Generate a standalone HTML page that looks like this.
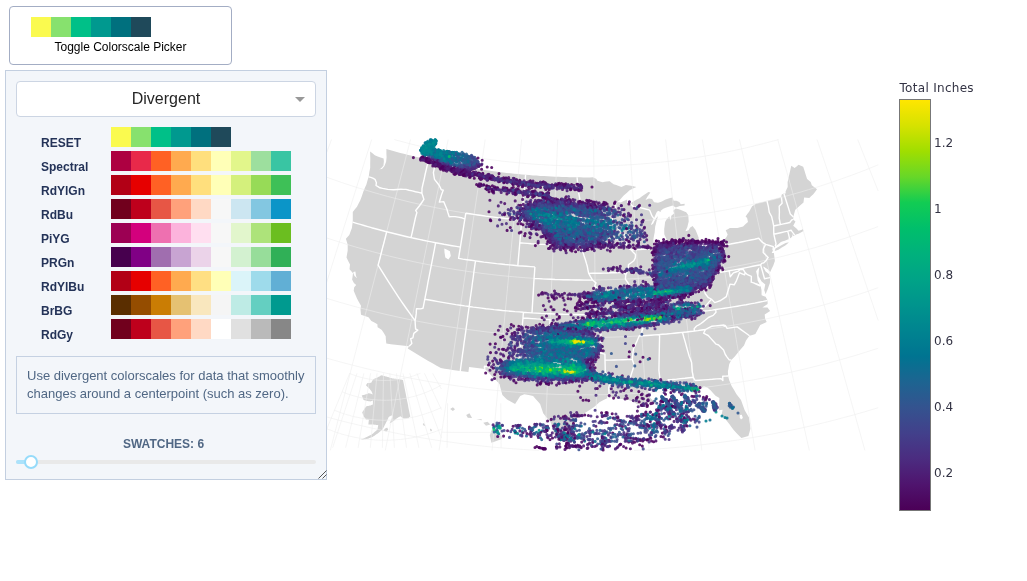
<!DOCTYPE html>
<html><head><meta charset="utf-8"><title>Colorscale Picker</title>
<style>
html,body{margin:0;padding:0;background:#fff;}
body{width:1027px;height:581px;position:relative;overflow:hidden;font-family:"Liberation Sans",sans-serif;}
#map{position:absolute;left:0;top:0;}
</style></head><body>
<svg id="map" width="1027" height="581" viewBox="0 0 1027 581">
<g fill="#d4d4d4" stroke="none" fill-rule="evenodd"><path d="M370.1,151.4L372.5,153.3L374.8,155.2L377.7,156.4L380.5,157.5L383.6,158.4L383.9,161.2L383.4,165.8L380.9,168.6L379.1,169.2L382.0,168.9L384.5,166.1L386.1,161.8L386.6,157.3L386.4,153.7L386.4,149.0L389.8,150.0L393.3,151.0L396.8,151.9L400.3,152.9L403.8,153.8L407.3,154.7L410.8,155.6L414.3,156.5L417.9,157.3L421.4,158.2L424.9,159.0L428.4,159.8L432.1,160.6L435.8,161.4L439.5,162.2L443.2,163.0L446.9,163.7L450.6,164.4L454.3,165.1L458.0,165.8L461.8,166.5L465.5,167.1L469.2,167.8L473.0,168.4L476.7,169.0L480.5,169.5L484.2,170.1L487.9,170.6L491.7,171.1L495.4,171.6L499.2,172.1L503.0,172.5L506.7,172.9L510.5,173.3L514.3,173.7L518.0,174.1L521.8,174.5L525.6,174.8L529.2,175.1L532.9,175.4L536.6,175.6L540.3,175.9L544.0,176.1L547.6,176.3L551.3,176.5L555.0,176.7L558.7,176.8L562.4,177.0L566.1,177.1L569.7,177.2L573.4,177.3L577.1,177.3L580.3,177.3L583.4,177.4L586.6,177.4L589.7,177.4L592.9,177.3L596.5,179.0L597.1,180.4L599.9,181.4L602.8,182.3L604.7,181.8L606.6,181.4L609.7,181.3L611.6,182.7L613.6,184.2L616.2,185.1L618.8,186.1L621.4,187.0L623.6,186.1L625.9,185.1L629.2,185.6L632.5,186.1L634.4,186.5L636.4,186.9L633.0,188.6L629.6,190.2L626.7,192.9L623.7,195.6L621.5,198.0L619.3,200.4L617.0,202.2L619.0,202.3L620.9,202.4L623.2,201.3L625.5,200.3L627.2,199.4L626.9,203.2L630.3,203.6L632.2,202.3L634.2,200.9L636.9,199.6L639.5,198.3L641.7,196.6L643.9,194.9L646.2,193.5L648.4,192.0L650.4,192.4L648.8,194.7L647.2,196.9L645.5,199.9L648.9,198.5L652.1,199.1L654.1,202.3L658.0,202.8L659.9,202.2L661.8,201.6L663.7,200.5L665.5,199.4L667.8,198.7L670.1,198.1L672.6,197.6L673.6,200.8L676.4,200.8L679.3,202.1L680.8,204.3L684.7,203.8L684.5,205.5L682.2,205.7L679.8,205.9L677.8,206.7L675.8,207.5L672.6,205.6L670.3,206.3L667.9,206.9L665.6,207.8L663.3,208.8L660.4,210.9L661.3,212.2L658.0,210.8L656.5,212.6L655.2,215.6L653.9,218.6L652.6,221.0L651.4,223.4L651.0,225.2L653.1,223.8L654.5,221.1L655.9,218.4L658.0,215.9L657.3,218.6L656.5,221.2L655.9,223.9L655.2,226.5L654.9,229.4L654.7,232.3L654.0,235.8L653.4,239.3L653.5,242.7L654.2,245.6L654.8,248.5L655.1,251.8L657.0,255.7L658.0,257.3L660.7,258.0L663.8,256.1L665.7,252.0L666.6,249.0L667.6,246.0L667.0,240.3L665.6,237.3L664.3,234.3L664.2,229.1L664.7,225.6L665.1,222.1L666.5,219.5L669.3,216.2L670.6,220.4L671.3,215.7L674.3,213.3L673.2,210.7L675.7,208.5L678.0,209.1L680.3,209.7L683.2,210.9L686.2,212.2L688.3,215.3L688.5,218.5L688.7,221.6L688.0,224.3L687.4,227.0L685.4,231.3L688.6,230.3L689.9,227.8L692.6,226.1L695.6,229.9L697.1,233.7L698.6,237.6L698.6,242.0L696.0,244.3L694.2,246.9L693.8,250.4L692.1,253.2L696.1,254.7L698.8,255.5L703.0,254.9L705.0,254.3L707.1,253.7L709.0,252.0L710.8,250.2L713.5,248.5L716.1,246.7L719.2,244.2L721.8,242.4L724.2,239.8L726.5,237.1L727.7,234.6L725.7,230.3L727.8,229.2L729.9,228.1L733.7,228.0L737.4,227.9L740.2,227.2L743.1,226.6L744.6,225.0L746.2,223.4L748.0,221.9L747.1,217.9L745.6,216.5L747.3,214.1L749.1,211.7L750.6,209.0L752.1,206.3L754.1,205.0L756.0,203.7L759.7,202.8L763.3,201.9L767.0,201.0L770.6,200.1L774.2,199.2L777.8,198.3L781.4,197.3L781.6,194.8L783.8,193.3L785.7,193.4L785.6,191.4L786.7,189.1L787.7,186.9L787.6,182.2L788.3,178.8L789.3,174.4L790.3,170.1L791.3,165.7L794.6,168.0L796.6,166.4L798.5,164.8L800.9,165.8L803.2,166.8L804.5,170.8L805.8,174.9L807.1,178.9L810.7,181.9L811.8,185.2L813.4,186.5L817.0,189.3L815.2,191.8L813.3,194.3L811.3,196.1L809.3,197.9L806.7,197.8L804.1,197.6L803.5,202.6L800.9,204.8L798.4,207.0L795.3,209.7L794.0,214.2L793.4,217.0L793.1,219.6L795.5,221.5L794.4,223.6L793.2,225.7L796.5,228.4L798.5,230.8L801.4,230.0L802.8,229.0L803.4,230.9L800.9,232.4L798.5,233.8L796.0,234.5L794.8,235.4L792.9,236.1L791.9,233.8L792.2,236.7L789.2,239.0L787.1,239.8L784.9,240.7L782.9,241.3L780.9,241.9L778.0,244.4L775.3,246.2L773.7,248.4L773.1,250.3L771.7,253.0L773.9,253.1L774.4,257.1L774.9,261.1L773.3,265.6L771.7,268.8L770.2,271.9L767.8,269.2L765.7,267.9L763.6,266.6L763.3,267.3L765.6,271.5L768.9,274.0L770.1,277.6L769.9,282.9L768.8,286.1L767.7,289.3L766.6,291.8L765.6,294.2L764.2,290.1L764.7,287.3L765.3,284.5L761.4,281.2L759.9,278.6L758.5,276.0L758.8,271.2L759.3,267.0L757.7,269.1L756.1,271.2L757.0,275.1L757.3,278.0L757.7,280.8L759.8,284.5L757.1,283.6L754.5,282.7L757.5,284.4L760.6,286.1L761.5,290.0L761.6,295.3L765.6,296.8L767.6,300.5L767.6,304.0L765.0,305.8L762.3,307.5L764.9,307.5L767.5,307.6L770.1,311.1L767.4,312.8L764.7,314.4L765.1,318.7L766.7,321.9L763.5,323.4L760.2,324.9L757.8,329.5L755.4,334.1L752.4,334.9L749.5,335.8L747.8,338.1L746.0,340.5L744.0,345.5L741.6,348.3L739.2,351.0L737.0,353.7L734.8,356.4L731.3,360.1L729.2,364.3L728.6,367.8L727.9,371.4L728.1,376.0L729.3,380.5L730.5,383.2L731.6,385.9L734.1,390.1L736.5,394.3L738.7,397.1L741.0,399.9L742.8,405.1L744.7,410.3L746.9,413.9L749.0,417.6L749.5,421.3L750.0,425.1L750.4,428.8L749.4,432.4L748.4,436.0L744.9,437.0L741.4,438.0L737.6,434.2L733.9,430.3L731.6,427.2L729.3,424.1L726.1,420.0L723.9,417.2L721.7,414.4L722.6,409.7L719.0,410.2L719.1,407.0L719.2,403.8L719.3,400.9L719.4,398.1L715.5,395.7L713.2,393.2L710.8,390.6L707.4,387.6L703.8,386.3L701.1,388.4L698.1,390.8L695.2,393.1L691.1,392.5L688.2,388.2L684.3,387.0L680.5,385.8L676.6,386.5L672.7,387.1L669.6,388.0L665.0,388.9L665.1,384.1L663.9,387.7L660.9,387.6L658.5,387.6L656.0,387.7L653.6,388.5L651.2,389.2L650.0,390.7L647.4,391.7L651.0,393.2L649.8,397.3L651.9,399.4L654.1,401.6L655.7,403.2L652.3,404.6L649.9,402.7L647.5,400.9L644.2,403.4L640.7,403.9L637.3,404.3L633.2,401.7L630.6,400.7L628.1,399.7L624.1,399.3L621.6,399.1L619.1,398.9L616.1,398.0L613.1,397.1L610.4,397.6L607.7,398.1L603.5,400.1L599.4,402.2L596.9,404.5L594.4,406.8L590.4,409.4L586.4,412.0L582.4,414.5L578.4,417.0L576.3,419.6L574.3,422.1L573.2,425.5L572.1,428.9L572.6,432.3L573.1,435.7L574.5,440.7L569.9,441.6L566.8,440.4L563.7,439.2L559.1,437.1L554.5,435.0L553.3,430.9L552.1,426.8L550.9,422.7L548.3,419.5L545.7,416.4L543.2,413.3L541.6,408.6L540.1,404.0L537.7,401.3L535.4,398.7L533.1,396.0L528.7,395.1L524.3,394.2L520.2,396.0L517.7,399.9L515.1,403.9L511.0,401.7L507.0,399.5L504.7,397.3L502.4,395.1L501.4,391.4L500.4,387.7L499.5,383.9L496.2,380.6L492.9,377.2L489.7,373.8L487.4,371.4L485.1,368.9L481.1,368.5L477.1,368.0L473.1,367.5L469.1,367.0L468.4,372.1L464.3,371.6L460.3,371.0L456.4,370.5L452.5,369.9L448.6,369.3L444.7,368.7L440.9,368.1L436.7,365.7L432.5,363.3L428.3,360.9L424.1,358.5L420.0,356.0L415.9,353.5L411.8,351.0L407.7,348.5L409.1,346.2L404.6,345.8L400.0,345.3L395.4,344.7L390.9,344.2L386.3,343.6L385.9,339.8L385.7,336.2L383.8,333.1L381.8,330.0L379.7,328.6L377.6,327.2L377.4,324.2L374.4,322.6L371.4,321.0L368.5,317.3L364.8,316.0L361.0,314.7L360.5,309.3L361.0,305.8L359.0,302.3L357.1,298.8L355.4,294.8L353.7,290.7L354.2,287.3L356.2,284.9L353.9,283.0L352.1,279.5L352.6,276.4L353.0,273.2L351.3,271.2L349.5,269.2L350.0,264.5L348.2,261.0L346.5,257.5L347.1,254.1L347.7,250.6L347.7,247.6L347.7,244.6L346.8,241.7L345.9,238.7L349.3,234.9L350.6,231.4L351.9,227.9L352.3,225.0L352.7,222.2L352.8,219.2L352.8,216.2L352.8,212.0L354.9,209.3L357.0,206.7L358.6,203.6L360.2,200.5L361.8,196.2L363.3,191.8L364.8,188.1L366.4,184.4L367.5,180.6L368.7,176.8L369.4,171.7L370.2,167.8L370.2,163.6L370.3,159.5L370.2,155.5L370.1,151.4ZM739.8,415.1L741.8,414.7L742.9,418.0L741.0,419.5L739.7,417.4L739.8,415.1ZM444.3,248.4L447.1,249.8L449.9,251.2L450.8,256.0L448.4,259.6L445.3,257.4L444.5,252.5L444.3,248.4ZM353.3,272.1L355.4,271.5L356.0,275.8L356.8,277.9L354.5,276.0L353.4,273.3L353.3,272.1Z"/><path d="M775.5,248.6L777.8,247.3L780.1,245.9L782.8,244.5L785.6,243.1L788.9,242.3L787.1,243.9L785.3,245.6L781.8,247.6L778.4,249.7L774.7,250.9L775.5,248.6Z"/><path d="M410.3,416.6L409.9,414.7L409.5,412.7L409.1,410.8L408.7,408.9L408.3,407.0L408.0,405.0L407.6,403.1L407.2,401.2L406.8,399.2L406.4,397.3L406.1,395.4L405.7,393.5L405.3,391.5L404.9,389.6L404.5,387.7L404.2,385.8L403.8,383.9L403.4,382.0L403.0,380.1L402.4,379.9L401.8,379.7L401.1,379.6L400.5,379.4L399.9,379.2L399.3,379.0L398.6,378.9L398.0,378.9L397.4,378.9L396.8,378.9L396.1,378.8L395.5,378.8L394.9,378.7L394.3,378.7L393.6,378.6L393.0,378.6L392.4,378.4L391.8,378.2L391.1,378.1L390.5,377.9L389.9,377.7L389.3,377.5L388.7,377.3L388.1,377.1L387.5,376.9L386.9,376.8L386.3,376.6L385.7,376.5L385.0,376.3L384.4,376.1L383.8,375.9L383.2,375.7L382.6,375.6L382.0,375.4L381.4,375.2L380.8,375.6L380.1,376.0L379.5,376.4L378.8,376.7L378.1,377.1L377.5,377.4L376.9,377.7L376.3,378.0L375.7,378.3L375.0,378.6L374.4,378.8L373.8,379.1L373.1,379.4L372.5,380.5L371.9,381.6L371.2,382.7L370.6,382.8L369.9,382.9L369.2,383.0L368.6,383.1L367.9,383.1L367.2,383.2L366.6,384.2L365.9,385.2L366.5,385.8L367.1,386.4L367.7,387.0L368.3,387.6L369.0,388.2L369.6,388.8L370.1,389.5L370.6,390.2L371.1,390.8L371.6,391.5L372.0,392.5L372.4,393.5L372.8,394.5L372.2,394.2L371.5,394.0L370.9,393.8L370.2,393.6L369.6,393.4L368.9,393.1L368.2,393.4L367.5,393.7L366.8,394.0L366.0,394.3L365.3,394.5L364.6,394.8L363.9,395.0L363.2,395.1L362.5,395.3L361.7,395.5L362.2,396.6L362.6,397.7L363.1,398.8L363.6,399.9L364.2,400.1L364.8,400.4L365.4,400.6L366.2,400.8L367.0,400.9L367.8,401.0L368.6,401.2L369.5,401.3L370.3,401.4L371.0,401.2L371.6,400.9L372.3,400.7L373.0,400.5L372.9,401.8L372.9,403.2L372.9,404.5L372.2,404.8L371.4,405.1L370.7,405.4L369.9,405.6L369.1,405.8L368.3,406.0L367.6,406.1L366.8,406.3L366.0,406.4L365.2,407.8L364.3,409.1L363.5,410.4L362.8,411.4L362.2,412.3L362.6,413.5L363.0,414.8L363.5,416.1L364.1,416.9L364.7,417.8L365.3,418.6L366.0,419.4L367.0,419.5L367.9,419.6L368.9,419.8L368.7,421.3L368.5,422.9L368.4,424.5L369.1,424.5L369.9,424.5L370.7,424.5L371.5,424.5L372.5,424.6L373.5,424.6L374.5,424.7L375.6,424.8L376.5,424.9L377.4,424.9L378.2,425.0L378.0,426.5L377.7,428.1L377.4,429.7L376.4,430.5L375.5,431.3L374.5,432.1L373.6,432.9L372.6,433.7L371.6,434.5L370.6,435.0L369.6,435.5L368.6,436.0L367.7,436.5L366.7,437.0L365.6,437.5L364.5,438.0L363.4,438.5L362.3,438.9L361.1,439.4L360.0,439.9L361.1,439.7L362.2,439.6L363.3,439.5L364.4,439.3L365.5,439.2L366.6,439.0L367.6,438.7L368.6,438.4L369.6,438.0L370.5,437.7L371.5,437.3L372.5,437.0L373.5,436.3L374.5,435.7L375.4,435.0L376.4,434.3L377.4,433.7L378.3,433.0L379.2,432.2L380.1,431.4L381.0,430.7L381.8,429.9L382.7,429.1L383.4,427.8L384.1,426.4L384.8,425.1L385.5,423.7L386.2,422.3L386.9,421.0L387.5,419.7L388.1,418.4L388.7,417.0L389.4,416.6L390.1,416.2L390.8,415.8L391.5,415.3L392.0,415.9L392.6,416.5L392.0,417.9L391.4,419.3L390.8,420.7L390.2,422.0L389.5,423.4L390.4,422.9L391.3,422.4L392.1,421.9L393.0,421.3L393.8,420.8L394.5,420.3L395.2,419.7L395.9,419.1L396.6,418.6L397.4,418.1L398.1,417.6L398.9,417.1L399.6,416.7L400.3,416.2L401.1,416.8L401.9,417.4L402.8,418.0L403.6,418.6L404.4,418.5L405.2,418.5L406.1,418.4L406.9,418.3L407.7,418.2L408.5,418.2L409.1,417.6L409.7,417.1L410.3,416.6ZM383.5,430.7L384.5,431.0L385.6,431.2L386.6,431.5L387.4,430.5L388.2,429.5L387.7,428.5L387.1,427.5L386.4,427.9L385.6,428.3L384.8,428.7L384.2,429.7L383.5,430.7ZM424.0,426.1L424.6,425.7L425.1,425.3L424.5,424.3L423.8,423.2L423.3,423.6L422.7,423.9L423.4,425.0L424.0,426.1ZM430.9,431.5L431.6,430.8L432.2,430.2L431.5,429.4L430.7,428.6L430.3,429.1L429.9,429.7L430.4,430.6L430.9,431.5Z"/><path d="M491.4,442.7L496.3,441.0L501.1,439.2L502.7,437.5L500.8,435.2L498.9,433.0L495.4,431.3L491.9,429.6L490.8,432.5L489.8,435.3L490.6,439.0L491.4,442.7ZM483.3,422.8L486.0,425.7L490.3,424.5L487.6,421.7L483.3,422.8ZM476.3,420.0L479.3,420.1L482.2,420.2L481.2,418.9L476.3,420.0ZM466.2,414.9L467.8,417.7L472.1,418.0L469.4,413.2L466.2,414.9ZM450.2,409.1L452.9,411.1L455.0,409.2L452.9,407.2L450.2,409.1Z"/></g>
<path d="M319.0,447.8L340.2,396.4L349.7,373.3M332.6,447.8L348.4,399.5L357.0,373.3M345.6,447.8L356.9,401.9L363.9,373.3M358.1,447.8L365.5,403.7L370.6,373.3M370.3,447.8L374.2,404.8L377.1,373.3M447.1,447.8L447.6,403.3M382.4,447.8L383.0,405.2L383.5,373.3M501.1,447.8L500.8,403.3M394.4,447.8L391.8,405.0L389.9,373.3M406.5,447.8L400.6,404.2L396.4,373.3M418.9,447.8L409.3,402.7L403.0,373.3M284.0,152.9L289.8,139.5M431.7,447.8L417.8,400.5L409.8,373.3M284.0,266.7L328.5,147.6L331.5,139.5M441.4,438.0L426.1,397.7L416.9,373.3M284.0,417.9L309.2,337.9L365.1,160.2L371.7,139.5M441.4,409.5L434.2,394.3L424.5,373.3M330.3,450.4L355.8,351.3L402.4,170.9L410.5,139.5M441.4,389.0L432.6,373.3M385.3,450.4L403.1,362.2L440.1,179.6L448.2,139.5M439.1,450.4L450.9,370.6L478.3,186.3L485.2,139.5M492.1,450.4L499.1,376.4L516.7,191.0L521.6,139.5M544.6,450.4L547.6,379.7L555.4,193.6L557.7,139.5M596.8,450.4L596.1,380.5L594.1,194.2L593.6,139.5M649.1,450.4L644.6,378.7L632.8,192.8L629.5,139.5M701.8,450.4L692.9,374.4L671.4,189.3L665.6,139.5M755.1,450.4L741.0,367.5L709.8,183.8L702.3,139.5M809.3,450.4L788.6,358.1L747.8,176.4L739.5,139.5M864.9,450.4L835.7,346.2L785.4,166.9L777.7,139.5M878.2,320.5L822.4,155.4L817.0,139.5M878.2,191.0L858.7,142.1L857.7,139.5M441.4,432.2L447.2,432.3L458.0,432.4L468.7,432.4L479.5,432.4L490.2,432.4L501.0,432.4L506.0,432.3M284.0,404.4L287.8,405.6L297.8,408.7L307.9,411.7L317.9,414.6L328.0,417.3L338.1,420.0L348.2,422.6L358.4,425.0L368.6,427.4L378.8,429.6L389.0,431.7L399.3,433.8L409.6,435.7L419.9,437.5L430.2,439.2L440.5,440.8L450.9,442.2L461.2,443.6L471.6,444.9L482.0,446.0L492.4,447.1L502.8,448.0L513.3,448.8L523.7,449.5L534.1,450.1L538.8,450.4M634.0,450.4L638.6,450.1L649.1,449.5L659.5,448.8L669.9,448.0L680.3,447.1L690.8,446.0L701.1,444.9L711.5,443.6L721.9,442.2L732.2,440.8L742.6,439.2L752.9,437.5L763.2,435.7L773.5,433.8L783.7,431.7L794.0,429.6L804.2,427.4L814.4,425.0L824.5,422.6L834.7,420.0L844.8,417.3L854.9,414.6L864.9,411.7L874.9,408.7L878.2,407.7M284.0,344.7L286.1,345.4L295.5,348.5L304.9,351.5L314.3,354.5L323.7,357.3L333.2,360.0L342.7,362.6L352.3,365.1L361.8,367.5L371.4,369.8L381.0,372.0L390.6,374.2L400.3,376.2L410.0,378.1L419.7,379.9L429.4,381.6L439.1,383.2L448.9,384.7L458.6,386.1L468.4,387.4L478.2,388.6L488.0,389.6L497.8,390.6L507.6,391.5L517.4,392.3L527.3,393.0L537.1,393.5L547.0,394.0L556.8,394.4L566.7,394.6L576.5,394.8L586.4,394.8L596.2,394.8L606.1,394.6L616.0,394.4L625.8,394.0L635.7,393.5L645.5,393.0L655.3,392.3L665.2,391.5L675.0,390.6L684.8,389.6L694.6,388.6L704.4,387.4L714.2,386.1L723.9,384.7L733.7,383.2L743.4,381.6L753.1,379.9L762.8,378.1L772.5,376.2L782.1,374.2L791.8,372.0L801.4,369.8L810.9,367.5L820.5,365.1L830.0,362.6L839.5,360.0L849.0,357.3L858.5,354.5L867.9,351.5L877.3,348.5L878.2,348.2M284.0,283.9L287.0,285.0L295.7,288.1L304.5,291.2L313.3,294.1L322.1,296.9L330.9,299.6L339.8,302.3L348.7,304.8L357.6,307.3L366.6,309.6L375.6,311.9L384.6,314.1L393.6,316.1L402.6,318.1L411.7,320.0L420.8,321.8L429.9,323.5L439.0,325.1L448.1,326.6L457.3,328.0L466.4,329.3L475.6,330.5L484.8,331.7L494.0,332.7L503.2,333.6L512.4,334.4L521.6,335.2L530.9,335.8L540.1,336.3L549.4,336.8L558.6,337.1L567.9,337.3L577.1,337.5L586.4,337.5L595.6,337.5L604.9,337.3L614.2,337.1L623.4,336.8L632.6,336.3L641.9,335.8L651.1,335.2L660.4,334.4L669.6,333.6L678.8,332.7L688.0,331.7L697.2,330.5L706.3,329.3L715.5,328.0L724.7,326.6L733.8,325.1L742.9,323.5L752.0,321.8L761.1,320.0L770.2,318.1L779.2,316.1L788.2,314.1L797.2,311.9L806.2,309.6L815.1,307.3L824.1,304.8L833.0,302.3L841.8,299.6L850.7,296.9L859.5,294.1L868.3,291.2L877.0,288.1L878.2,287.7M284.0,222.4L290.4,224.9L298.5,228.0L306.6,230.9L314.7,233.8L322.9,236.7L331.1,239.4L339.4,242.0L347.6,244.6L355.9,247.1L364.2,249.4L372.6,251.7L381,253.9L389.3,256.1L397.7,258.1L406.2,260.0L414.6,261.9L423.1,263.6L431.6,265.3L440.1,266.9L448.6,268.4L457.2,269.8L465.7,271.1L474.3,272.3L482.8,273.5L491.4,274.5L500.0,275.5L508.6,276.3L517.3,277.1L525.9,277.8L534.5,278.4L543.1,278.9L551.8,279.3L560.4,279.6L569.1,279.8L577.7,280.0L586.4,280.0L595.0,280.0L603.7,279.8L612.3,279.6L621.0,279.3L629.6,278.9L638.3,278.4L646.9,277.8L655.5,277.1L664.1,276.3L672.7,275.5L681.3,274.5L689.9,273.5L698.5,272.3L707.1,271.1L715.6,269.8L724.2,268.4L732.7,266.9L741.2,265.3L749.7,263.6L758.1,261.9L766.6,260.0L775.0,258.1L783.4,256.1L791.8,253.9L800.2,251.7L808.5,249.4L816.8,247.1L825.1,244.6L833.4,242.0L841.6,239.4L849.9,236.7L858.0,233.8L866.2,230.9L874.3,228.0L878.2,226.5M284.0,160.4L288.6,162.4L296.1,165.4L303.5,168.5L311.0,171.4L318.5,174.3L326.1,177.0L333.7,179.7L341.3,182.4L348.9,184.9L356.6,187.4L364.3,189.7L372.0,192.0L379.7,194.2L387.5,196.4L395.3,198.4L403.1,200.4L410.9,202.3L418.7,204.1L426.6,205.8L434.5,207.4L442.4,209.0L450.3,210.5L458.2,211.9L466.2,213.2L474.1,214.4L482.1,215.5L490.1,216.6L498.1,217.6L506.1,218.5L514.1,219.3L522.1,220.0L530.1,220.6L538.1,221.2L546.2,221.6L554.2,222.0L562.2,222.3L570.3,222.5L578.3,222.6L586.4,222.7L594.4,222.6L602.5,222.5L610.5,222.3L618.6,222.0L626.6,221.6L634.6,221.2L642.7,220.6L650.7,220.0L658.7,219.3L666.7,218.5L674.7,217.6L682.7,216.6L690.7,215.5L698.7,214.4L706.6,213.2L714.6,211.9L722.5,210.5L730.4,209.0L738.3,207.4L746.2,205.8L754.0,204.1L761.9,202.3L769.7,200.4L777.5,198.4L785.3,196.4L793.0,194.2L800.8,192.0L808.5,189.7L816.2,187.4L823.8,184.9L831.5,182.4L839.1,179.7L846.7,177.0L854.2,174.3L861.8,171.4L869.2,168.5L876.7,165.4L878.2,164.8M319.2,447.1L320.8,447.8M394.3,139.5L395.0,139.8L402.2,141.7L409.4,143.6L416.6,145.4L423.9,147.2L431.1,148.9L438.4,150.5L445.7,152.0L453.0,153.4L460.4,154.8L467.7,156.1L475.1,157.3L482.4,158.4L489.8,159.5L497.2,160.5L504.6,161.4L512.0,162.2L519.4,162.9L526.8,163.6L534.3,164.2L541.7,164.7L549.1,165.1L556.6,165.5L564.0,165.7L571.5,165.9L578.9,166.1L586.4,166.1L593.8,166.1L601.3,165.9L608.7,165.7L616.2,165.5L623.6,165.1L631.1,164.7L638.5,164.2L645.9,163.6L653.4,162.9L660.8,162.2L668.2,161.4L675.6,160.5L683.0,159.5L690.3,158.4L697.7,157.3L705.1,156.1L712.4,154.8L719.7,153.4L727.0,152.0L734.3,150.5L741.6,148.9L748.9,147.2L756.1,145.4L763.4,143.6L770.6,141.7L777.8,139.8L778.5,139.5M326.8,428.8L328.9,429.6L331.1,430.4L333.2,431.2L335.4,432.0L337.5,432.7L339.7,433.4L341.9,434.1L344.1,434.7L346.3,435.3L348.5,435.9L350.8,436.4L353.0,436.9L355.2,437.4L357.5,437.8L359.7,438.2L362.0,438.5L364.3,438.9L366.5,439.2L368.8,439.4L371.1,439.6L373.4,439.8L375.6,440.0L377.9,440.1L380.2,440.2L382.5,440.2L384.8,440.3L387.1,440.2L389.4,440.2L391.6,440.1L393.9,440.0L396.2,439.8L398.5,439.6L400.8,439.4L403.0,439.2L405.3,438.9L407.6,438.5L409.8,438.2L412.1,437.8L414.3,437.4L416.6,436.9L418.8,436.4L421.0,435.9L423.3,435.3L425.5,434.7L427.7,434.1L429.9,433.4L432.0,432.7L434.2,432.0L436.4,431.2L438.5,430.4L440.6,429.6L441.4,429.3M334.4,410.3L336.3,411.0L338.1,411.7L340.0,412.4L341.9,413.1L343.7,413.7L345.6,414.3L347.5,414.9L349.5,415.4L351.4,416.0L353.3,416.5L355.2,416.9L357.2,417.3L359.1,417.7L361.1,418.1L363.0,418.5L365.0,418.8L367.0,419.1L368.9,419.3L370.9,419.5L372.9,419.7L374.9,419.9L376.8,420.0L378.8,420.1L380.8,420.2L382.8,420.2L384.8,420.3L386.8,420.2L388.8,420.2L390.7,420.1L392.7,420.0L394.7,419.9L396.7,419.7L398.7,419.5L400.6,419.3L402.6,419.1L404.6,418.8L406.5,418.5L408.5,418.1L410.4,417.7L412.4,417.3L414.3,416.9L416.3,416.5L418.2,416.0L420.1,415.4L422.0,414.9L423.9,414.3L425.8,413.7L427.7,413.1L429.6,412.4L431.4,411.7L433.3,411.0L435.1,410.3L437.0,409.5L438.8,408.7L440.6,407.9L441.4,407.5M342.1,391.8L343.6,392.4L345.2,393.0L346.8,393.6L348.4,394.2L350.0,394.7L351.6,395.2L353.2,395.7L354.8,396.2L356.4,396.6L358.1,397.0L359.7,397.4L361.4,397.8L363.0,398.1L364.7,398.4L366.3,398.7L368.0,399.0L369.7,399.2L371.3,399.5L373.0,399.6L374.7,399.8L376.4,399.9L378.0,400.1L379.7,400.1L381.4,400.2L383.1,400.2L384.8,400.3L386.5,400.2L388.2,400.2L389.8,400.1L391.5,400.1L393.2,399.9L394.9,399.8L396.6,399.6L398.2,399.5L399.9,399.2L401.6,399.0L403.2,398.7L404.9,398.4L406.6,398.1L408.2,397.8L409.9,397.4L411.5,397.0L413.1,396.6L414.8,396.2L416.4,395.7L418.0,395.2L419.6,394.7L421.2,394.2L422.8,393.6L424.4,393.0L425.9,392.4L427.5,391.8L429.1,391.1L430.6,390.5L432.1,389.8L433.7,389.0L435.2,388.3L436.7,387.5L438.2,386.7L439.6,385.9L441.1,385.1L441.4,384.9M349.6,373.5L350.9,374.0L352.2,374.5L353.5,375.0L354.8,375.4L356.1,375.9L357.4,376.3L358.8,376.7L360.1,377.1L361.5,377.5L362.8,377.8L364.1,378.1L365.5,378.4L366.9,378.7L368.2,379.0L369.6,379.2L371.0,379.4L372.3,379.6L373.7,379.8L375.1,379.9L376.5,380.1L377.9,380.2L379.2,380.3L380.6,380.4L382.0,380.4L383.4,380.4L384.8,380.5L386.2,380.4L387.6,380.4L388.9,380.4L390.3,380.3L391.7,380.2L393.1,380.1L394.5,379.9L395.9,379.8L397.2,379.6L398.6,379.4L400.0,379.2L401.3,379.0L402.7,378.7L404.1,378.4L405.4,378.1L406.8,377.8L408.1,377.5L409.5,377.1L410.8,376.7L412.1,376.3L413.4,375.9L414.8,375.4L416.1,375.0L417.4,374.5L418.7,374.0L419.9,373.5L420.4,373.3" fill="none" stroke="#eeeeee" stroke-width="1" opacity="0.58"/>
<path d="M368.7,176.8L370.8,177.4L372.8,178.1L375.0,179.3L376.4,182.7L376.0,185.5L378.0,186.7L379.9,187.8L382.6,188.4L385.2,188.9L387.8,189.4L390.6,189.6L393.5,189.7L397.2,189.5L401.0,189.3L403.4,189.4L405.9,189.4L409.1,190.2L412.3,190.9L415.5,191.7L418.7,192.4L421.9,193.2M428.4,159.8L427.4,164.5L426.3,169.3L425.2,174.0L424.2,178.8L423.1,183.5L422.0,188.3L421.9,193.2M421.9,193.2L422.9,196.3L423.9,199.4L421.8,202.5L419.7,205.5L417.7,208.0L415.7,210.5L416.9,212.5L415.5,217.5L414.4,222.5L413.3,227.5L412.2,232.6L411.0,237.6M352.7,222.2L356.5,223.3L360.3,224.4L364.0,225.5L367.8,226.6L371.6,227.7L375.4,228.7L379.2,229.7L382.9,230.7L386.7,231.7L390.8,232.8L394.8,233.8L398.9,234.8L402.9,235.7L407.0,236.7L411.0,237.6L415.1,238.5L419.2,239.4L423.3,240.3L427.4,241.1L431.5,241.9L435.6,242.7L439.8,243.5L443.9,244.3L448.0,245.0L452.1,245.7L456.3,246.4L460.4,247.1M386.7,231.7L385.3,237.3L383.9,242.9L382.4,248.4L381.0,254.0L379.6,259.6L378.1,265.1L380.6,269.1L383.1,273.2L385.6,277.2L388.1,281.2L390.7,285.2L393.3,289.1L395.9,293.1L398.5,297.1L401.2,301.1L403.9,305.0L406.7,309.0L409.5,312.9L412.3,316.8L415.1,320.7M415.1,320.7L415.2,323.1L415.4,326.1L415.6,329.0L417.8,330.1L413.8,333.4L412.9,337.9L410.7,338.6L411.8,343.5L409.1,346.2M415.1,320.7L415.7,317.3L416.2,313.9L416.5,308.7L420.5,308.9L423.0,308.3L423.9,303.8L424.8,299.2M424.8,299.2L425.9,293.5L427.0,287.9L428.0,282.2L429.1,276.6L430.2,270.9L431.3,265.3L432.4,259.6L433.5,254.0L434.6,248.4L435.6,242.7M424.8,299.2L429.2,300.0L433.6,300.8L438.1,301.6L442.5,302.4L446.9,303.1L451.4,303.9L455.8,304.6L460.3,305.2L464.7,305.9L469.2,306.5L473.3,307.1L477.5,307.6L481.6,308.1L485.8,308.7L490.0,309.1L494.1,309.6L498.3,310.0L502.5,310.5L506.7,310.9L510.8,311.2L515.0,311.6L519.2,311.9L523.4,312.3L527.7,312.6L532.0,312.9L536.5,313.1L540.9,313.4L545.4,313.6L549.8,313.8L554.3,314.0L558.7,314.1L563.2,314.3L567.7,314.4L572.1,314.5L576.6,314.5L581.0,314.6L585.5,314.6L590.0,314.6L594.4,314.5L598.9,314.5M435.8,161.4L435.0,165.2L434.2,168.9L433.4,172.7L433.9,176.0L434.5,179.4L436.8,182.3L439.1,185.2L440.2,187.4L441.3,189.7L443.3,190.1L441.6,194.4L440.5,198.2L439.3,202.1L441.6,201.9L443.8,201.8L445.3,205.5L446.9,209.3L448.0,213.0L449.2,216.7L452.1,216.6L455.0,216.6L458.2,217.1L461.4,217.7L464.9,219.1M465.8,213.2L464.9,218.8L464.0,224.4L463.1,230.1L462.2,235.8L461.3,241.4L460.4,247.1L459.5,252.7L458.6,258.4L462.8,259.1L467.0,259.7L471.2,260.3L475.5,260.9M465.8,213.2L469.8,213.8L473.8,214.4L477.8,215.0L481.7,215.5L485.7,216.1L489.7,216.6L493.7,217.1L497.7,217.6L501.7,218.0L505.7,218.5L509.7,218.9L513.7,219.3L517.7,219.6L521.7,220.0M525.6,174.8L525.1,180.4L524.6,186.0L524.1,191.7L523.6,197.3L523.2,203.0L522.7,208.6L522.2,214.3L521.7,220.0L521.2,225.7L520.8,231.4L520.3,237.1L519.8,242.8L519.3,248.5L518.8,254.2L518.3,259.9L517.8,265.7M475.5,260.9L479.7,261.5L483.9,262.1L488.2,262.6L492.4,263.1L496.6,263.6L500.9,264.0L505.1,264.5L509.4,264.9L513.6,265.3L517.8,265.7L522.1,266.0L526.4,266.3L530.6,266.6L534.9,266.9M475.5,260.9L474.7,266.4L473.9,271.9L473.2,277.5L472.4,283.0L471.7,288.5L470.9,294.0L470.1,299.5L469.4,305.0L468.6,310.5L467.8,316.0L467.1,321.5L466.3,327.1L465.6,332.6L464.8,338.1L464.0,343.6L463.3,349.1L462.5,354.5L461.8,360.0L461.0,365.5L460.3,371.0M534.9,266.9L534.5,272.7L534.1,278.4L533.8,283.3L533.5,288.2L533.2,293.2L532.9,298.1L532.6,303.0L532.3,307.9L532.0,312.9M534.1,278.4L538.3,278.6L542.5,278.9L546.6,279.1L550.8,279.3L555.0,279.5L559.1,279.6L563.3,279.7L567.5,279.8L571.6,279.9L575.8,280.0L580.0,280.0L584.1,280.1L588.3,280.1L592.5,280.0M523.4,312.3L523.0,318.0M523.0,318.0L522.5,323.2L522.1,328.3L521.7,333.5L521.2,338.6L520.8,343.8L520.3,348.9L519.9,354.1L519.5,359.2L519.0,364.4L518.6,369.5L514.3,369.2L510.1,368.8L505.8,368.4L501.5,368.1L497.3,367.7L493.0,367.2L488.7,366.8L484.5,366.3L484.4,367.4L485.1,368.9M523.0,318.0L527.5,318.3L532.0,318.6L536.5,318.9L541.1,319.1L545.6,319.4L550.1,319.6L549.9,325.1L549.7,330.7L549.4,336.3L549.2,341.9L552.9,343.8L556.5,345.7L559.8,346.7L563.0,347.6L566.8,347.4L571.0,349.5L575.2,351.5L578.0,351.2L580.8,350.8L584.6,350.8L588.3,350.8L591.1,350.3L593.9,349.8L597.3,351.5L600.8,353.1M522.6,209.3L526.6,209.6L530.5,209.9L534.5,210.2L538.4,210.5L542.4,210.7L546.3,211.0L550.3,211.2L554.3,211.3L558.2,211.5L562.2,211.6L566.1,211.7L570.1,211.8L574.1,211.9L578.0,212.0L582.0,212.0M519.8,242.8L523.6,243.1L527.4,243.4L531.3,243.7L535.1,243.9L538.9,244.2L542.7,244.4L546.6,244.6L550.4,244.8L554.2,244.9L558.1,245.1L561.9,245.2L565.7,245.3L567.8,246.7L569.8,248.1L572.3,247.6L574.8,247.1L577.7,248.7L580.6,250.2L582.7,251.4M577.1,177.3L577.4,181.1L577.7,184.8L578.0,188.6L578.6,192.4L579.3,196.2L580.0,199.9L580.8,203.9L581.7,207.9L582.0,212.0M582.0,212.0L579.7,215.9L582.8,219.3L582.8,224.4L582.8,229.6L582.8,234.7L582.7,239.9M582.7,239.9L581.5,244.4L582.1,247.9L582.7,251.4M582.7,239.9L586.6,239.9L590.6,239.9L594.5,239.8L598.4,239.8L602.3,239.7L606.2,239.6L610.1,239.5L614.0,239.4L617.9,239.2L621.8,239.1L625.8,238.9M582.7,251.4L584.1,256.0L585.6,260.5L586.4,263.4L587.3,266.3L587.9,269.7L588.6,273.2L590.5,276.6L592.5,280.0M592.5,280.0L596.0,282.9L594.7,285.8L596.7,287.9L598.7,290.1L598.7,295.0L598.8,299.9L598.8,304.7L598.8,309.6L598.9,314.5L599.0,320.2M588.6,273.4L592.4,273.3L596.3,273.3L600.1,273.2L603.9,273.1L607.8,273.0L611.6,272.8L615.5,272.7L619.3,272.5L623.1,272.3L625.8,274.7M599.0,320.2L599.6,324.5L600.2,328.7L600.9,332.9L600.9,337.9L600.8,343.0L600.8,348.0L600.8,353.1M600.8,353.1L604.9,354.1L605.0,357.1L605.0,360.1M605.0,360.1L605.1,364.0L605.2,367.9L605.3,371.8L607.0,374.6L608.7,377.5L610.3,382.0L609.5,384.9L608.7,387.8L608.9,390.6L609.1,393.5L607.7,398.1M605.0,360.1L609.6,360.1L614.1,360.0L618.7,359.9L623.2,359.7L627.8,359.6L632.3,359.4M599.0,320.2L603.5,320.2L608.0,320.1L612.5,319.9L617.0,319.8L621.5,319.6L626.0,319.4L630.5,319.2L635.0,319.0L639.5,318.7L638.6,321.6L637.7,324.6L640.8,324.4L643.9,324.2M617.0,202.2L615.5,203.4L615.6,206.5L615.7,209.6L613.4,212.0L611.1,214.3L612.5,218.9L612.6,222.0L612.7,225.1L614.6,226.5L616.4,227.9L619.8,230.0L622.3,232.5L624.9,234.9L625.8,238.9M625.8,238.9L626.1,243.5L627.6,247.4L631.2,250.0M631.2,250.0L635.1,249.8L639.1,249.6L643.0,249.3L646.9,249.1L650.9,248.8L654.8,248.5M631.2,250.0L633.3,252.2L635.5,254.4L635.3,257.9L633.8,260.8L631.2,262.7L628.5,264.6L628.3,269.2L627.1,272.0L625.8,274.7M625.8,274.7L625.4,279.1L627.7,282.5L630.0,285.8L632.9,290.3L635.2,291.3L637.4,292.3L637.0,295.8L636.5,299.3L638.6,300.9L640.7,302.5L642.7,305.8L644.7,309.1L648.1,312.4M648.1,312.4L647.2,315.3L646.3,318.3L645.1,321.2L643.9,324.2L642.5,329.5L640.9,334.7L639.2,336.0L637.9,339.0L636.7,341.9L635.0,345.4L633.4,349.0L632.8,354.2L632.3,359.4L633.2,362.2L634.2,365.0L632.6,370.3L630.9,375.5L629.9,379.0L629.0,382.5M629.0,382.5L633.6,382.3L638.2,382.0L642.8,381.7L647.5,381.4L646.5,385.5L648.3,388.1L650.0,390.7M658.0,257.3L658.4,262.7L658.9,268.1L659.4,273.5L659.8,278.9L660.3,284.2L659.7,289.5L658.9,293.0L658.1,296.6L657.7,299.5L657.2,302.4M657.2,302.4L655.8,306.6L654.3,310.7L651.2,311.6L648.1,312.4M657.2,302.4L661.1,300.3L663.4,301.0L665.7,301.7L668.2,300.3L670.8,298.9L675.2,298.4L677.1,295.1L678.3,292.3L679.6,289.5L681.9,287.1L684.2,284.7M684.2,284.7L683.6,279.7L683.0,274.8L682.5,269.8L681.9,264.8L681.4,259.9L680.8,255.0M663.8,256.1L667.2,255.8L670.6,255.4L674.0,255.0L677.3,254.7L680.7,254.3L680.8,255.0L684.6,254.4L688.3,253.8L692.1,253.2M684.2,284.7L686.9,284.3L690.0,287.4L692.3,288.0L694.6,288.6L697.6,287.7L700.5,286.9L702.5,288.4L704.5,289.9M704.5,289.9L707.7,287.3L707.2,283.9L711.0,282.2L712.9,277.3L715.1,274.9L717.2,272.5L718.0,269.8L718.7,267.0L718.6,261.9M720.3,272.4L719.4,267.2L718.6,262.1L717.8,257.0L716.9,251.8L716.1,246.7M720.3,272.4L723.3,271.9L726.2,271.4L729.2,270.8L733.1,270.1L737.1,269.4L741.0,268.7L745.0,267.9L748.9,267.1L752.8,266.3L756.7,265.5L760.6,264.7L762.0,263.1L763.6,263.1M760.6,264.7L761.9,269.4L763.2,274.0L764.5,278.7L767.3,278.1L770.1,277.6M763.6,263.1L765.9,260.8L768.2,257.4L765.7,255.0L763.2,252.6L763.3,249.0L764.5,246.6L765.7,244.3M765.7,244.3L769.5,245.5L773.3,246.7L773.1,250.3M765.7,244.3L762.2,242.2L758.7,238.3L754.7,239.2L750.7,240.0L746.6,240.9L742.6,241.7L738.6,242.5L734.5,243.2L730.5,244.0L726.4,244.7L722.3,245.4L721.8,242.4M775.3,246.2L776.0,243.7L774.9,239.0L773.8,234.2M773.8,234.2L773.7,230.1L773.7,226.0M773.7,226.0L772.7,221.2L771.6,216.5L769.3,212.3L768.8,209.5L768.4,206.7L767.7,203.8L767.0,201.0M773.7,226.0L777.0,225.3L780.3,224.6L783.5,223.9L786.6,223.2L789.8,222.5L791.7,219.9L793.1,219.6M780.3,224.6L779.8,221.3L779.2,218.1L779.3,215.1L779.4,212.2L779.3,209.2L779.2,206.3L782.1,203.2L781.8,200.3L781.4,197.3M793.4,217.0L790.3,214.0L789.3,210.7L788.3,207.5L786.8,202.7L785.3,198.0L783.8,193.3M773.8,234.2L777.2,233.5L780.7,232.7L784.2,231.9L787.7,231.1L791.1,230.2L791.9,231.4L793.6,233.6L794.8,235.4M787.7,231.1L788.6,234.4L789.4,237.8L789.2,239.0M729.2,270.8L729.7,273.8L730.2,276.7L731.8,274.8L733.4,272.9L735.9,272.0L738.4,271.2L740.2,269.3L743.4,269.6L745.1,272.6M745.1,272.6L747.5,274.7L751.4,276.3L751.3,279.2L751.2,282.2L753.6,282.9L757.1,284.5L760.6,286.1M745.1,272.6L744.6,274.9L742.1,273.8L739.5,272.7L738.0,276.7L736.4,280.8L734.2,284.8L730.0,284.1L728.8,288.3L727.5,292.5L726.3,296.7L723.4,298.6L720.6,300.5L717.6,301.6L714.7,302.6L711.5,299.1M704.5,289.9L705.1,293.5L708.4,297.7L711.5,299.1M711.5,299.1L708.7,302.4L705.9,305.6L703.2,307.8L700.5,309.9L697.8,312.0M697.8,312.0L693.5,312.4L689.3,312.8L685.1,313.2L680.8,313.6L676.6,314.0L672.3,314.3L668.8,314.6L665.2,314.8L661.7,315.1L658.1,315.3L658.5,317.3L654.4,317.7L650.4,318.0L646.3,318.3M697.8,312.0L701.4,311.5L705.0,311.0L708.6,310.6L712.2,310.1L715.7,309.5L720.1,308.9L724.4,308.3L728.8,307.6L733.1,306.9L737.4,306.2L741.8,305.4L746.1,304.7L750.4,303.9L754.7,303.1L759.0,302.2L763.3,301.4L767.6,300.5M715.7,309.5L716.0,312.3L713.2,315.4L710.8,316.4L708.4,317.5L705.1,320.3L703.1,321.9L701.0,323.5L698.8,324.8L696.6,326.0L694.2,328.6L694.3,331.1M705.5,329.5L701.8,330.0L698.0,330.6L694.3,331.1L690.4,331.5L686.5,332.0L682.5,332.4L678.5,332.8L674.5,333.2L670.5,333.6L666.6,334.0L662.6,334.3L658.6,334.6L654.7,334.9L650.8,335.2L646.9,335.5L643.0,335.8L639.2,336.0M705.5,329.5L708.5,327.9L711.6,326.3L715.7,325.9L719.8,325.5L724.0,325.0L724.2,326.2L725.2,325.4L727.1,328.4L730.5,327.9L733.9,327.4L737.2,326.9L741.3,329.9L745.4,332.8L749.5,335.8M705.5,329.5L703.6,333.2L705.9,334.4L708.2,335.5L710.8,338.4L713.4,341.3L716.1,344.2L718.6,345.0L721.1,347.6L723.6,350.1L725.3,354.5L727.1,357.1L729.0,359.7L731.3,360.1M682.5,332.4L683.8,337.2L685.2,341.9L686.5,346.7L687.8,351.4L689.2,356.2L690.4,359.3L691.6,362.5L691.9,367.1L692.2,371.6L692.8,374.4L693.3,377.3M693.3,377.3L695.1,380.5L699.4,380.2L703.7,379.9L708.1,379.6L712.4,379.3L716.7,378.9L721.1,378.6L722.9,380.6L722.7,376.3L725.4,376.1L728.1,376.0M693.3,377.3L689.1,377.7L684.9,378.2L680.7,378.6L676.5,379.1L672.3,379.5L668.1,379.8L670.5,384.2L669.6,388.0M658.6,334.6L659.6,335.7L659.5,340.6L659.4,345.6L659.3,350.5L659.2,355.5L659.1,360.4L659.0,365.4L658.9,370.3L659.4,374.6L659.9,378.9L660.4,383.2L660.9,387.6M630.3,203.6L633.0,206.5L635.6,207.0L638.3,207.4L641.0,207.9L643.7,208.5L646.4,209.2L649.1,209.9L650.0,210.9L652.0,215.9L653.9,218.6" fill="none" stroke="#fff" stroke-width="1.4" stroke-linejoin="round"/>
<g fill="none" stroke-width="3.1" stroke-linecap="round" stroke-opacity="0.88">
<path stroke="#4c005e" d="M472.7 174.5h0M653 291.5h0M505.2 187.8h0M656.4 244.3h0M510.3 219.5h0M632.9 311.2h0M534.5 202.6h0M705.5 241.1h0M650.8 248.1h0M620 314.9h0M514.6 332.6h0M664.7 407.7h0M519.8 213.1h0M603.1 442.3h0M529.1 226.4h0M519.7 180.4h0M589.6 332.9h0M550.2 247.8h0M565.6 250.4h0M559.2 317.9h0M686.2 411.5h0M432.2 162.9h0M581.3 447.6h0M700.3 288.9h0M639.7 315.9h0M468.6 172.2h0M590.5 430.8h0M673.3 315.4h0M529.6 201.8h0M564.3 418.3h0M596.9 313.3h0M621.1 247.3h0M506.3 374.3h0M462.9 172.9h0M681.3 394.6h0M442.2 164.3h0M715.1 242.1h0M650.3 421.6h0M555.8 323.9h0M471.4 175.3h0M474.1 174.7h0M679.9 240h0M584.4 323.6h0M615.1 313.6h0M594.5 301.3h0M663.5 311.9h0M600.5 421.6h0M431.5 162.3h0M536.8 446.5h0M539.7 324.2h0M553.9 244.7h0M663.2 315.5h0M451.9 171.6h0M724 240.5h0M567.2 311h0M453 170.5h0M653.2 273.5h0M535 190.7h0M520.7 219.8h0M635.5 417.6h0M473.6 172.1h0M650.4 412h0M682.3 393.9h0M565.2 416.1h0M546.3 193.8h0M694.8 419.5h0M421.7 159.4h0M619.4 301.9h0M432.4 162.5h0M639.1 401.8h0M575.6 251.7h0M605.6 202.8h0M580.1 297.6h0M449.2 165h0M429.7 160.6h0M691.9 396.3h0M479.4 178.1h0M539 447.5h0M645.9 284.3h0M471.9 169h0M728.7 256.6h0M567.5 200h0M559.4 183.4h0M602.9 447.8h0M634.5 442.3h0M617.1 222.8h0M564.8 243.9h0M442.2 165h0M604.7 303h0M588.2 314.3h0M529.6 434.3h0M684.6 282.9h0M451.6 170h0M571 328.6h0M682.2 240.8h0M660.1 299.1h0M597.3 388.5h0M437.1 165.6h0M641.4 394.8h0M620.5 303.1h0M644.5 439.6h0M482.8 173.4h0M656.2 286.7h0M616.9 244.2h0M688.9 243.4h0M546.2 238.2h0M487.9 186.3h0M661.5 318.3h0M567.3 437.2h0M713.4 276.5h0M654.2 302.5h0M542.7 236.4h0M711.1 242.3h0M575.3 308.1h0M666.9 242.2h0M599.9 300.8h0M627.3 286h0M646.7 302h0M505.1 189.6h0M450.5 168.2h0M620.4 444.2h0M480.9 184h0M556.8 446.7h0M496.1 352.7h0M446.8 169.4h0M579.8 299.8h0"/>
<path stroke="#4e106b" d="M435.2 162.9h0M477.6 175.4h0M588.9 233.7h0M677.6 303h0M652.6 265.4h0M602 340.5h0M511.3 208.4h0M601.9 303h0M467.8 173.4h0M546.6 383.8h0M635 284.8h0M592.8 334h0M649.1 247.1h0M545.1 448.8h0M454.6 171.5h0M658.4 300.6h0M595.1 357.3h0M633.3 311.2h0M533.1 379.7h0M556.7 434.9h0M661.1 428.3h0M668.7 244.4h0M564.2 212.7h0M582.8 293.6h0M503.3 187.5h0M597.8 212.3h0M569.6 246.8h0M626 239.5h0M523.6 216.4h0M681 251.8h0M501.3 179.1h0M528.6 195.4h0M530.7 226.5h0M493.4 190.9h0M629.8 308.4h0M637.5 300.7h0M690.4 285.9h0M679.7 241.6h0M582.3 415.6h0M699.3 243.2h0M547.7 436.8h0M634.5 301h0M648.1 399.8h0M624.5 309h0M657.3 420.4h0M546.3 194h0M656.8 246.7h0M605.1 204.3h0M587.4 247.7h0M587.7 333.5h0M660.9 243.3h0M487.3 176h0M558.8 294.2h0M574.1 329.6h0M544.9 194.7h0M602.1 339.4h0M596.6 355.6h0M490 370.2h0M441.9 165.7h0M617 300.8h0M592.6 334h0M521.2 341.1h0M654.3 261.6h0M709.6 240.7h0M603.3 350.7h0M693.2 291.9h0M656.8 312.9h0M494.5 378.5h0M544.5 202.6h0M459.1 174h0M460.8 169.8h0M465.4 172.3h0M609.5 302.5h0M443.2 165.1h0M619.8 303.9h0M577.6 445.2h0M572.3 327.6h0M670.1 300.2h0M652.9 415.1h0M543.8 196.7h0M640.9 316.1h0M570.4 379.8h0M469.5 177.3h0M427.1 158.3h0M451.8 168.2h0M588.6 444h0M657 290.1h0M701.9 289h0M643.5 426.9h0M592.5 300.1h0M575.2 246.1h0M630.1 315.3h0M461 172.7h0M517.4 190.8h0M531.1 436.4h0M469.9 170.8h0M637.3 440.3h0M564 203.5h0M573.8 246.2h0M543 325h0M560.8 439.6h0M636.3 303.9h0M593.3 202.8h0M515.5 194.8h0M679.9 299.2h0M572.3 445.8h0M547.1 243.8h0M652.4 307.4h0M554.7 203.6h0M439.9 164.3h0M457.9 172.4h0"/>
<path stroke="#4e1e75" d="M541.7 206.1h0M626.2 300.6h0M683 302.9h0M521.3 326.7h0M578.8 330.5h0M554 295.5h0M575.6 204.8h0M622.9 315.3h0M592.8 367.4h0M565.6 446.3h0M671.1 406.9h0M429.1 157.7h0M629.2 245.6h0M584.3 307.5h0M615.1 424.7h0M681.5 300.7h0M669.6 296.3h0M644.9 233.5h0M718.3 243.3h0M583.8 335.4h0M587.5 358.5h0M528.9 184.9h0M563 325.9h0M620.7 391.2h0M491.6 366.8h0M630.2 268.9h0M526.3 378.9h0M711.8 245h0M617.8 416.7h0M654.4 274.6h0M636.3 269.5h0M705.9 285.7h0M568.8 200.6h0M446.9 168.6h0M573.3 317.8h0M538.1 378.2h0M588.5 378.8h0M561.9 245.7h0M690.6 285.9h0M599.1 202.7h0M630.8 417.5h0M666.1 307.6h0M618.7 208.2h0M489.9 176.7h0M487.4 180.3h0M571.3 431.9h0M656.5 311.9h0M573.4 380.1h0M655.1 279.6h0M581.2 415.6h0M704.7 244h0M632.6 315.5h0M639.5 309.5h0M605.7 432.1h0M675.1 406.5h0M659.1 243.4h0M509.6 377.8h0M667.2 310.5h0M704.6 282.9h0M586.9 362.7h0M643.1 286.2h0M633.3 305.8h0M579 294h0M624.7 307.9h0M693.9 241.4h0M544.2 319.8h0M496.2 189.4h0M507.2 182.7h0M634.4 208.2h0M548.6 327h0M592.2 355.9h0M622.4 314.6h0M646.2 427.7h0M542.2 227.9h0M587.4 376.3h0M676.7 314.1h0M656.4 324.6h0M657.2 244.4h0M633.3 400.6h0M526.5 220.8h0M501 202.2h0M602.3 207.3h0M556.6 200.3h0M452.1 169.1h0M458 172h0M647.1 414.3h0M470.3 174h0M576.7 330.8h0M546.2 233.7h0M597.8 311.5h0M649.6 389.5h0M544.2 200.6h0M623.7 434.8h0M617.1 424.5h0M442.6 167.4h0M592.3 245.6h0M666.2 429.7h0M505.7 190.2h0M636.3 308.6h0M692.5 289.8h0M540.2 383.4h0M590.9 363.1h0M663.3 307.6h0M522.1 329.1h0M506.7 189.4h0M608.2 208.4h0M690 419.1h0M723.2 251.6h0"/>
<path stroke="#4b2c80" d="M520.1 219.6h0M682.7 413.9h0M580.7 294h0M541.9 327.4h0M544.4 229h0M690.9 289.9h0M686.1 425.4h0M627.8 327.8h0M525.5 431.1h0M588.1 200.9h0M709.9 248.3h0M662.5 246.8h0M636.1 308.5h0M659.3 416h0M628.5 245.7h0M539.8 185.1h0M593.5 335.8h0M531.5 329.8h0M680.9 425.2h0M572.4 212h0M554.8 243.2h0M547.8 380.4h0M501.1 178.8h0M713.6 278.6h0M663.5 246.6h0M509.8 374.1h0M657.1 245.5h0M636.4 311.1h0M704.4 285.9h0M511.1 180.9h0M502.3 363.1h0M570.7 412.5h0M566.4 439.9h0M523.8 183.6h0M578.4 379.9h0M478.7 166.3h0M544.2 196.5h0M721 249.8h0M544 199.2h0M717.5 254.7h0M590.8 367.2h0M591 245.3h0M537.5 228.1h0M513.8 181.7h0M585.3 303.8h0M530.8 200.3h0M597.8 244.8h0M602.6 236.9h0M527 330.6h0M543.6 201.8h0M551 239.1h0M491.3 178.6h0M525.7 208.5h0M724.8 255.9h0M517.8 351.6h0M574.1 321.7h0M630.1 269.8h0M671.9 320h0M570.7 248.2h0M691.6 243.8h0M673.2 390.5h0M615.1 209.8h0M660.2 285.7h0M500.9 361.4h0M584.3 320.4h0M632.5 417.7h0M634.7 281.6h0M665.8 244.1h0M628.2 215.9h0M595.8 208.2h0M545.6 195.7h0M688.6 312.6h0M566.1 329.4h0M597.2 339.2h0M666.1 431h0M674.5 320h0M524.5 220.1h0M502.4 214.6h0M696.1 316h0M470.3 173.3h0M496.1 352.4h0M690 251.7h0M717.4 407.4h0M570.2 204.5h0M713.5 245.5h0M588.9 205.4h0M507.7 349.3h0M567 333.6h0M587.6 298.1h0M586.4 362.9h0M530.7 185.6h0M542.2 203.2h0M680.6 248.4h0M655.2 255.1h0M571 322.2h0M683.8 276.8h0M696.5 244.5h0M540.5 378.6h0M531.9 183.4h0M582.8 202h0M592.6 332.6h0M695.2 250.5h0M722.4 253.3h0M672.8 284.7h0M585 296.3h0M655.6 263.6h0M615.8 428.4h0M699.6 396h0M545.9 230h0M538.8 185.7h0M544.4 203.9h0M590.6 311.6h0M471.6 174.6h0M586.4 220.6h0M494.7 347.2h0M509.9 181.2h0M492.7 189.1h0M565.6 329.3h0M654.7 258.2h0M646.9 418.4h0M629.4 242.1h0M685.8 302.5h0M502.1 372.4h0M586.3 294.1h0M540.7 228.3h0M689.9 315.8h0M569.7 186.1h0M598.5 246.1h0M687.2 246.2h0"/>
<path stroke="#463786" d="M660 308.8h0M678.4 249.3h0M698.2 252.9h0M651.9 312.5h0M661.3 287.7h0M563 333.3h0M557.8 202.6h0M663.7 296.2h0M678 283.3h0M709.4 252.5h0M665 269.9h0M553.9 232h0M560.6 244.3h0M695.7 391.3h0M663 259.4h0M659.3 285.3h0M682.6 286.5h0M669.8 431.1h0M536.8 207.2h0M534.1 222.8h0M567.9 329.9h0M700.1 284.7h0M595.9 213.2h0M518.4 425.3h0M668.2 412.6h0M712.3 272.1h0M688.5 280h0M582 238.8h0M609.7 309h0M569.6 329.7h0M524.3 183.8h0M665 249.7h0M677.8 283.6h0M501.6 362.5h0M545.8 330.6h0M580.8 215.7h0M704.4 249.9h0M451.1 164.9h0M553.5 206h0M525.3 182.7h0M562.9 233.1h0M553.9 330.5h0M582.7 228.8h0M609.7 432.7h0M620.4 214.6h0M508.8 358.6h0M524.4 347.4h0M661.2 251.7h0M692.4 308.9h0M673.8 288.8h0M714.2 251.1h0M561.6 187.4h0M543.2 330.8h0M601.7 442.2h0M626.9 306.7h0M656.8 282.9h0M684 427.4h0M579.6 239.7h0M662.8 314.5h0M558.2 243.5h0M465.2 167.8h0M585.5 377.8h0M503.2 179.3h0M540.6 425.1h0M656.3 275.7h0M586.2 432.5h0M683.2 296h0M562.3 243.2h0M665.2 283.5h0M585.2 296.9h0M699.2 278.1h0M524.1 354.9h0M704.4 250h0M654.4 304.5h0M522.5 183.9h0M547.6 185h0M585.2 213.2h0M550.9 235.5h0M662.3 287.6h0M710.3 270.8h0M625.3 426.2h0M555.1 326.1h0M532.3 343.6h0M511.7 180.5h0M636.2 418h0M676.7 247.6h0M581 231.1h0M661 248.4h0M567.8 323h0M686.1 316.6h0M550.4 328h0M582.5 244.2h0M576.4 241.1h0M666.6 253.9h0M602.4 311.4h0M702.5 410.9h0M645.4 309.3h0M540.2 327.6h0M547.2 430.5h0M694.8 250.2h0M597.2 245.5h0M580.8 239.6h0M582 207.8h0M518 181.8h0M699.5 253h0M696.3 309.4h0M641.8 324.3h0M590.1 241.7h0M661.3 268.4h0M528.6 350.1h0M529.8 205.4h0M610.8 208.6h0M573.1 431.9h0M656.1 268.4h0M671.3 427.1h0M507.7 361.1h0M557.2 202.5h0M531.5 428.3h0M561.9 239.7h0M459.5 167.4h0M563.8 218h0M666.8 399.6h0M595.4 208.9h0M536.6 380.7h0M661.6 249.9h0M690.6 272.2h0M668.5 284.1h0M593.1 421.5h0M533.3 206.4h0M698.6 268.4h0M572.9 332.6h0M675.3 283.5h0M663.3 278.2h0M664.9 250.7h0M707.2 283.3h0M658.1 323.6h0M589.2 439.8h0M645.9 286.5h0M530.4 350.3h0M714.7 261.3h0M708 281.8h0M682.2 419.9h0M550.5 239.8h0M673.2 259.9h0M577.4 204.3h0M711.9 247.9h0M574 208.2h0M549.1 202h0M597.3 351.7h0M696 254.6h0M703.3 407h0"/>
<path stroke="#41438c" d="M647.6 324.9h0M629.7 225.5h0M561.2 215.3h0M545 194.7h0M629.1 434.4h0M701 284.2h0M674.3 310.2h0M591.9 353.4h0M547.2 208.4h0M662.7 275.8h0M588.4 331.8h0M684.2 309.1h0M658.1 277.8h0M708.7 275.5h0M691.3 246.8h0M584.7 358.4h0M650.8 311.3h0M658.3 387h0M537.1 194.4h0M460 163.1h0M676.8 400.6h0M666.7 271.5h0M663.1 262.8h0M521.9 350.2h0M611.2 328.9h0M659.4 421.4h0M669.4 260.8h0M667.5 407.4h0M641.2 416h0M689.2 405.2h0M718.5 261.8h0M690.4 280.3h0M565.2 204.6h0M526.2 354.9h0M661.4 257.7h0M532 184.8h0M533.5 184.4h0M695.7 395.8h0M643.2 448.9h0M597.1 240.9h0M584.9 359.1h0M681.8 313.7h0M648.7 425.2h0M664.7 262.5h0M706.6 267.9h0M660.9 260.2h0M695.9 396.7h0M661.1 381.1h0M587.6 359.3h0M681.6 256.6h0M503.7 180h0M683.3 293.7h0M527.1 348h0M661.8 295.2h0M597.2 242.3h0M566 243.8h0M538.9 331.4h0M545.8 336.6h0M571 204.7h0M554.3 204.1h0M528.7 346.8h0M671.7 279.4h0M543.4 230.1h0M685 248.5h0M663.4 273.4h0M628.8 387.2h0M686.3 246.8h0M575.3 209.5h0M583.6 237.3h0M661.9 283h0M659.5 298.3h0M672.1 282.6h0M707.8 251.4h0M669.8 252.6h0M693.3 401.3h0M680.5 405h0M536.9 424.2h0M694.6 402.2h0M637.4 270.4h0M627.8 326.2h0M649.4 434.9h0M684 285.2h0M676.1 278.5h0M696.4 254.4h0M712.1 269.6h0M662.4 281.4h0M709.3 277h0M459 168.3h0M546.5 329h0M698.9 258.2h0M682 315.4h0M555.6 348.4h0M470.2 162h0M595.4 234.3h0M687.1 400.8h0M678 249h0M522.7 336.8h0M552.9 326.6h0M684.4 252.2h0M716.6 267.2h0M715.5 255.6h0M660.8 275.8h0M583.1 216.2h0M690.1 311.1h0M532.5 352.6h0M665.8 267.5h0M561.6 377.7h0M672.6 255.2h0M448.5 163.2h0M581.4 207.7h0M623.7 420.7h0M557.5 238.6h0M577.1 333.7h0M570.6 202.8h0M562.4 210.2h0M621.8 222.8h0M602.1 436.1h0M559.4 332.4h0M564.3 351.1h0M574.8 425.8h0M586.2 211.8h0M661.7 246.2h0M709.4 277.3h0M565.2 231.5h0M672.2 248.5h0M541.8 213.1h0M683.3 281.4h0M564 324h0M624 315.3h0M555 211.9h0M576.9 378.1h0M689.1 400.9h0M602.2 449.1h0M657.2 425.1h0M658.6 253.9h0M572 336.6h0M677.7 406.9h0M665.8 321.7h0M606.8 440.6h0M588.5 367.5h0M670.8 276.7h0M673 281.4h0M543.4 349.8h0M471.5 155.7h0M502.6 367.6h0M534 207.8h0M673.3 252.2h0M663.2 254h0M605.5 208.9h0M535.8 224.2h0M674.1 284.5h0M684.9 246.6h0M698.8 248.3h0M676.2 285h0M703.4 276.8h0M545.6 208.7h0M558.6 233.1h0M584 228.6h0M550.2 208.3h0M552.2 326.2h0M521.2 182.2h0"/>
<path stroke="#394e8e" d="M661.8 281.1h0M593.7 338.4h0M505.1 364.7h0M560 435.3h0M555.3 355.9h0M687.1 401.5h0M560.8 212h0M703.8 272.9h0M616.6 327.5h0M713.8 402.1h0M572.6 331.2h0M555.6 326.9h0M697.8 283.9h0M663.6 252h0M569.2 337.3h0M568.7 238.5h0M684.8 281.2h0M565.4 332.9h0M708.2 266.3h0M706.8 251.9h0M540.7 226.4h0M622.2 219.6h0M533.6 331.5h0M697.3 281.1h0M453.9 164.5h0M533.9 211.1h0M582.4 233.3h0M603.5 227.5h0M670.7 285.7h0M590.8 297.9h0M597.8 330.2h0M662.8 385.5h0M569 378h0M698 405.3h0M524.9 347.4h0M507.3 363.4h0M683.3 272.1h0M469.5 157.9h0M539.5 207.5h0M678.7 284.4h0M690.1 313.1h0M590.6 242.3h0M628 289.2h0M599 380.3h0M503.4 366.5h0M561.1 205.5h0M529.5 206.8h0M678.1 286.7h0M560.6 235.5h0M627.5 438.1h0M678.7 255.9h0M534.2 349.6h0M563.8 205.4h0M686.1 396.7h0M460.8 158.3h0M700.6 254.3h0M575.4 351h0M629.6 437.7h0M540.2 350.9h0M576.2 239.8h0M660.1 276h0M549.7 357.3h0M510.6 364.3h0M644.2 427.8h0M686.3 421.1h0M600.2 210.6h0M594 244.7h0M666.7 405h0M584.3 337.7h0M566.8 237.4h0M536 331.4h0M653 290.1h0M717.2 261.9h0M671.5 412h0M687.1 314.9h0M608.3 233.5h0M668.2 312.7h0M517.1 217.5h0M688.5 310.1h0M594.9 300h0M703.5 256.7h0M456 165.7h0M565 332.1h0M515 374.2h0M673.7 249.1h0M657.8 270.9h0M683.9 313.4h0M574.1 345.5h0M560 239.9h0M669.8 288.6h0M673.7 260.7h0M655.5 380.9h0M669.4 406.7h0M557.4 357.4h0M576.6 349.8h0M665.9 251h0M682 408.3h0M585.4 330.1h0M537.2 220.3h0M562.6 205.5h0M558.5 233h0M582.9 213.7h0M592.5 233.9h0M654.9 313.4h0M663.9 287.7h0M613.7 378.2h0M465.3 161.4h0M641.4 315h0M574.1 221.7h0M594.9 349.8h0M591.2 210.5h0M601.4 240.6h0M664.9 266.4h0M681.1 278.3h0M586 364.6h0M696.5 396.3h0M599.5 233.8h0M555 239.9h0M500.4 362.8h0M681.3 284.2h0M543.4 229h0M663.6 263.3h0M674.9 255.5h0M538.1 212.5h0M710.4 265.1h0M674.9 400.8h0M717.6 257.1h0M682.9 254.7h0M584.1 241.4h0M704.5 275h0M532.3 337.8h0M663.5 277.6h0M546.3 205.6h0M552 240.5h0M663.8 297.7h0M708.2 251h0M602.8 216.5h0M675.9 286.6h0M684.5 293.7h0M672.6 279.7h0M689.3 273.2h0M690.1 254.1h0M501.6 179.1h0M583.9 435h0M571.8 347.4h0M681 251.1h0M561.6 205h0M609 220.7h0M691.2 277.4h0M668.1 283.4h0M551.4 353.4h0M521.4 343.1h0M572.8 425.7h0M669.5 285.7h0M686 398h0M623.6 326.4h0M596.7 211.4h0M470 162.7h0M678.8 311.4h0M562.6 333.7h0"/>
<path stroke="#2f5890" d="M674.4 406.3h0M603.4 229.7h0M626.3 235.2h0M616.5 237.8h0M594.7 240.4h0M700.2 270.7h0M606.1 299h0M542 214.4h0M543.8 223.6h0M682 276.8h0M599.2 376.2h0M553.1 331.9h0M692 281.2h0M571.4 416.3h0M587 209.6h0M584 438.4h0M585.6 375.2h0M684.6 315.8h0M591.8 229.3h0M633.7 424.1h0M681 263.2h0M546.9 345.5h0M626.8 383h0M667.3 265.1h0M700.6 257.4h0M711.3 252.3h0M653.4 293h0M562.4 331.9h0M642.8 323.3h0M696.8 255.6h0M538.3 378.4h0M576.8 425.4h0M536 359h0M668.1 295.5h0M657.9 381.4h0M707.1 275.4h0M599.8 241.5h0M587.2 229h0M506.3 363h0M448.6 163h0M639 288.4h0M532.5 336.8h0M582.4 232.7h0M597.6 438.8h0M699.9 247.6h0M716.3 408.5h0M525.9 334.3h0M671.1 281h0M568.3 333.1h0M559.6 351.4h0M619.4 222.2h0M657 388.3h0M677.7 278.7h0M539.4 337.2h0M559.6 239.4h0M588.8 227.5h0M559.2 349.5h0M582.5 362h0M668.2 272.2h0M581.9 212.3h0M575.9 377.7h0M544 338.3h0M672.5 255.8h0M698 251.3h0M625.6 291.7h0M659.4 258.5h0M563.2 207.3h0M587.1 232.5h0M590.8 217.4h0M587.4 213.7h0M691.6 309.8h0M669.9 384h0M571.6 329h0M644.6 381.5h0M569.5 377.7h0M687.2 310.9h0M564 377.6h0M463.5 153.9h0M730.3 407.1h0M527.3 210h0M512.5 361.6h0M592.9 229.2h0M562.5 329.2h0M712.6 257.5h0M691.6 248.5h0M568.9 210.1h0M674.2 286.9h0M668.5 402.7h0M632.1 325.8h0M565.9 206.6h0M567.4 238.8h0M706.9 253.1h0M711.6 267.7h0M662.4 270.6h0M585.2 238.2h0M564.3 423.8h0M699.2 406.1h0M568.1 211.3h0M699.3 248.6h0M650.6 297.6h0M673.7 285.9h0M663 262h0M546.4 353.7h0M529.5 350.3h0M531.3 360h0M614.3 222h0M717.6 255.1h0M578.2 338.5h0M667.1 262.1h0M660.8 288h0M582.4 359.8h0M572.1 208.3h0M709.4 266.8h0M569.9 333.1h0M627.1 290.6h0M535.2 347.4h0M686.3 310.6h0M644.4 241.8h0M620.7 424.3h0M550.5 209.7h0M711.3 269.4h0M546.5 208.2h0M684.8 279.4h0M657.3 272.1h0M552.9 334.1h0M541.6 215.7h0M550.8 212.9h0M584.7 330.9h0M569.6 334.7h0M668.7 287h0M667.4 270.7h0M668.3 286h0M685.4 397.4h0M700 251.2h0M570.8 348.4h0M564.9 377.5h0M708.3 271.8h0M697.3 277.1h0M535.1 374.8h0M668.6 261.1h0M591.3 234.1h0M677.1 404.6h0M677 291.1h0M537 352.9h0M680.7 316.4h0M713.7 402.5h0M523 373.7h0M449.5 161.2h0M677.9 404.1h0M687.1 270.9h0M616.7 237.1h0M581.1 325.1h0M665.9 409.6h0M674.2 414.5h0M545.9 343.5h0M528.6 349.3h0M688.6 286.1h0M699.2 269.4h0M556 225.7h0M672.8 311.7h0M577.4 240.3h0M708.3 266h0M671 279.3h0M580.2 334.5h0M614.6 233.2h0M582 210.3h0M674 383.9h0M660.4 275.6h0M539.2 208.1h0M577 334.9h0M681.2 294.1h0M689.1 292.8h0M636.6 229.8h0M651 288.7h0M535 219.3h0M610.5 233.2h0M669.3 273.9h0M693.1 271.9h0"/>
<path stroke="#216291" d="M596.5 238.5h0M547.3 208.7h0M557.3 352.3h0M582.8 212.9h0M446.6 156.9h0M570.5 356.1h0M610.1 213.9h0M686.5 397.6h0M559.5 221h0M545.8 376h0M595.9 237.8h0M536.3 375.1h0M554 224.9h0M675.7 250.4h0M549.8 358.1h0M554.1 377h0M611.2 230.2h0M591.6 211.1h0M535.1 359.6h0M533.4 344.1h0M576.1 348.3h0M537.6 345.3h0M506.7 361.1h0M553.6 337.7h0M568.9 218.7h0M711.9 252.5h0M540.9 353.5h0M666.6 272.4h0M665.6 387.8h0M539.8 344h0M561.5 326.2h0M555.5 215.3h0M608.2 296.7h0M508.9 368.8h0M531.7 342.2h0M564.5 377h0M713.6 259h0M580.7 234.6h0M592.4 240h0M458.8 158.1h0M536.3 345.3h0M545.9 337.2h0M560.7 207.4h0M592.7 294.7h0M669.3 286.4h0M564.9 346.5h0M664 274.3h0M444.5 152.1h0M615.1 295.3h0M537.1 345.4h0M534.9 343.8h0M599.3 296.9h0M509.1 363.9h0M543.9 213.9h0M589.7 232.6h0M605.3 295.5h0M679.1 286.7h0M584.2 213.2h0M691 273h0M680.3 293.1h0M540 350.9h0M559.7 216.5h0M662.8 294.6h0M508.8 369.8h0M636.5 229.9h0M683.6 310.6h0M534.7 219.2h0M673.1 287.2h0M689.9 278.1h0M665.2 268.6h0M543.6 208.1h0M598.9 241.3h0M715.6 408.6h0M676.3 271.8h0M578.9 352.9h0M707 266.7h0M562.1 204.2h0M628.7 290.4h0M540 213h0M685.8 272.4h0M701.8 277.1h0M657.8 382h0M568.6 346h0M590.5 348.3h0M565.9 419.6h0M556 377.5h0M562.3 231.2h0M562.9 347.7h0M643.4 384.4h0M598.1 222.3h0M572 229.9h0M567.8 335.8h0M699.2 260.9h0M582.3 361.4h0M533.9 210.6h0M654 432.5h0M667 408.8h0M678.4 385.8h0M590.2 226.4h0M627.6 384.5h0M674.5 286.8h0M660.4 423.1h0M510 361.8h0M574.1 228.6h0M587.5 233.9h0M600.2 230.1h0M536 219.4h0M673.2 396.7h0M682.1 315.8h0M667.7 409.4h0M551.6 227.4h0M572.2 218.5h0M559.7 230.4h0M667.1 260.6h0M674.9 290.7h0M558.9 352.4h0M520.5 362.9h0M598.8 296.9h0M663.1 382.3h0M438.7 153h0M547.8 206.7h0M656.1 398.7h0M583.5 352h0M572.3 356.2h0M632.8 315.2h0M617 384.2h0M542.3 207.9h0M606.9 297.8h0M586 376.1h0M681 416.8h0M661 276.6h0M639.1 315.9h0M638.7 315.7h0M456.7 159.9h0M547.3 346.7h0"/>
<path stroke="#0e6b90" d="M531.7 213.6h0M553.5 225.7h0M542.1 222h0M574.9 346.2h0M434.6 148.7h0M604.4 231.4h0M578.2 359h0M454.5 155.6h0M449 161.2h0M671 318.4h0M579.3 354.4h0M676.4 274.7h0M548.4 215.5h0M583.9 364.6h0M687.7 389.9h0M591.3 320.4h0M676.6 270.2h0M630.4 290.2h0M614.6 292.1h0M582.2 349.8h0M676.2 267.6h0M558.3 359.7h0M675.9 292.7h0M506.5 369h0M535.5 359.9h0M595.1 340.7h0M576.8 347.5h0M538.1 351.1h0M649.2 383.8h0M664.4 384.7h0M567.4 227.7h0M686.3 257h0M670.8 289.2h0M450.7 152.8h0M634.5 384.7h0M563.5 359.3h0M581.7 374.9h0M455.2 154.5h0M689.8 311.7h0M607.3 379h0M575 347.4h0M569.1 351.4h0M575.1 328.9h0M565.5 216.4h0M552.7 351.7h0M553.3 349h0M530.4 366.3h0M561.4 361.4h0M704.7 263.6h0M559 360.6h0M590.2 214h0M573.9 347.9h0M608.5 381.3h0M574 378h0M672.3 426.8h0M559.8 336.1h0M691.9 275.2h0M566.7 217.5h0M523.4 373.3h0M547.2 360.9h0M538.9 213.1h0M588.2 346.2h0M614 297.5h0M454.4 159h0M667.5 387.4h0M465.2 164.1h0M563.7 326.8h0M593.2 215.8h0M517.3 362.5h0M686.3 291.5h0M553.9 334.5h0M702.6 265.3h0M701.5 258.6h0M537 359.8h0M660.9 267.7h0M569.2 356.3h0M557.7 338.1h0M702.5 403.2h0M543.8 222.8h0M533.1 213.4h0M567.1 230.6h0M570.4 212.1h0M589.5 370.1h0M567 337.5h0M453.1 162.2h0M585.8 227.5h0M730.4 405.2h0M610.6 376.5h0M677.1 288.6h0M571.3 334.8h0M571.1 225.1h0M578.3 356.8h0M671.1 266.2h0M674.3 275.5h0M548.1 216.4h0M572.9 219.5h0M544.7 343.9h0M452.3 159h0M604 440.3h0M551.7 351.4h0M549.2 348.7h0M590.4 220.3h0M621.3 296h0M693 287.5h0M581.1 224.5h0"/>
<path stroke="#007491" d="M611.2 227.1h0M547.3 373.9h0M541.5 354.6h0M600.9 229.4h0M542.7 345.9h0M612.2 237.8h0M681.5 268.3h0M567.5 329h0M572.6 324.9h0M440.2 155.1h0M539 346.1h0M559.8 345.7h0M688.4 289.1h0M685.6 308.9h0M668.1 385.2h0M568.6 356h0M626.4 225.2h0M557.8 220.7h0M439.2 157h0M567.2 335h0M572.2 235.9h0M435.3 153.7h0M555.5 376.2h0M671.4 289.1h0M541.4 215.4h0M573 355.6h0M585.9 221.8h0M688 290.6h0M565 435.3h0M680.2 289.4h0M440.5 150.6h0M691.9 265.9h0M654.4 380.5h0M597.9 379.7h0M546.5 376.2h0M540.2 333.9h0M546.8 357.1h0M580.4 346.1h0M661.1 321.5h0M682.5 263.3h0M663.9 320.7h0M597.7 222.1h0M606.4 381.6h0M579.4 338h0M452.9 152.6h0M560.4 352.2h0M628.3 323.4h0M703.8 265.2h0M629.2 383.2h0M675.5 291.4h0M670.2 318.3h0M581.6 355.1h0M606 218.7h0M569.1 358h0M554.7 346.1h0M663.5 314.2h0M557.6 345.9h0M595.6 319.4h0M459.6 157.8h0M610.5 299.6h0M562.1 344.7h0M618.4 318.2h0M526.5 362.3h0M607.6 223.9h0M525.7 374.4h0M563.3 219.1h0M566.4 347.7h0M560.6 359.1h0M542.2 430.8h0M656.6 415.8h0M574.5 356.8h0M440.3 150.5h0M539.5 211.4h0M442.5 157.5h0M675.2 269.4h0M618 299.1h0M656.1 293.7h0M574 230.3h0M612.4 378.8h0M540.3 338.1h0M565.6 231.9h0M444.5 157.2h0M596.1 222.6h0M580.7 344.3h0M556.1 220.9h0M559.7 236.5h0M575.9 358.8h0M559.1 348.8h0M498.8 433.7h0M572.4 228.8h0"/>
<path stroke="#007d90" d="M513 362.5h0M567.9 223.3h0M436.4 141.1h0M615.1 379.7h0M537.7 333.9h0M578.8 375.8h0M577.1 374.5h0M424.1 153.2h0M429.1 154.2h0M579.3 360.5h0M647.6 292.5h0M537.6 353.5h0M617.7 326.3h0M563 359.1h0M682.9 287.9h0M680.5 386.6h0M565.9 338.7h0M579.3 361.3h0M449.7 152h0M605.8 380.4h0M658.6 293.9h0M672.6 314.7h0M675.4 290.3h0M653 384.2h0M425.9 151.1h0M431.2 151.3h0M554.8 337.6h0M537.1 365.6h0M539.1 360.8h0M696.8 308.9h0M554.8 357.7h0M556.8 352.1h0M589.9 340.2h0M567.5 362h0M690 262.4h0M595.2 221.2h0M605.8 379h0M583.2 225.7h0M508.3 367.6h0M576.5 345.5h0M559.6 338.1h0M629.2 323.7h0M519.2 373.4h0M617.5 379.4h0M596.7 374.2h0M550.6 221.5h0M583.2 346.1h0M586.6 355.5h0M675.3 268.8h0M705.9 260.2h0M539.5 215.6h0M661.4 314.2h0M564.2 349h0M693.7 310.8h0M706.1 266.3h0M703 260h0M604.7 376.2h0M579.1 353.5h0M631.1 385.3h0M434 146.1h0M576.3 338.1h0M425.7 143.9h0M430.2 150.4h0M544.3 360.7h0M583.7 356.7h0M650.1 384h0M689 410.4h0M708.5 263.1h0M578.4 222.4h0M632.5 324.4h0M535.6 375.4h0M594.2 320.3h0M426 142.7h0M576.9 436.9h0M431.2 143.4h0"/>
<path stroke="#008690" d="M435.4 143.5h0M594.8 325.2h0M596.1 223.7h0M551.3 344h0M678.4 268.2h0M644.7 290.1h0M704.9 264.1h0M597.9 219.8h0M560.4 375.7h0M624.6 324.4h0M549.2 344h0M431.2 151.2h0M625.8 324.9h0M435.1 155.3h0M625.2 317.8h0M423.8 146.7h0M443.3 156.4h0M560.5 360.8h0M441.4 151.6h0M431.5 147.3h0M673.8 290.1h0M524 363.2h0M662.7 385.9h0M436.9 153.7h0M427.4 151.3h0M423.5 146h0M517.7 433.6h0M544.2 338.6h0M430.9 142.3h0M428.1 144.5h0M563.9 365.6h0M537.6 362.2h0M522.3 363.3h0M430.4 142.4h0M659.6 289.4h0M566.1 340.3h0M428.7 145.7h0M434.7 144.6h0M600 324h0M538.7 374h0M647.6 289.5h0M574.9 362.1h0M425 153.5h0M423.8 147.3h0M427.4 148.3h0M665.7 318.5h0M426.9 144.3h0M578 325.6h0M454.6 154.1h0M710.8 260.5h0M626.8 382.7h0M590.8 210.5h0M430.6 144.8h0M430.5 145.6h0M698.9 262.4h0M529.5 365.9h0M598.3 295.7h0M426.1 144.2h0M507.9 367h0M617.6 323.7h0M429.2 148.5h0M554.8 339.8h0M543 221.1h0M570.7 225.1h0M424.1 148.8h0M567.5 343.8h0M622.6 295.2h0M551.4 339.7h0M609.4 297.4h0M570.6 356.6h0M703.4 260.9h0M432 150.3h0M703.4 267.9h0M543.2 361h0M546.5 356.2h0M431.1 151.8h0M693.9 261.4h0M687.9 262.5h0M603.7 380.4h0"/>
<path stroke="#00908e" d="M550.5 364.1h0M582.1 339.2h0M564.1 372.6h0M586.7 322.2h0M514.8 431.1h0M567.7 343.5h0M691.3 262.9h0M577 338.9h0M436.3 154.7h0M584 339h0M426.5 153.3h0M676.1 384.8h0M575.4 339h0M577.5 364.5h0M429.2 143.8h0M574.7 218.2h0M498.8 426h0M575.1 375.6h0M627.5 380.3h0M545.1 373.4h0M516.2 432.8h0M649.9 384.9h0M518.8 363h0M594.8 377.1h0M564.3 374.5h0M520.8 372.3h0M596.9 293.8h0M567.2 366.2h0M700.8 261.6h0"/>
<path stroke="#00988b" d="M551 359.4h0M683.4 387.3h0M534 373.4h0M682.4 266.1h0M542.8 362.9h0M547.6 370h0M519.5 369.2h0M616.5 380.6h0M565.1 365.5h0M577.2 339.1h0"/>
<path stroke="#00a188" d="M539.6 364.5h0M526.6 370.1h0M690 264.8h0M530.5 373.6h0M585.3 322.4h0M690.6 389.2h0M545.9 367.2h0M613.8 323.9h0M626.5 381.7h0M662.3 292.7h0M513 368.5h0M608.1 321.5h0M565.7 363.9h0M595.2 375.8h0"/>
<path stroke="#00a983" d="M534.9 371.3h0M564.7 367.7h0M571.3 374h0M549.4 369.1h0M570.3 343h0M578.9 339.3h0M552.6 371.8h0M524.1 369.1h0M557.4 373.8h0M693.1 265.2h0M662.1 318.8h0M572.4 363.5h0M563.4 366h0M545.8 371h0M556.6 374.5h0"/>
<path stroke="#00b17c" d="M557 370h0M691 308.3h0M567.7 341.3h0M592.1 377.1h0M662.2 386.5h0M572.6 367.8h0M514.8 364.2h0M544.2 369.2h0M595.1 321.9h0M576.7 343.3h0M602.9 376.9h0M703.8 261.8h0M561.6 372.2h0M542.1 369.8h0"/>
<path stroke="#00b973" d="M658.6 317.3h0M604 320.6h0M564.5 367.8h0M581.3 369.9h0M656.6 291.6h0M667.8 290.9h0M516.3 368.2h0M529 370.6h0M545.4 368.3h0M544.6 369h0M676.2 292.2h0M668.4 290.8h0M652.4 384.8h0"/>
<path stroke="#00c168" d="M662.6 292.9h0M687 387.9h0M512.7 367.7h0M524.2 370.2h0M521.1 370.7h0M536.5 369.2h0"/>
<path stroke="#00c85a" d="M592.5 323.5h0M656.3 292.7h0"/>
<path stroke="#36cf48" d="M566.3 372.8h0M546.8 369h0M574.6 343.3h0M574.4 340.5h0M570.1 342.1h0"/>
<path stroke="#5fd52f" d="M604.5 322.1h0M521.9 368.9h0M655.4 318.4h0M660 293.3h0M585.3 342.2h0"/>
<path stroke="#a0de00" d="M628.8 320.1h0"/>
<path stroke="#4c005e" d="M629 356.8h0M682.1 298.4h0M602.3 416.4h0M628.3 315.5h0M523.3 195.2h0M425.3 158.6h0M431 159.6h0M626.4 306.2h0M630.5 215.1h0M649.6 358.5h0M455.2 169.4h0M688.5 317h0M660.5 426.2h0M650.9 403.6h0M706.7 396.6h0M663.4 436.9h0M654.9 285.8h0M610.7 300.9h0M681.7 429.9h0M691.8 319.1h0M561 439h0M649.9 313.4h0M586.7 200.4h0M721.1 243.1h0M634.5 315.9h0M437.1 164.6h0M456.7 172.3h0M691.9 242.5h0M510.5 377.4h0M630.8 315.3h0M513.6 326.1h0M639.7 301.6h0M577.9 391.3h0M563 297.8h0M590.1 433.4h0M640 327.1h0M471.2 175.5h0M567.9 246.9h0M626.1 448h0M673.4 406.4h0M572.1 245.8h0M622.4 426.4h0M597.2 311.9h0M538.4 201.1h0M643 357.2h0M666.6 297.5h0M662.3 408.3h0M461.4 169.9h0M425 157.8h0M529.4 427.1h0M636.9 313.5h0M446.8 166h0M632.8 308.8h0M691.7 314.8h0M543.4 181.8h0M570.5 189.7h0M444 163.4h0M497.7 436.5h0M564.1 248.3h0M613.6 398.1h0M565.1 427h0M516 382.8h0M610.2 251.1h0M588.6 203.4h0M672.6 315h0M500.3 359.8h0M452 168.8h0M514.2 178.6h0M523 224.8h0M628 300.3h0M503.6 436.1h0M541 201.3h0M564.9 184.7h0M544.5 448.7h0M444.9 166.7h0M646.9 395.8h0M456.8 169.8h0M702.9 288.2h0M577.2 305.2h0M666.4 305.2h0M577.3 303.6h0M497.7 187.9h0M662.4 308.8h0M674.7 244.1h0M550.4 197.9h0M488.5 189.1h0M595.3 314.9h0M684.8 244.1h0M579.6 445.8h0M490.3 219.9h0M513.7 193.4h0M652.7 252.4h0M685.3 295.4h0M446.5 166.5h0M438.1 163.9h0M495.4 343.8h0M717.8 240.8h0M673.8 296.6h0M640.6 299.7h0M690.9 242.9h0M681.5 299.4h0M432.8 165.9h0M596.1 317.1h0M628.3 319.6h0M592.6 362.3h0M638.3 312.4h0M435.7 164.1h0M702 240.6h0M582.1 317.8h0M638.8 306h0M629.4 351.8h0M670 243h0M464.7 169.8h0M494.2 188.8h0M543.1 202.2h0M510.3 227.5h0M680.2 244.2h0M621.2 301h0M652.6 403.1h0M552 323.3h0M426.3 159.4h0M655.7 250.2h0"/>
<path stroke="#4e106b" d="M504.7 203.6h0M429.2 160.1h0M630.3 216.1h0M622.3 375.8h0M438.1 165.5h0M426.8 160.9h0M707.8 281.8h0M496.5 187.7h0M610.9 246.3h0M472.4 173.6h0M449.2 169.5h0M600.8 330.2h0M473 175.4h0M655.3 299.3h0M516.8 215.5h0M715.2 272h0M482.7 177.1h0M668.2 244h0M580.9 320.8h0M527.4 220h0M531.5 228.7h0M579.5 189.6h0M480.2 177.9h0M491.6 189h0M659.3 245h0M592.7 358h0M531 234.1h0M722.9 250.7h0M577.9 414.8h0M697.5 315.1h0M554.5 299.3h0M638.5 241.6h0M655.7 419.8h0M427.5 159.2h0M492.6 177.8h0M661.4 425.8h0M643.6 425.5h0M654.2 272.9h0M647.9 313.9h0M713.4 245h0M615.3 245h0M557.3 434.3h0M660.7 379.5h0M667.5 311.3h0M639.1 310.7h0M621.8 306.1h0M540.1 192.7h0M503.7 356h0M631.4 315.8h0M519.9 183.9h0M548.2 194.4h0M655.1 302h0M560.1 249.1h0M590.8 204.2h0M654.6 250.1h0M587.9 308.7h0M500.5 337.3h0M479.4 174.3h0M561.8 294.9h0M441.6 165.1h0M564.2 309.5h0M444.7 168.6h0M704.6 288.1h0M663.8 302.1h0M578.8 185.8h0M587.8 332.6h0M693.6 242.3h0M691.3 303.1h0M440.1 164h0M514.6 193.8h0M654 325.7h0M517.8 190.5h0M591.8 446h0M678.4 295.1h0M498.4 177.1h0M642.8 317.4h0M655.1 299h0M603 329.7h0M721.9 248.2h0M569.6 293.9h0M621.4 205.5h0M512 356.3h0M498.4 330.3h0M473.2 173.9h0M565.1 304.7h0M674.3 314.6h0M723.3 262.1h0M653 414.9h0M697 244.1h0M572.9 332.8h0M556.5 297.9h0M639 304.7h0M574.9 189.5h0M602.4 242.4h0M633.2 245h0M684.8 315.1h0M572.5 416h0M546.5 316h0M594.5 312.1h0M642.1 308.8h0M560.5 418.3h0M472.8 173h0M665.4 426.9h0M514.6 218.5h0M693 419h0M634.6 301.1h0M695.7 386.4h0M570.3 188.6h0M680.9 402.6h0M435.5 165h0M589.9 306.3h0M523.3 204.4h0M642.1 398.2h0M568.3 431.6h0M588.9 246.8h0M690.4 292.5h0M450.3 167.9h0M554.5 291.1h0"/>
<path stroke="#4e1e75" d="M479.5 176.1h0M665.6 247.7h0M689.9 293.6h0M519 376.9h0M527.6 217.6h0M552.7 243.8h0M722.6 256.4h0M551.5 294.9h0M578.2 201.9h0M697.7 284.6h0M500.4 373.7h0M462.7 169.7h0M612.7 268.1h0M558.2 327.3h0M649.3 269.9h0M619.9 306.3h0M479.5 185.3h0M717.5 269.8h0M508.2 347.8h0M569 204.4h0M647.2 425.2h0M717.7 270.4h0M696.4 245.4h0M578.1 317.5h0M569.3 445.2h0M537.4 183.9h0M593.9 202.2h0M488 176.7h0M529.5 204.6h0M664.7 281.2h0M658.4 280.7h0M581 187h0M684.1 245h0M466.5 172.7h0M564.7 327.5h0M524.4 355.2h0M647.1 307.5h0M719.9 261.8h0M584.7 297.7h0M572.9 380.1h0M593.9 370.2h0M572.7 377.6h0M524.2 180.9h0M664.2 249.3h0M585.4 246h0M569.8 202.9h0M589.4 365.5h0M685.9 422.6h0M574.1 415.1h0M650.2 307.9h0M508.3 373.9h0M555.5 323.7h0M684 410.7h0M711.4 274h0M617.5 304.8h0M562.3 239.9h0M534.2 185.9h0M557.1 247.6h0M659.9 301h0M481.1 177h0M617.1 243.8h0M596.3 202h0M511.5 342.4h0M576.7 412.5h0M485.8 188.7h0M535.8 229.2h0M699 391.4h0M545.2 184.8h0M540 185.2h0M555 248.4h0M542.7 194.4h0M677.3 319.1h0M540.6 193.4h0M657.4 296.8h0M531.6 194.3h0M600.1 245.4h0M591.6 244.3h0M554.7 244.2h0M636.9 290.9h0M667.3 242.8h0M628.4 306.1h0M517.3 425.8h0M607.1 446.6h0M711.5 245.7h0M595 313.5h0M695.7 291.9h0M602.7 309h0M471.4 168.5h0M587.6 330.2h0M492.6 177.8h0M569.3 379.8h0M665.7 281.4h0M612.4 373.7h0M581.5 187.7h0M564.5 202.1h0M470 174h0M585.2 248.6h0M645 314.4h0M476.4 167.5h0M637.8 312.5h0M603.3 269.1h0M569.1 247.1h0M686.9 419.8h0M620.7 286.9h0M532.9 327.6h0M657.9 309h0M555.2 241.9h0M688.9 245.1h0M658.8 303h0M681.7 415.5h0"/>
<path stroke="#4b2c80" d="M509.3 352.7h0M602 430.8h0M502.6 189.3h0M458.1 168.6h0M582 379.6h0M631.5 313.4h0M508.2 209.5h0M557.4 240.9h0M598 336.1h0M665.4 284.9h0M624.2 316.1h0M577.1 247.6h0M709.1 283.3h0M703.3 283.9h0M521.3 330.2h0M665.2 439.3h0M709.4 243.6h0M489.8 188.8h0M683.6 246.4h0M690.1 289h0M546.9 188h0M688.3 302.7h0M515.1 351.4h0M543.2 327.2h0M704.7 255.3h0M680.6 293.1h0M591.7 299.7h0M639.9 427.2h0M646.5 303.8h0M655.8 268.7h0M573.4 419.9h0M592.1 370.9h0M546.9 434.6h0M524 375.9h0M548.7 327.4h0M681.5 295.8h0M582.2 229.2h0M541.1 184.3h0M585.1 378.4h0M602.7 422.4h0M715.8 247.4h0M684.7 411.5h0M521.1 376.7h0M667.3 249.2h0M530.8 220.9h0M681.8 252.7h0M560.2 326.9h0M668.7 296.8h0M671.6 252.5h0M706 251.2h0M603.3 243.7h0M608.1 206.9h0M659 301.9h0M513.5 191.1h0M481.9 164h0M641.7 405.2h0M658.4 248.3h0M563.2 329.5h0M555.9 204.7h0M504.7 213.1h0M587.6 294.2h0M693 251.5h0M562 206.1h0M598.8 346.3h0M709.7 280.3h0M562 234.3h0M605 204.2h0M701.3 247.3h0M438.1 160.8h0M670.1 426.4h0M456 171.1h0M657.3 302.3h0M693.4 288.2h0M545 205.8h0M563.9 204.3h0M468.2 167.1h0M643.3 311.5h0M656.4 274.3h0M648.5 308.2h0M641.6 325.7h0M541.9 228.3h0M526.2 226.7h0M550.4 204.4h0M509.2 344.5h0M708.8 274.2h0M553.2 204.3h0M645.8 425.2h0M525.2 185h0M585.4 206.5h0M697.8 287.2h0M720.8 251.1h0M565.1 428.9h0M671.8 283.6h0M717.1 247.9h0M615.5 329.4h0M608.2 268.3h0M693.4 250h0M680.4 293.4h0M545.7 235.1h0M525 193.5h0M501 179.4h0M551.1 380.3h0M625.2 217.2h0M498.1 179.6h0M600 206.2h0M588.8 331.5h0M718.9 249.4h0M560.1 242.9h0M665.9 390h0M564.5 328h0M523.7 191.4h0M562.8 439.7h0M553.7 227.8h0M694.8 285.6h0M559.9 331.7h0M546.5 232.3h0M708.1 283h0M671.6 246.4h0M515.1 335.6h0M656.2 289.3h0M674 285.2h0M678.9 314h0M454.1 170.5h0M502.7 180.7h0M632.5 271.6h0M639.5 273.1h0M533 221.8h0M531 182.9h0M461.6 169.7h0M607.3 415.3h0M540.1 195.4h0M716.6 267.3h0M545.5 210.9h0M714.2 247.3h0M604.4 444.5h0M497.6 225.9h0"/>
<path stroke="#463786" d="M581.2 438.3h0M670.5 250.8h0M531.8 192h0M681.3 285.7h0M671.8 261h0M562.9 187.8h0M564.3 234.3h0M519.4 184.4h0M568.9 426.6h0M635.4 230.8h0M565.7 205.5h0M540.1 184.9h0M646.1 325.3h0M719.2 264.6h0M671.2 252.5h0M718.2 263.3h0M569.6 208.4h0M625.3 379.5h0M554.4 206h0M694.5 248.2h0M611.7 237h0M651.4 274.4h0M508.2 213.2h0M562.5 428h0M628.4 219.7h0M598.5 347.6h0M690.2 384h0M634.5 270.5h0M604.5 430.6h0M535.5 211h0M538.9 330.6h0M686.3 282.9h0M647.1 298.9h0M699.2 417.4h0M532.1 185.8h0M553.2 240.3h0M692.9 286.2h0M583.9 229.2h0M669.6 280.6h0M695 402.6h0M679.9 293.3h0M697.8 310.1h0M703.3 284.1h0M658.6 288.5h0M712.8 249.6h0M674.7 280.6h0M622 287.6h0M717.5 268.1h0M634 271.1h0M570.2 321.9h0M578.8 334.5h0M658.3 284.9h0M694.3 285.8h0M566.3 328h0M538.3 204.7h0M562.6 329.8h0M547.6 328.2h0M589.7 232.7h0M612.5 329h0M674 285.3h0M656.9 253.7h0M571.5 331.4h0M679.7 248.3h0M598.4 237.8h0M679.7 318.9h0M562.9 439h0M661.8 304.2h0M605 239.6h0M526.2 182.6h0M560.1 235.2h0M561.3 205.4h0M699.9 251.4h0M714.2 269.1h0M593.4 213.3h0M502.9 363.8h0M679.9 277.4h0M515.7 339.4h0M624.4 214.4h0M701 283.2h0M542.2 202.8h0M543.3 198.2h0M595.5 315h0M555.5 327.5h0M685.1 308.8h0M707 282.9h0M599.6 243h0M592.6 248.3h0M701.4 276.7h0M620.3 212.3h0M586.8 208.6h0M694.7 285.1h0M687.6 256.7h0M635.1 313.9h0M565.6 323.2h0M523 182.5h0M673.8 247.8h0M537.4 340.4h0M557.1 186.3h0M570.5 242.9h0M580.2 244h0M702.1 286.1h0M702.2 281.6h0M655.9 270.9h0M602.2 310.4h0M688.9 247.9h0M600.3 344.7h0M595.3 206.9h0M669.5 263h0M677.2 250.6h0M584.2 215.1h0M528.8 224.4h0M699.8 275.9h0M674.3 283.1h0M597 242.9h0M565.2 235.2h0M523.9 331.1h0M687.8 273h0M661 274.7h0M573.9 355h0M579.7 240.6h0M592 376h0M617.1 313.5h0M651.6 324h0M598.1 380.3h0M664.8 249.5h0M674.7 283h0M613.8 306.8h0M661 286.8h0M589.1 432.4h0M664.8 261.5h0M592.3 370.5h0M544.5 230.3h0M629.4 416.3h0M694.9 287.3h0M589.9 366.9h0M548.6 204.5h0M564.2 212.7h0M524.4 376.6h0M683.3 246.8h0M699.6 403.3h0M584.5 229.9h0M543.6 330.8h0M517.6 337.4h0M661.9 252.3h0M676.9 283.1h0M617.6 315.9h0M613.5 313.2h0"/>
<path stroke="#41438c" d="M511.9 374.5h0M551.7 208.5h0M563.4 231.2h0M692.9 274.3h0M581.7 229.3h0M671.4 286h0M531 216.4h0M708.7 271.5h0M664.6 286.4h0M586 236.5h0M583.3 377.5h0M526.1 340.7h0M715.2 263.2h0M568.4 442.5h0M588.6 245.3h0M580.9 236.4h0M565.2 329.6h0M679.9 315h0M719.6 256.9h0M472.5 162.8h0M611 437.9h0M670.2 310.8h0M510.2 190.4h0M580.1 426h0M662.2 322.1h0M676 289.8h0M526.1 351.9h0M698 307.5h0M514.4 182.6h0M686.5 421.3h0M696.5 308.2h0M690.4 256.7h0M593.8 209.8h0M695.3 284.9h0M533.1 378h0M553.6 235.5h0M546 331.5h0M630.5 305.4h0M678.4 419.6h0M659.3 271.2h0M671.7 425.1h0M666 281h0M696.3 308.6h0M557.4 235.9h0M692.2 316.2h0M598.6 206.9h0M687.1 250.1h0M683.6 250.1h0M670.8 406h0M688.1 398.1h0M552.5 210.9h0M591.3 225.5h0M677.6 294.2h0M631.2 379.1h0M595.9 356h0M617.1 439.5h0M600.1 234.5h0M692.2 285.5h0M476.8 164.5h0M690.4 273.1h0M589.2 371.4h0M694.3 400.7h0M576 334.9h0M529 338.2h0M620.3 309.1h0M594.6 241.8h0M658.8 289.2h0M664.7 267.6h0M473.6 165.2h0M715.1 254.7h0M678.9 388.3h0M689.6 275.8h0M547.7 330.7h0M656.6 423.9h0M621.5 421h0M559.8 212.6h0M569.4 236.3h0M534.4 344.1h0M667.7 402.2h0M679.5 282h0M460.5 167h0M657.9 276.6h0M698.8 279.7h0M689.4 402.8h0M568.4 331.1h0M664.4 386.9h0M684.8 400.5h0M677.1 389.3h0M714.4 262.9h0M509.4 361.6h0M567.8 202.5h0M504.1 430.5h0M708.1 276.4h0M608.5 226.7h0M622 384.1h0M592.6 243.7h0M705.6 271.3h0M437.2 159.9h0M581.1 333.9h0M603.1 338.3h0M705.9 272.3h0M696.1 257.1h0M527.7 337.1h0M708.2 278.7h0M603.4 214.8h0M694.6 308.4h0M554.3 331.1h0M562.9 329.1h0M672.9 389.5h0M656.3 294h0M658.7 274.8h0M581 423h0M550.9 231.6h0M503.3 365.3h0M560.2 357.6h0M569.5 329h0M677.2 248.6h0M549.7 329.5h0M551.7 188.3h0M667 286.6h0M521.1 192.6h0M617.3 296.5h0M712.1 268.8h0M638 298.5h0M692.9 280h0M467.4 155.7h0M620.5 325.6h0M671.6 282.1h0M563.2 206.1h0M530.9 220.6h0M644.4 312.4h0M638.6 312.8h0M679 252h0M662.7 262.1h0M665.4 261.5h0M561.7 206.9h0M579.8 214.4h0M684.5 278.1h0M699.9 281.2h0M713 264.2h0M708.6 267.8h0M555.5 225.5h0M601 235.6h0M650.9 291.6h0M638 433.3h0M573.9 349h0M578 239.1h0M526.5 213.7h0M517 343.8h0M450.5 163.4h0"/>
<path stroke="#394e8e" d="M594.1 355.9h0M677.3 309.2h0M663.4 296.6h0M535.7 355.1h0M625.8 315.6h0M631.2 289.9h0M592.5 235.9h0M614.9 230.1h0M689.5 305h0M635.8 295.3h0M627.4 237.4h0M665.4 260.8h0M537.6 375.5h0M556.4 235.1h0M562.1 328.7h0M651.2 424.9h0M671.8 396.8h0M684 382.9h0M678.4 406.7h0M670.2 258h0M673.9 283.3h0M586.7 232.9h0M686.3 311.5h0M558.3 429.4h0M570.8 352.7h0M592.7 240.2h0M710.4 250h0M716.1 261.5h0M689.8 285.7h0M537.1 221.4h0M672.1 413.5h0M498 363.4h0M710.4 266.1h0M548.4 215.7h0M614.5 441.3h0M676.4 269.1h0M687.5 311.3h0M694.3 315.2h0M692.8 277.4h0M692.6 273.1h0M565.6 237.2h0M573.5 241.5h0M697.3 248h0M550.9 230.6h0M556.7 345.9h0M588.1 367.3h0M648.8 287.3h0M586.8 207.2h0M533.8 433.8h0M692.6 255.6h0M579.8 241h0M562.6 230.5h0M590.7 371.8h0M528 359.6h0M570.3 242.7h0M597 241.9h0M589.7 329.6h0M689.2 278h0M688.5 286.2h0M672.9 284.3h0M636.4 297.6h0M543.4 329.8h0M640.1 382.3h0M671.1 256.5h0M675 312h0M707.6 248.9h0M666.8 251.2h0M457.9 166.7h0M666.6 266.7h0M673.3 262.1h0M578.6 212.4h0M563.3 232.9h0M530.5 208h0M662.6 398.1h0M581 224.5h0M563.3 207.8h0M674.6 285h0M675.7 285.1h0M673.9 248.2h0M572.1 352.6h0M590.4 229h0M596.6 346.8h0M546.7 334.7h0M567.8 236.2h0M560.8 332.6h0M580.4 233.5h0M667.9 402.6h0M663.9 251.9h0M566.3 208.1h0M543.7 333.1h0M597.9 344.4h0M665.7 400.4h0M652 292.6h0M713.7 265.7h0M549.9 352.3h0M693 281.1h0M687 255.5h0M579.4 352.3h0M601.5 299.7h0M579.7 354.1h0M576.7 354.6h0M527.7 350.8h0M603.8 236h0M504.6 362.9h0M575.6 356.3h0M562 228.5h0M638.3 438.9h0M665 434.1h0M585.5 364.7h0M650.1 307.8h0M684.3 397.2h0M706.8 281.3h0M596.8 348.2h0M708 274.4h0M655.1 314h0M548 352.6h0M664.4 425h0M673.3 272.1h0M669.2 262.3h0M690.5 281.8h0M563.1 333.5h0M653.1 286.8h0M656.5 270.4h0M655.2 436.7h0M548.5 353.3h0M548.1 215.4h0M547.4 219h0M574.1 427.7h0M668.3 281.2h0M583.5 334.5h0M464.8 158.4h0M714.5 258.4h0M544.7 217h0M688.5 311.6h0M554.2 236.8h0M711.7 252.3h0M548.9 379h0M700.6 275.2h0M560.6 204h0M614 212.1h0M548.4 353.9h0M607.9 228.5h0M661.5 248.6h0M667.7 408.7h0M540 226.6h0M610.2 292.8h0M685.2 281.1h0M683.1 276h0M693.8 288.2h0M633.2 438.1h0M607.6 299.5h0M535.4 215.1h0M525.1 211.9h0M697 427.1h0M567.7 237.5h0M575.3 237.8h0M697.7 281.9h0M709.5 268.2h0M708 273.4h0M548.7 331h0M616.3 299.3h0M687.6 256.7h0M675.4 255.4h0M534.9 210.2h0M695.4 272.3h0M570.7 232.8h0M558.3 235.9h0M585.1 351.9h0M638.8 297.5h0M698.7 404.7h0M603.1 326.9h0M573.5 243.3h0M627.5 385.3h0M672.6 284.2h0M527.9 338.8h0M627.3 314.7h0M661.9 260.6h0M555.7 348.6h0M556.3 429.4h0M666.5 287.8h0M594.3 232.4h0"/>
<path stroke="#2f5890" d="M565 358.7h0M665.2 399.2h0M465.5 160h0M603.7 222.1h0M654.1 380.8h0M611.2 222h0M570.1 334h0M698.8 268.5h0M696.2 310.9h0M553.8 224.7h0M703.3 409.4h0M686.6 303.6h0M575.7 208.1h0M552.9 232.9h0M559 227.7h0M606.8 293h0M584.4 364.1h0M687.7 401.1h0M532.4 343.3h0M588.4 210.3h0M701.4 408.7h0M583.8 205.9h0M567.2 354.5h0M547.1 211.9h0M567.5 230.4h0M686.1 314h0M526.4 338.7h0M593.5 297.9h0M569.7 219.4h0M675.9 249h0M561.6 211.7h0M562.6 237.5h0M526.7 351.8h0M557.7 356h0M683.9 291.9h0M666.2 262.1h0M553.7 209.4h0M535.8 209.4h0M637 324.7h0M570 214.4h0M714.5 406.2h0M611.4 353.5h0M590.5 319.2h0M529.2 210.2h0M633.5 316.1h0M562.3 208.4h0M535.2 339.6h0M505.4 367.6h0M573 419.9h0M463.2 160.4h0M540.8 333.2h0M678.9 256.8h0M566.6 336.7h0M537.3 331.7h0M700.9 312.3h0M673.3 413.4h0M687.4 397.5h0M533.3 214.6h0M542.2 338.1h0M675.7 404.6h0M706.5 254h0M661.4 282h0M572.1 240.7h0M585.8 364.7h0M661.1 261.6h0M541.8 424.9h0M683.1 285.1h0M688.6 400.9h0M564.4 230.4h0M693.4 309.9h0M579.9 240.8h0M615.9 292.9h0M590.3 338.6h0M557.2 233h0M688.5 400.7h0M566.3 238.8h0M715 260.4h0M648.7 324.3h0M539.1 220.2h0M662.1 260.5h0M687.4 316.4h0M701.7 253.7h0M576 376.1h0M634.8 365.9h0M575.7 335.7h0M534 345.4h0M534.4 353.3h0M555.7 351.9h0M698.9 275.1h0M517.2 427.8h0M612.5 291.7h0M700.3 278.9h0M568.1 236.8h0M681.4 271.4h0M563.2 244h0M579.4 430.3h0M608.5 219.2h0M715 408.1h0M540.3 210.8h0M546 330.7h0M634.3 325.7h0M557.6 237.8h0M662.3 264.6h0M524.9 350.7h0M701.6 280.8h0M605.1 231.6h0M665.5 275.1h0M673.6 414.5h0M594.7 240.1h0M568.2 216.9h0M703.3 268.3h0M560.5 430h0M567.4 206.8h0M595.4 351.8h0M591.1 214.1h0M677.1 272.6h0M625.4 294.9h0M685.1 315.9h0M667.8 410h0M582 355h0M692.2 269.2h0M697.2 395.8h0M661.2 387.3h0M577.7 210.7h0M564.5 207h0M461.5 165.5h0M658.7 419.5h0M691.5 256.2h0M571.1 242.9h0M692.8 255.1h0M668 261.4h0M548.9 353.7h0M524 212.1h0M694.4 255.6h0M572.7 333.6h0M584.5 334.4h0M567.1 377.7h0M688.8 291.1h0M680.9 410.5h0M701.3 257.5h0M674.8 248h0M579.9 358.1h0M694.4 253.8h0M669.8 287h0M563.8 326.1h0M545.2 215.1h0M670.6 262.3h0M597.7 296.1h0M534.6 356.1h0M575.4 351.8h0M663.9 262h0M568.2 211.9h0M713.4 262.2h0M524.1 350.9h0M668.6 264.5h0M571.9 234.5h0M594.2 320.6h0M534 207.7h0M468.2 161.5h0M586.2 350.1h0M563.9 222.4h0M676.2 401.6h0M566.7 424.3h0M463.1 159.2h0M634.3 381.3h0M671.2 274.6h0M587 295.2h0M557.5 351.6h0"/>
<path stroke="#216291" d="M694.2 259.5h0M550.4 361.2h0M670.3 314.7h0M548.8 350h0M699.4 406.4h0M549.1 360h0M556 230.5h0M459.9 154.8h0M563.1 207.8h0M684.6 276.8h0M581.2 359.6h0M594.3 218.4h0M507.3 363.9h0M532.2 358h0M545.8 224.6h0M562.1 213.6h0M650.5 385.4h0M587.6 372.3h0M601.6 231.7h0M699.2 416.3h0M577.9 350.8h0M567.8 325.4h0M552.5 227.1h0M571.8 224.5h0M596.5 292.3h0M656.6 380.8h0M570.2 358.3h0M706.8 269.2h0M594.3 227.6h0M687.2 286.4h0M648.7 289.3h0M573.3 356h0M689.1 277.9h0M554 233.6h0M600.5 295.4h0M647 417.1h0M708.9 269.1h0M644.6 419.7h0M570.7 351.1h0M577.5 227.9h0M531.1 358.5h0M705.1 410.9h0M578 337.4h0M551 375.8h0M558.3 211.9h0M681 411.2h0M578 354h0M558.9 337.1h0M660.5 296h0M718.4 259.6h0M687.8 263.3h0M577.7 355.8h0M576.5 237.6h0M684 314h0M557.2 433h0M466.8 158.5h0M632.6 299.5h0M591.4 373.3h0M659.5 250.5h0M568.5 337.3h0M695.1 258.3h0M683.1 310.4h0M614.4 295.5h0M585.9 229.3h0M628.3 299.3h0M621.2 428.6h0M681.3 271h0M531.5 353.2h0M541.3 211.3h0M665.4 261.5h0M694.9 267.6h0M677.4 289.8h0M571.4 377.4h0M692.7 280.3h0M678.5 314.3h0M567.9 227.6h0M604.9 234.5h0M700.1 406.7h0M623.5 289.8h0M465.8 157.1h0M598.6 216.8h0M541.9 349.9h0M542.8 358.8h0M559.2 228.6h0M550.3 212.5h0M443.8 160h0M527.3 352.4h0M451.8 159.4h0M542.8 376.3h0M689.9 259.3h0M579.6 435.7h0M583.9 376h0M697 274.8h0M444.4 155.9h0M526.5 435.9h0M560.5 240.7h0M604.8 234.3h0M732.5 407.6h0M558.1 231.3h0M664.3 273.9h0M663.7 262.3h0M565.8 354.6h0M531.4 215.2h0M671.4 411.9h0M612.8 222.5h0M456.9 159.7h0M579.3 365.3h0M552.6 346.4h0M600 294.2h0M688.2 267.2h0M581.8 361.8h0M680.5 287.5h0M568.8 234.1h0M519.8 366.1h0M669.3 279.7h0M589.3 226.6h0M534.8 339.4h0M547.4 344.3h0M581.9 354.2h0M576.7 229h0M695.4 259.6h0M550.5 228h0M580.3 346.7h0M643.9 421.7h0M678.7 406.5h0M601.8 226.7h0M530.2 375.1h0"/>
<path stroke="#0e6b90" d="M573.1 226.4h0M563.5 354.2h0M533.1 355.4h0M556.6 212.4h0M681 390.7h0M661.7 320.6h0M567.1 207.4h0M575.7 325.7h0M687.8 290.9h0M700.9 269.6h0M535.4 220.2h0M653.7 429.4h0M543.8 344.6h0M540 213.5h0M607.6 379.6h0M447.5 154.3h0M533.3 376.2h0M462.7 159.7h0M544.8 338.7h0M582.4 345.9h0M669.7 269.2h0M677.7 387.4h0M580.8 361.7h0M546.3 220.6h0M674 292.4h0M445.8 151.7h0M571.7 325.6h0M578.8 359.3h0M696.4 387.1h0M583.8 209.9h0M681.1 387.1h0M550.5 344.4h0M558.4 437.1h0M578.6 237.4h0M530.4 213.1h0M559.2 347.1h0M586.6 230.3h0M687 416.7h0M660.1 291h0M554.5 360h0M686.1 310.4h0M595.7 343.7h0M540.4 206.6h0M587.9 329.2h0M671.7 290.5h0M593 229.4h0M622.9 379.8h0M644.9 382.5h0M690.6 267h0M444.2 159.2h0M666.3 383.3h0M554.3 208.2h0M562.3 360.6h0M668.3 418.9h0M731.5 407.1h0M651.8 295.7h0M454.3 154.7h0M553.3 330h0M595.8 297.5h0M591.6 345h0M559 347.2h0M566.3 348.7h0M561 232.2h0M676.8 404.5h0M624.3 324.7h0M685.8 312.1h0M537 374.9h0M513.5 363.4h0M580.4 355.4h0M670.6 406.8h0M641.1 294.1h0M563.2 353.8h0M700.2 264.6h0M564.7 356.6h0M579 337.9h0M551.6 362h0M594.5 327.1h0M636.1 289.1h0M660.5 270h0M580 359.1h0M670.7 271.4h0M705.7 267.5h0M664.6 295.8h0M673.8 270.3h0M575.5 222.3h0M655.9 413.6h0M582.4 227.5h0M616.9 298h0M509.9 364.7h0M573.3 233.8h0M510 363.9h0M444.3 161.1h0M569.3 350.7h0M702.4 270.2h0M578.6 345.9h0M618 382.2h0M672.3 312.3h0M561.8 347.4h0M641 294.9h0M621.8 377.4h0"/>
<path stroke="#007491" d="M573.7 225.7h0M679.9 385.4h0M582.6 337.3h0M636.2 315.9h0M649.2 296.5h0M651.3 291.8h0M531.7 430.8h0M620.9 381.6h0M572.3 375.4h0M535.9 356.3h0M693.8 265.8h0M614.9 299.1h0M596.1 345.4h0M689.9 386.9h0M606.8 319.8h0M559.4 222.2h0M597.9 376.6h0M584.7 353.9h0M631.7 382.1h0M582.4 337.7h0M585.9 344.2h0M624.2 228.8h0M534.1 216.6h0M633.7 294.8h0M568.1 350.6h0M496 431.5h0M611.8 382.4h0M602.3 234.5h0M575.4 326.5h0M539.9 212.9h0M559.4 346.4h0M672.8 291.6h0M515.7 372.5h0M602.9 381.3h0M671.2 270h0M573.9 225h0M443.5 153.4h0M683.7 420.1h0M620.7 298.5h0M610.6 220h0M681.9 268.8h0M442.6 156.4h0M654.7 385.7h0M545.3 375.5h0M637.2 290.7h0M574.1 358.3h0M554 344.3h0M555 353.9h0M610.1 228.9h0M543.2 215.6h0M702.1 264h0M676.2 289.5h0M710.6 262.4h0M708.3 258.7h0M602.7 295h0M636.4 382.5h0M672.1 384.9h0M515.4 365h0M697.7 260.7h0M664 383.3h0M650 384h0M572 429h0M528.6 362.7h0M561.8 223.7h0M543.6 224h0M597.9 319.9h0M688.4 290.3h0M567.2 345.5h0M532.5 210.1h0M574.6 237.3h0M567.7 346.2h0M529.6 351.9h0M569.3 349.2h0M545.7 375.8h0M568.6 217.9h0M577.8 335.7h0M568.7 363.5h0M577.4 437.9h0M605.5 226.2h0M675 291.2h0"/>
<path stroke="#007d90" d="M424.7 151.4h0M566.8 228.7h0M581.6 352.7h0M702.5 258.7h0M685.5 270.6h0M681.5 269.4h0M587.7 348.6h0M686.3 409h0M619.9 291.2h0M574.5 226.4h0M576.7 365.6h0M424.6 151.1h0M666.2 315.9h0M668.8 287.4h0M653.6 385.2h0M558.4 222.4h0M591.8 376.3h0M424.3 150.5h0M684.4 267.9h0M620.3 297.8h0M575.8 365.5h0M562.4 216h0M519.9 361.5h0M624 290.6h0M671.8 308.2h0M433.8 149.3h0M569.2 353.2h0M587.8 352.7h0M550.5 375.2h0M448.1 151.7h0M443.7 160.1h0M421.4 149.5h0M435.8 153.8h0M604 296.9h0M646.8 293h0M640.6 289.9h0M620.1 293.6h0M678.6 264.8h0M430.9 139.8h0M632.4 383.5h0M623.2 227.7h0M599.8 224.7h0M573.9 364.7h0M422.4 151.5h0M569.2 362.1h0M602.3 375.5h0M428.9 152.8h0M564 353.1h0M521.9 361.2h0M434.5 144.6h0M545.2 218.5h0M432.2 152.5h0M525.7 372.7h0M570.3 344.1h0M443.2 152.7h0M448.2 161.1h0M428.6 153.4h0M563.4 374.1h0M558.1 361.5h0M524.3 360.7h0M529.1 374h0M447.7 160.5h0M687 267.4h0M601 378.9h0M428.1 146h0M506.1 366.3h0M620.2 381.9h0M540.1 214.1h0M665.4 315.2h0M518.1 363.2h0M514.7 365.5h0M610.5 292.2h0"/>
<path stroke="#008690" d="M565.6 361.9h0M421.9 151.7h0M676.8 288.1h0M437.4 150.4h0M433.3 144.9h0M585.3 374.4h0M517.3 362.9h0M568.2 327h0M558 350.4h0M559.3 350.4h0M673.5 308.9h0M569.4 347.2h0M650.5 290h0M430.9 141.1h0M439.6 155.1h0M590.1 341.3h0M682 287.1h0M569.5 338.9h0M635.4 384.4h0M571.9 365.3h0M625.7 294h0M556.8 336.7h0M656.7 412.9h0M424.6 151h0M543.3 339.4h0M647 384.1h0M428.9 144h0M655.1 384.8h0M435.8 140.3h0M559.9 374.2h0M581.1 345h0M695.4 261.3h0M438.3 155.5h0M517.5 364.3h0M569.4 325.6h0M603.9 378.9h0M422.1 150.4h0M558.8 341.4h0M427.5 150.8h0M598.3 320.5h0M551.9 336h0M427.2 143.9h0M568.1 353h0M668 318.5h0M433.9 152.1h0M583 366h0M558.1 221.6h0M570.9 376.1h0M616.6 380.6h0M662.4 320.2h0M425.7 153.2h0M555.2 373.2h0M542.7 219.5h0M616.3 379.6h0M636.3 383.1h0"/>
<path stroke="#00908e" d="M555.9 364.1h0M562.9 340.2h0M628.2 381.9h0M541.7 375.2h0M566 375.6h0M682.4 289.8h0M430 143.7h0M641.5 383.1h0M690.3 262.3h0M518.9 370h0M433.8 148.5h0M575 374.9h0M659.1 387.4h0M673.6 269.7h0M553.3 372.4h0M553.4 343.6h0M632.8 297h0M614.6 324.3h0M567.1 340.6h0M593 321.5h0M496.7 426h0M641.7 293.9h0M426.9 146.7h0M583.6 372.8h0M574.5 344h0M549.7 365.1h0M689.5 387.7h0M567.9 375.8h0M554.5 373.9h0M511.3 368.6h0M639 381h0M546.3 365.1h0M660.9 292.3h0M589.5 340.6h0"/>
<path stroke="#00988b" d="M574.4 343.6h0M535.1 373.8h0M557.3 340.7h0M602.5 378h0M604.3 376.6h0M518.5 372h0M511 369.3h0M644.5 382.2h0M574.9 344.3h0M532 369.1h0M547.9 362.1h0M582.1 345h0M565.8 363.5h0M576.7 374.5h0M563.3 366.5h0M597.2 321.5h0M689.9 263.4h0M642.1 321.5h0M674.3 268h0M582.9 325.4h0M693.9 263.2h0M687.4 388.7h0M575.4 366.8h0M574.8 344.3h0M515.3 368.6h0M557 338.2h0M515.4 370.4h0M659.2 383.5h0"/>
<path stroke="#00a188" d="M608.1 377.8h0M654 316.3h0M579.1 366.7h0M553.6 365.5h0M577.7 364.5h0M569 341.6h0M612.5 321.1h0M603.2 377.8h0M544.6 368h0M627.8 323.5h0M573.2 339.4h0M550.6 364.1h0M527.2 368.9h0M633.2 322.5h0M571.5 340.2h0M539 365.8h0M589.5 322.6h0M639.8 383.5h0M596.9 325.3h0"/>
<path stroke="#00a983" d="M569.6 343.3h0M649.9 319.5h0M656.4 383.1h0M515.4 363.9h0M614.5 320.3h0M543.1 366.4h0M590.5 375.2h0M615 319.9h0M659 316.3h0M541.9 366.8h0M692.4 307.4h0M565.3 340.7h0M497.6 431.3h0M533.5 369h0M545.1 371.5h0M649.5 383.3h0M670.4 290.4h0M567.1 340.8h0M570.8 366.8h0M694 308.3h0"/>
<path stroke="#00b17c" d="M514.8 370.5h0M644.6 382.2h0M554.5 373.8h0M669.4 386.4h0M546.6 370.1h0M581.2 372.1h0M564 369.4h0M588.5 322.3h0M599.4 321.8h0M554.8 340.6h0M562.2 373.9h0M532.8 367.7h0M605.5 321h0M529.6 369.8h0M578.7 369.7h0"/>
<path stroke="#00b973" d="M515 369h0M525.1 368.4h0M567.5 370.2h0M606.1 320.7h0M583.6 343.4h0M656.1 291.6h0M652.9 319h0M549.1 370.2h0M537.3 368.7h0M584.8 370.8h0M585.8 342.9h0M529 369.8h0"/>
<path stroke="#00c168" d="M622.1 321.2h0M525 366.5h0M623.4 319.9h0M669 290.7h0M651.5 318.2h0M662.9 292.3h0M657.8 317.9h0M527.4 369h0"/>
<path stroke="#00c85a" d="M574.5 339.5h0M698 389.5h0M583.9 343.3h0M571.4 373.4h0M549.2 369h0M660.8 293h0"/>
<path stroke="#36cf48" d="M554.1 368.8h0M576.2 369.4h0M590.9 324.5h0M540 369h0"/>
<path stroke="#5fd52f" d="M558 369.4h0M553.5 368.9h0"/>
<path stroke="#81d900" d="M563.9 370.7h0M575.1 373.2h0"/>
<path stroke="#dce300" d="M572.9 341.8h0"/>
<path stroke="#f5e500" d="M573.3 341.6h0M580.4 342.1h0M574.8 341.9h0M575.3 341.8h0M580.3 342.2h0"/>
<path stroke="#4c005e" d="M453.5 169.8h0M454.1 168h0M638.6 416h0M657.6 319.8h0M631.3 441.4h0M662.9 401.6h0M671.8 242.4h0M587.2 313.9h0M641.6 310.9h0M586.2 400h0M578.8 301.7h0M658.1 304.1h0M665 305.8h0M520.5 209.2h0M533.6 224.5h0M511 217.5h0M489.6 186.8h0M446.2 165.9h0M538.7 229.2h0M481.3 179.1h0M572.4 381.9h0M560 325.6h0M696.4 242.9h0M445.4 169.8h0M688.5 240.6h0M582.9 308.8h0M467.9 175h0M642.6 405.4h0M542 182.6h0M679.5 239.8h0M647.5 247.7h0M627.2 398.2h0M623.9 312.7h0M490.8 220.8h0M592 187h0M513.3 187.4h0M480.7 179.5h0M496.1 188.3h0M508.6 190.8h0M460.7 174.3h0M646.1 314.3h0M582.8 333.4h0M423 160h0M667.6 315h0M638.8 391.6h0M716.5 244.3h0M521 214.4h0M693.6 246.2h0M643.1 220.2h0M463.7 174.5h0M592.6 313.6h0M549.1 189.7h0M652.9 308.4h0M578.8 185.5h0M643.3 314.8h0M559.3 316.6h0M435.4 166.2h0M443.4 170.3h0M660.7 302.8h0M482.8 174.2h0M625 302.9h0M670.7 242.3h0M642.7 440.9h0M424.1 156.6h0M440.5 168.3h0M556.7 429.9h0M440.7 169.3h0M597.6 244.3h0M637.6 316.3h0M554.2 200.8h0M663.6 239.5h0M547 201.3h0M593.8 303.1h0M535.6 183h0M571.4 327.6h0M563.4 247.8h0M571.8 247.6h0M672.4 319.2h0M513.2 184.7h0M592.4 205.2h0M563.2 416.9h0M721.7 244.4h0M613.6 314.2h0M652 300h0M420.7 160.1h0M570.5 250h0M439.5 164.7h0M654.2 247.7h0M615.1 202.1h0M435.2 161.7h0M571.6 184.6h0M548.1 297.9h0M543.1 232.3h0M484.5 178.1h0M438.8 165.7h0M679.3 242.1h0M506.9 194h0M665.8 244.6h0M453.8 173.6h0M671.1 406.4h0M721.3 242.2h0M633.1 237.9h0M667 241.7h0M623.5 215.4h0M596.5 312.8h0M579.3 415.9h0M588 331.1h0M628.8 241.4h0M637.2 309.4h0M628.2 301.5h0M536.4 229.1h0M563.6 246.6h0M666.6 430.9h0M456.3 170.7h0M672 239.6h0M513.1 426.3h0M612.7 433.1h0M623.7 390.5h0M653.3 254.9h0M477.4 174.4h0"/>
<path stroke="#4e106b" d="M655.6 304h0M566.5 447.5h0M581.7 442.1h0M489.1 187.1h0M681.3 414.3h0M645.7 282.3h0M465.5 170.1h0M536.1 325.6h0M587.3 361.1h0M664.9 310.8h0M660.6 302.8h0M622.5 272.1h0M611 307.4h0M683 238.8h0M656.8 285.8h0M721.4 252.1h0M634.3 299.4h0M596.7 245.4h0M459.5 174.3h0M552.7 237.6h0M464.4 169.3h0M593 301.8h0M456.1 171.2h0M561 431.1h0M640.3 302.3h0M574.9 435.5h0M545 197.6h0M493.7 192.9h0M572.1 329.3h0M468 173.6h0M572 427.6h0M436.9 162.9h0M469.8 170h0M463.2 175.3h0M561.9 187.2h0M619 247.3h0M723 241.5h0M555 293.8h0M585.4 332.6h0M593.9 202h0M645 308.7h0M530.1 224h0M592.1 377h0M643.1 246.6h0M518.7 205.3h0M635.2 308.9h0M655.3 260.8h0M589.4 306.9h0M489 188.6h0M516.3 193.9h0M608.5 270.6h0M611.6 300.6h0M598.2 203.6h0M498.8 349.3h0M547.8 205.7h0M541 236.9h0M633.1 302.9h0M659.1 417.9h0M617.1 315.5h0M569.4 447.7h0M603.5 204.2h0M556 198.7h0M474.3 172.8h0M611.6 312.4h0M466.6 171.6h0M589.8 312.8h0M493.4 190.5h0M666.4 241.6h0M711 284.7h0M630.4 312.5h0M612.3 244.4h0M646.7 239.9h0M613.1 207h0M597.3 303.1h0M638.5 245.1h0M603.3 206h0M669.9 242.9h0M516.9 180.8h0M549 235h0M651.7 305.5h0M548.7 199.9h0M506.3 350.4h0M547.8 437.7h0M635.1 303.6h0M424.8 160.7h0M654 253.1h0M599.9 386.1h0M681.1 294.5h0M467.6 174.7h0M664 299.5h0M504.5 339.7h0M629.1 247.4h0M658.8 413.8h0M552.9 309.7h0M449.8 166.8h0M538.5 433.7h0"/>
<path stroke="#4e1e75" d="M517.4 344.5h0M474.4 172.9h0M561.6 434.1h0M541.8 380.7h0M569.3 382.3h0M630.6 300.3h0M615.4 448.9h0M488.3 187.6h0M657.4 288h0M525.7 216.2h0M604.8 245.2h0M682.8 303.1h0M503.9 181h0M679.6 284.5h0M557.9 199.8h0M505.5 376.2h0M539.7 434.7h0M647 439.8h0M463 172.8h0M665.4 314.1h0M717.4 266.9h0M715.4 270.7h0M432.6 158.4h0M663.9 244.3h0M720.9 248.6h0M447.3 168.3h0M494.8 180.1h0M494.2 426.9h0M668.1 311.6h0M593.2 248.6h0M651.6 303.5h0M634 285.9h0M656.4 270.1h0M566.2 252.8h0M610.6 301.2h0M450.9 167.4h0M524.6 184.4h0M610.5 268.7h0M595.3 306.2h0M589.1 299h0M654.3 274.6h0M497 361.9h0M638.2 406.7h0M599.2 242.8h0M475.8 172.1h0M663.4 287.7h0M695 302.8h0M711.9 278h0M554 251h0M587.1 328h0M692.2 318.4h0M670.7 427.6h0M553.3 200.8h0M460.3 173h0M615 316h0M567.9 295.1h0M542.9 184.1h0M541.4 329h0M693.1 242.5h0M586.1 203.8h0M657.4 247.9h0M642.1 387.7h0M615.2 314.2h0M658.7 422.7h0M558.3 185.3h0M581.8 307.7h0M559.7 246.7h0M588.1 229h0M722.7 257.4h0M665.9 309.3h0M670.8 244.8h0M514.8 349.7h0M693.2 305.2h0M616.3 245.2h0M553.1 242h0M637.4 301.1h0M675.1 282.2h0M526.5 194h0M474.8 168.5h0M608.4 287.7h0M648.8 439.4h0M686 420.4h0M542.9 196.3h0M585.3 293.4h0M571.6 204.4h0M715.3 272.7h0M620.4 312.9h0M478.6 166.3h0M570.7 433.5h0M675.6 249.4h0M637.8 246.9h0M559.9 184.8h0M551 239.9h0M560 202.5h0M657.9 280.6h0M550.1 239.7h0M588.2 212.3h0M570.8 217.9h0M526.9 217.1h0M493.6 364.6h0M637.6 418.4h0M657.2 270.9h0M537.4 226.2h0M561.3 199.1h0M628.4 306h0M696.1 288.7h0M552.5 242.3h0M518.1 212h0M570.9 294.8h0M549.4 188.3h0M551 435.4h0M648.5 316.5h0M646.8 308.7h0M555.6 201h0M568 244.1h0M678 294.2h0M566.1 383h0M457.7 172.2h0M655.5 253.7h0M531 218.4h0M620.6 328.8h0M548.8 187.2h0M523.1 184.5h0"/>
<path stroke="#4b2c80" d="M554.4 242.6h0M721.9 254.4h0M581.7 186.2h0M621.6 328.2h0M575.3 247.3h0M713.6 274.5h0M519.8 336.6h0M662.7 249.8h0M643 286.4h0M592.7 208.1h0M583.3 331.9h0M531.9 192.8h0M524.7 380.7h0M524 217h0M612.7 216.4h0M653.5 279.8h0M538.3 382.4h0M504.1 181.3h0M547.1 187.5h0M566.1 244.7h0M641.3 313.5h0M613 269.1h0M594 373.4h0M629.6 306h0M499.1 423.2h0M667.7 281.4h0M690.8 310.1h0M660 308.5h0M537.2 194.1h0M718 262.7h0M553.1 327.2h0M649 312.8h0M659.4 287.4h0M651.1 303.9h0M670.4 315h0M676.5 246.6h0M567.6 241.6h0M469.9 172.5h0M697.9 251.6h0M537.7 435.4h0M666.4 407.8h0M538.1 227.3h0M684.4 429.8h0M593.3 375.8h0M599.5 213.3h0M667.4 431.9h0M552.3 238.8h0M580 331.5h0M695.5 254h0M595.2 361.7h0M593.7 213.5h0M583.8 331.8h0M548.2 198.5h0M634.9 299.9h0M659.2 311.6h0M670.7 260.9h0M531.5 205.9h0M569.5 186h0M624.1 317h0M547.1 207.2h0M521.6 208.1h0M588.4 306.8h0M657 249.8h0M502.9 370.5h0M698.1 251.1h0M560.5 242.5h0M568.9 186.3h0M527.3 215.6h0M587.9 245.6h0M596 206.1h0M657.4 275.1h0M630.2 234.7h0M670.6 247.8h0M701.2 285.4h0M531 192.1h0M699.1 248.4h0M675.6 294.8h0M667.2 280.3h0M678.9 246.1h0M588.9 365.4h0M608.1 310.2h0M635.6 268.2h0M545.3 211.9h0M574.9 294.9h0M666.8 417.4h0M672.9 244.3h0M582.1 334h0M559.6 246.9h0M509.5 215.3h0M664.4 413.2h0M508.3 181.2h0M459.5 172.7h0M716.7 257.9h0M621.6 421.8h0M545.8 426.3h0M511.6 190.5h0M593.2 376h0M476.5 165.5h0M627 269.9h0M506.4 223.6h0M553.1 379.5h0M601.2 288.8h0M654.9 389.7h0M677.5 296.8h0M673.3 285h0M561.8 328.1h0M588.8 335.2h0M574.9 200h0M574 233.2h0M567.2 188.2h0M589.9 204.4h0M553.4 334.2h0M647.4 309.2h0M500.7 362.1h0M703.6 247.2h0M514.3 181.4h0M593.1 312.1h0M592.8 357.9h0"/>
<path stroke="#463786" d="M664.1 310h0M655.6 274.2h0M575 331.6h0M596.1 301.2h0M591.5 241.8h0M571.1 245.2h0M669 285.2h0M589.3 297.7h0M706.5 250.6h0M564.3 241.1h0M679 284h0M673.7 286.2h0M611 235.9h0M590.5 358.7h0M675.7 247.1h0M619.5 287.5h0M656.5 267.4h0M674 246.7h0M706.2 251.1h0M651 274.2h0M632.7 237.4h0M584 436.2h0M575.8 330.5h0M509.4 374.9h0M701.5 248.7h0M591.3 237.7h0M588.5 430.7h0M569.8 330.4h0M658.4 257.9h0M646.5 324.9h0M531.9 356h0M634.9 313.6h0M589.7 298.9h0M497 178.3h0M534.5 345.2h0M549.2 435.7h0M550.9 235.5h0M493.8 188.8h0M622.6 233.1h0M672.9 283.1h0M701 277.1h0M606.5 244.3h0M635.8 285.7h0M519.6 375.2h0M676.3 406.7h0M516 339.9h0M626.9 269.1h0M551 202.2h0M544.8 187.6h0M676.3 276.8h0M689.8 405.4h0M552.3 185.4h0M517.6 350.7h0M510 375h0M671.7 410.5h0M661.7 284.6h0M530.9 184.8h0M573.5 206.5h0M569.2 207h0M538.8 333.2h0M640.7 313.2h0M569.7 242.6h0M583 231.4h0M587.8 364.6h0M571.4 186.2h0M595 232.3h0M616.4 307.4h0M567.8 350.7h0M510.4 347.9h0M678.5 285.6h0M577 205.6h0M677.4 405.4h0M669.3 412.3h0M584.4 230.2h0M574.4 377.5h0M679.3 247.7h0M539.2 183.5h0M531.1 331.8h0M605.4 244h0M553.9 428.4h0M661.8 297.2h0M476.6 164.1h0M554.5 379.3h0M658.2 284.9h0M706.9 275.9h0M684.3 247.8h0M556.2 217.6h0M641.1 234.6h0M701.3 256.4h0M699.3 275.6h0M571.5 203h0M590.6 229.8h0M530.2 377.1h0M698.9 286h0M658.4 254.7h0M709.6 272.9h0M476.2 159.3h0M661.7 258h0M500.8 363.2h0M665.3 286.4h0M601.2 313.7h0M584.9 319.9h0M533.8 206.6h0M602.1 233.5h0M571.4 187h0M570.1 325.1h0M587.3 364.3h0M599 206.6h0M581.5 320.5h0M549.5 236.5h0M671.2 297h0M568.4 201.8h0M693 287.4h0M513.5 211.3h0M552.6 235.5h0M633.5 239.9h0M678 430.2h0M657.5 254.6h0M676.7 252.2h0M687.3 309.4h0M673.2 257.4h0M705.4 247.8h0M667 244.8h0M551.2 326.8h0M594.9 205.3h0M691.2 283.2h0M561.9 327.9h0M578.3 415.7h0M675.8 251.4h0M606.3 318.2h0M683 310.5h0M634.7 421.1h0M579.1 204.7h0M657.6 295.8h0M618.8 310.3h0M689.7 308.2h0M561.9 328.9h0M563.1 439.8h0M556.6 233.3h0M659.9 304.6h0M573.4 205h0M679.4 249.7h0M651.7 427.1h0M655.4 311.9h0M578.2 380h0M564.9 199.6h0M671.1 412.8h0M543.6 430.8h0M573.5 244h0"/>
<path stroke="#41438c" d="M562.9 380.8h0M594 236.3h0M506.8 363.5h0M530.8 355.2h0M537.7 204.6h0M700.1 268.3h0M646.1 429.1h0M552.6 356h0M703.2 276.5h0M577.4 205.9h0M535.3 214.8h0M550.3 234.9h0M558 240.3h0M670.9 285h0M530.3 213.6h0M539 333.1h0M583 231.9h0M583.6 239.3h0M531.6 346.5h0M686.6 283.8h0M531.4 349.5h0M693.2 284.8h0M579.8 238.3h0M608.4 234h0M693.2 310h0M686.6 278.1h0M559.2 203.5h0M587.4 375.9h0M631.6 222.5h0M585.6 203.8h0M683.7 280.2h0M539.7 185.2h0M715.6 264.3h0M658.4 277h0M679.9 284h0M537.9 225h0M687.5 278.5h0M601.8 213.5h0M531.6 205.5h0M657.4 310.8h0M664.1 286.8h0M658 262.8h0M565 236.5h0M709.7 271h0M597.4 433.6h0M599 302.3h0M698.6 284.6h0M542.9 205.1h0M604.5 210.9h0M522.6 209.8h0M608.7 376.3h0M535.2 222.2h0M581.1 333.4h0M667.9 321h0M565.7 241.7h0M570.1 333.4h0M703.3 280.8h0M575.2 242.6h0M565.6 240.7h0M578.6 235.5h0M694.5 255.1h0M536.5 339.3h0M573.9 240.9h0M669 401.9h0M560.3 210.8h0M664.4 251.7h0M700.3 277.6h0M534.2 203.6h0M566.8 238.8h0M691.2 286.5h0M428.2 155.5h0M583.3 232.1h0M584.6 360.5h0M659.7 261.5h0M583 205.1h0M715.3 248.8h0M579.1 206.7h0M610.4 374.3h0M585.6 212.8h0M672.9 256.2h0M687.7 397.6h0M572.1 351.2h0M670.6 282.7h0M714.2 263.2h0M695.2 277.3h0M602.9 230.8h0M647.4 430.3h0M607.8 329.4h0M569.9 233.9h0M537.9 205.4h0M582.9 219.4h0M502.5 362.8h0M673.3 255.8h0M672.9 279.9h0M685.2 285.3h0M657.9 387.3h0M583.5 213.8h0M569.4 238.1h0M672 285.2h0M689.5 316.9h0M679.5 253.2h0M520 192.1h0M715.6 268.5h0M586.6 207h0M560.4 328h0M664.5 388.2h0M550.2 226.8h0M581.4 228.8h0M662.5 266.9h0M477.9 163.2h0M586.2 230.9h0M571.7 332.5h0M531.2 430.9h0M681.7 310.3h0M720.1 259.4h0M642.7 290.1h0M634 325.9h0M575.8 244.2h0M571.6 207.4h0M581.7 321.6h0M588.9 235.6h0M527.8 209.1h0M670.6 312h0M595.4 352.4h0M620.6 224.9h0M569.2 232.1h0M525.7 210.6h0M539.2 376.6h0M674.7 402.4h0M599.2 346.7h0M584.3 362.7h0M446.5 163.3h0M644 324.1h0M675.7 287.6h0M567.2 379.6h0M534.8 352.6h0M590.3 231.4h0M606.2 329.1h0M667.2 407.8h0M532.3 207.5h0M671.1 260.2h0M662.5 286.8h0M554.5 350.6h0M675 249.1h0M590.2 239.1h0M592.8 204.9h0M601 421.1h0M532.9 331.6h0"/>
<path stroke="#394e8e" d="M552.2 236.6h0M587.8 211.4h0M543.5 340.6h0M705.9 272.7h0M702.1 250.2h0M505.3 362.9h0M699.8 310.3h0M682 249.1h0M562.3 237.2h0M700.3 407.5h0M541 350.1h0M575.2 235.2h0M710.2 272.8h0M592.9 234.4h0M674.5 398h0M591 373.6h0M658.9 274.8h0M668 258.4h0M561 236.8h0M573.8 439.7h0M663.7 257.6h0M590.5 207.6h0M628.9 430.7h0M673.2 248.5h0M703.9 255.6h0M628.2 232.4h0M557.5 332.1h0M659.6 289h0M581.2 234.1h0M588.9 338.2h0M651.1 286.9h0M710.1 264.1h0M661.6 274.4h0M577 378.5h0M623.3 424.3h0M687.8 257.1h0M663.9 420.3h0M597.7 350.2h0M642.6 289.7h0M698.1 246.6h0M552.1 329.8h0M668.4 249h0M579.2 358.6h0M517.7 355.1h0M710.4 248h0M550.6 348.5h0M678.1 288.3h0M658 275.9h0M619.4 296.5h0M701.8 407.2h0M684 283h0M563.6 187.3h0M571 239.6h0M677.8 386.9h0M594.2 233.6h0M544.8 336.6h0M581.8 212.9h0M579.5 227h0M569.8 211h0M668.8 275.1h0M691.2 260.4h0M708.1 246.9h0M698.5 253.6h0M525.2 335.1h0M472.9 164.5h0M693.4 274.1h0M677 277.5h0M606.5 432.8h0M695.1 416.3h0M690.6 291.4h0M593.3 351.7h0M525 183.6h0M577.5 331.1h0M678.8 277.8h0M716 256.1h0M675.8 251.7h0M557 326.1h0M636.6 313.9h0M527.9 215.7h0M714.8 405.9h0M527.8 332.3h0M698.7 279.9h0M577.7 352.2h0M505 364.9h0M696.5 249h0M697.2 277.4h0M680.1 286.3h0M641.8 334.3h0M615.2 227.9h0M544.5 207.5h0M552 352.8h0M661.6 250.2h0M555.6 234.9h0M614.8 299.4h0M681.4 250.5h0M713.4 401.9h0M709.2 265.8h0M704.6 250.5h0M518.3 208.2h0M569 207.4h0M580.7 236.2h0M691 287.9h0M583.1 212.7h0M589.2 307.9h0M688.2 255.2h0M602.7 443.2h0M559.1 236.1h0M587.4 349h0M550.3 230.7h0M698.9 255.7h0M470.4 164.7h0M602 440.7h0M702.3 273.1h0M572.6 338.1h0M673.3 293.8h0M561.6 208h0M562.8 325.4h0M674.2 397.6h0M627.5 315.7h0M668.9 308.4h0M661.3 254.2h0M604.7 328.6h0M696.6 274.4h0M549.3 205.3h0M684.4 252.9h0M658.6 419.1h0M584.9 232.3h0M680.5 282.5h0M533.3 221.2h0M555.8 332.5h0M578.7 346.5h0M548.4 223.8h0M584.9 361.9h0M619.8 420.3h0M474.2 161.4h0M550.1 332.6h0M576.1 355.3h0M688.1 252.8h0M569.8 377.6h0M570.3 355h0M579.7 346.7h0M668.2 403.2h0M532.3 211.8h0M622.7 429.7h0M543.5 201.3h0M667.9 311.2h0M669.1 410h0M538.9 335.8h0M576.2 353.8h0M549.6 346.3h0M495.2 367.8h0M690.8 289.4h0M533.8 333.3h0M533.6 356.3h0M581.6 231.6h0M591 432.2h0M527.7 350h0M701.3 283.3h0M677.1 285.2h0M713.4 251.2h0M584.2 212.2h0M630.5 326.4h0M675 413.9h0M581.7 435.6h0M604.8 443.6h0M611.3 318.1h0M659.9 295.5h0M547.8 230.3h0M658.9 260.4h0M575.1 242.1h0M580.5 237.7h0M684.3 396.8h0M538.3 210.9h0M614 418h0"/>
<path stroke="#2f5890" d="M689.3 277.8h0M699.5 269.6h0M673.6 398.2h0M593.4 212.2h0M592.3 349.7h0M532.4 215.5h0M575.1 333.3h0M577.7 226.6h0M699 254.9h0M598 319.4h0M651.7 434.7h0M683.1 289.9h0M532.7 214.8h0M568.7 208.4h0M659.8 424.7h0M675.1 261.2h0M581.7 328.2h0M537.6 340h0M704 268.4h0M463 155h0M571.6 232.4h0M683.9 256.9h0M665.6 272.7h0M570.8 350.7h0M693.8 277.7h0M540.9 378.6h0M560.3 230.2h0M662.6 272.5h0M711.1 257.2h0M670.8 270.4h0M598.9 224.5h0M701.7 268.3h0M597.6 343.9h0M681.8 277.6h0M697.7 418.4h0M561.6 223.4h0M686.6 260.2h0M690.1 260.8h0M539.9 225.4h0M665.8 312.8h0M578.9 330.5h0M631.1 316h0M543.7 375.7h0M585.2 350.1h0M566 230h0M711.3 266.2h0M719.1 257.9h0M571.1 211h0M557.4 335.4h0M679.8 313.2h0M710.3 263h0M567.7 434.8h0M473.2 157.1h0M702.3 403.5h0M547.1 225.7h0M577.2 237.7h0M458.2 165h0M659.6 294.9h0M542.5 226.5h0M615.3 382h0M441 160.8h0M559.9 352h0M575.9 230.7h0M564.1 207.7h0M668.6 271.2h0M561.4 232.1h0M612.9 213.4h0M650.4 295.4h0M698.5 251.8h0M602.2 209h0M679.6 259.5h0M559.7 335h0M567.7 351.4h0M623.1 315.5h0M664.3 266.9h0M596.1 231.3h0M643.3 439.3h0M595.9 320.2h0M707.3 272.7h0M514.1 214h0M692.1 411h0M532.3 206.6h0M660.6 284.6h0M683.8 257.8h0M697 279.6h0M607.1 220.8h0M619.8 385h0M467.2 158.9h0M655.5 311h0M592.7 235.3h0M663 283.4h0M533 428h0M554.8 202.3h0M544.9 348.5h0M658 290.1h0M573.4 235.2h0M615.5 220.9h0M691.8 293.2h0M718.4 251.5h0M569 377.3h0M671.9 270.7h0M705.5 264.8h0M606.8 233.5h0M546.2 223.2h0M661.7 397h0M582.1 227.6h0M659.8 385.6h0M669.3 433.5h0M545 212.3h0M546.1 431.1h0M680.4 286.1h0M625.5 294h0M654 383.1h0M729.7 403.2h0M613 428.3h0M465.8 166h0M573.6 328.8h0M663.6 389.8h0M690.2 285.9h0M568.7 355.2h0M630.6 316.4h0M580.8 356.8h0M629.1 314.8h0M496.7 429.9h0M533.6 350.6h0M673.2 318.2h0M713.4 256.9h0M497.3 368.4h0M464.1 163.7h0M588.8 209.3h0M556.8 348.5h0M619.4 432.2h0M576.6 352.2h0M608.5 220.1h0M547.3 230.1h0M543.8 350h0M535.2 206.3h0M670.4 297.2h0M460.4 158.1h0M690.1 247h0M461.1 160.1h0M638.8 380.4h0M462.2 154.9h0M567.7 228.8h0M662.1 274.4h0M586.5 338.7h0M534.3 212.3h0M669.9 287.1h0M581.4 238.1h0M565.5 325.6h0M668.6 273.2h0M575.5 235.6h0M585.8 214.1h0M590.9 336.9h0M590.3 226.4h0M588.3 232.6h0M585.7 352.4h0M706.1 406.3h0M671.7 384h0M562.6 325.2h0M684.8 270.8h0M571.6 330.3h0M610.6 382.5h0M681.5 310.4h0M701.6 255.9h0M524.6 429.3h0M667.3 271.9h0M563.3 227.6h0M696.6 284.4h0M668.7 286.8h0M587.9 354.6h0M507.3 362.3h0M467.2 157.3h0M617.7 299h0M588.8 213.9h0M467.9 163.5h0"/>
<path stroke="#216291" d="M565.4 235.2h0M672.5 270.3h0M547.3 215.9h0M633.3 235.7h0M574.4 355h0M639.1 294.7h0M687.2 291.4h0M611.8 231.1h0M556.7 235.7h0M579.3 329h0M577.6 226.6h0M669.8 280.6h0M532.9 359.9h0M564.9 335.3h0M549.5 231.1h0M470.6 161.9h0M592.7 350.4h0M649 297.3h0M569.5 231.6h0M652.8 385.7h0M555.4 220.6h0M558 326h0M593.8 238.6h0M632.4 290.8h0M640.2 315.9h0M697.3 309.3h0M681.3 316.2h0M523.1 361.8h0M574.5 219.4h0M543 207.2h0M536.9 219.8h0M458 154.2h0M690.1 290h0M552.8 375.7h0M554.4 358.2h0M580.3 209.2h0M669.9 405.7h0M708.4 275.4h0M693.5 260h0M661 384.4h0M671.4 412.2h0M679.9 287.1h0M713.7 262.3h0M625 291.2h0M667.1 270.6h0M564.4 224h0M600 374.2h0M678.2 289.5h0M561.7 353.4h0M641.9 427.7h0M652.8 432.2h0M571.2 349h0M559.8 357.5h0M602.2 296.8h0M447.2 151.4h0M715.5 259.9h0M528 337.1h0M567.1 226.7h0M582.3 360.7h0M543.7 360.3h0M542.3 344.2h0M676.5 312.7h0M548.4 348.6h0M568.2 354h0M527.3 212.9h0M563.5 211.2h0M714.1 260.1h0M573.5 339.3h0M664.7 400.6h0M546.8 338.8h0M539.7 351.4h0M586.9 214.2h0M542.5 211.3h0M666.6 402.1h0M587.6 329.3h0M467.5 157.4h0M608.6 297.1h0M685.5 269.5h0M664.4 385.4h0M629.3 227.4h0M548.1 376h0M687.5 408.1h0M645.2 380.6h0M543 194.7h0M545.4 215.4h0M705.9 258.2h0M629.8 231.2h0M572.9 356.4h0M556.3 228.2h0M661.9 270.6h0M592.9 353.7h0M464.9 161.4h0M581.3 235.8h0M676.9 312.6h0M658.1 419.2h0M600.3 443.5h0M450.2 161.2h0M686.3 269.7h0M550.1 349.7h0M677.9 270.2h0M581.3 229h0M567.1 358.2h0M657.7 289.1h0M677.5 286.3h0M665.6 418.5h0M471.6 165.7h0M542.6 358.7h0M701.2 407.8h0M546.5 227.4h0M450.4 158.5h0M711.9 260h0M586.6 229.7h0M557.5 352.7h0M688.2 280.4h0M547 214.9h0M635.6 386.2h0M577.6 223.1h0M702.6 252.5h0M575.1 336.5h0M710.8 263h0M565.5 433.7h0M615 295.6h0M525.7 350.3h0M593.5 339.6h0M572.6 222.3h0M560.2 328.9h0M618.1 378.1h0M633.1 315.3h0M567.8 230.4h0M708.7 267.4h0M560.6 329.2h0M550.4 362.5h0M689.9 403.8h0M532.6 373.3h0M580.8 352.4h0M643.9 288.8h0"/>
<path stroke="#0e6b90" d="M610.7 296.6h0M611.3 223.6h0M536.9 210.8h0M712.3 263.6h0M443.5 155.4h0M679.7 305.2h0M673.3 290.1h0M535.7 211.5h0M660.6 274.1h0M556.7 347h0M545.5 333.3h0M649.8 418.8h0M591.2 350.3h0M560.4 361.7h0M683 271.3h0M580.6 356.1h0M687.7 267.7h0M682.8 316h0M571.4 222.7h0M542 346.3h0M505.4 368.3h0M660.1 405.6h0M572.5 346.1h0M557.4 356.1h0M604.4 214.8h0M574.1 325h0M541.4 341.9h0M565.4 333.3h0M541.9 376.4h0M666.9 288.8h0M580.5 327.7h0M661.9 295.9h0M545.3 358.4h0M566.1 222.8h0M573.8 375.9h0M660.1 281.8h0M545.8 215.5h0M611.8 297.8h0M574 347.6h0M584.2 349.8h0M571.5 351.6h0M595 340.2h0M685.6 387.9h0M677.6 385.4h0M450.4 155.3h0M684.8 262.4h0M682.2 313h0M545.9 225.2h0M550.3 354.1h0M549.4 210.7h0M507.1 369.3h0M572.7 351.1h0M456.3 158.3h0M605.9 231.1h0M547.2 363.1h0M557.1 360.4h0M580.8 219.5h0M543.3 213.4h0M436.8 153.5h0M601.1 380h0M561.6 238.2h0M710.8 269.2h0M595.5 344.5h0M557.9 333.9h0M661.3 407.1h0M575.8 346.8h0M582.8 235.3h0M602.6 223.9h0M560.8 217.1h0M555.9 221.3h0M604.7 224.5h0M572.6 347.5h0M665.2 271h0M584.9 372.2h0M536.8 357.2h0M575.5 363.2h0M712 261.2h0M664 269.5h0M575.4 222.8h0M620.5 377.3h0M585.9 225.7h0M581.4 351.6h0M710 420h0M614.8 225.4h0M627.3 293.4h0M651.6 383.2h0M571.5 327h0M559.2 345.7h0M556.4 330h0M672.1 396.3h0M584.5 328.8h0M551.4 350.8h0M538.4 211.9h0M457.2 160.6h0M671.3 404.3h0M568.3 354h0M545.1 209.2h0M540.2 349.2h0M672.8 292.5h0M530.8 374.4h0M576.3 241.2h0M551.4 348.7h0M663.5 321.8h0M581.9 355.7h0M665.6 294.3h0"/>
<path stroke="#007491" d="M570.1 341.4h0M550.3 346.4h0M533.3 209.4h0M568 218.1h0M687.8 290.7h0M568.8 351.3h0M587.8 338.8h0M691.7 309.5h0M710.1 260.4h0M538.7 212.2h0M507.5 364.8h0M629.5 422.5h0M575.4 355.6h0M538.2 336.2h0M542.4 211.2h0M443.5 156.1h0M440.9 155.2h0M563.2 376.5h0M610.5 379.5h0M687.7 289.5h0M568.7 347.4h0M569.4 337.7h0M436 157h0M678.5 267.1h0M549.3 336.6h0M662.5 295.9h0M552 360.4h0M547.3 338.8h0M448 153.8h0M559 217.7h0M654.6 426.9h0M564.3 353h0M703 259.6h0M613.5 381.2h0M555.5 354.3h0M694.9 279.8h0M546.7 353.4h0M554.6 357.8h0M673.8 287.8h0M673.4 383.1h0M554.7 236.2h0M578.5 348.3h0M454.6 159.7h0M727 418h0M440.3 152.2h0M569.6 227.3h0M614.8 294.1h0M684.8 290.6h0M547.9 342.8h0M583.3 352.1h0M577.9 221.1h0M632.7 290.4h0M653.3 295.8h0M653.3 382.8h0M571.6 218.1h0M676.2 314.5h0M620.5 379.8h0M636.7 291.4h0M530.4 376.6h0M565.1 223.6h0M660.3 407.4h0M712.1 261.8h0M569.1 224.5h0M663.6 275.9h0M692.6 258.8h0M579.5 324.7h0M622 230.4h0M578.3 361.8h0M657 387.9h0M573.6 225.4h0M668.1 294.5h0M690.4 265.7h0M561.1 210.8h0M435.3 144h0M552.7 211.1h0M433.1 154.6h0M564.8 352.7h0M649.5 428.1h0M640.8 294.3h0M554.1 223.1h0M687.8 386.6h0M537.2 215h0M605.6 227.3h0M604.4 221h0M454.1 153.8h0"/>
<path stroke="#007d90" d="M664.9 385.1h0M554.1 217.4h0M591.6 339.8h0M694.6 261.3h0M567.1 213.8h0M442.7 159.9h0M574.9 221.5h0M617.5 381.5h0M680 290h0M439.4 154.8h0M573.8 351.4h0M591.3 343.8h0M527.6 374h0M542 356.9h0M518.9 365.7h0M512.3 363.9h0M652 418.1h0M581.3 365.3h0M548.9 221h0M519 372.7h0M608.2 223.5h0M581.2 219.7h0M533.2 345.9h0M535.5 211.6h0M579.8 364.7h0M547.1 375.1h0M430.7 141.1h0M695.9 388.4h0M426.1 154.6h0M639.3 383h0M432.7 148.6h0M546 360.5h0M532.3 370.7h0M679.7 268.1h0M586.7 321.7h0M455.8 154.4h0M566.6 217.9h0M424.1 153h0M567.8 375.6h0M560.2 349.3h0M432.3 149.3h0M609.4 378.1h0M431.5 140.5h0M430.2 154h0M550.8 354.5h0M591.8 378h0M568.1 359.4h0M432.6 152.2h0M679 267.7h0M593.1 233.8h0M645.2 315.7h0M571.8 361.6h0M689 266.6h0M654.9 417.4h0M689.8 312.7h0M575.7 338.8h0M588.1 327.7h0M545.7 346.2h0M574.9 428.7h0M562.9 326.5h0M423.2 145.7h0M435.9 143.3h0M619.1 382.4h0M662.5 294.3h0M439.5 152.7h0M579.3 373.7h0M451.8 161.7h0M560.2 354.2h0M699.6 264.5h0M579.1 325.9h0M441.1 155.5h0M433.9 152.7h0M591.4 327.5h0M546.3 337.8h0M555.8 216.3h0M613.2 295h0M434.9 154.3h0M633 380.7h0M431.7 140h0M683.6 422.6h0M558.7 223.5h0M682.4 269h0M421.6 147.7h0M683.4 267.2h0M581.3 364.8h0M522.2 431.6h0"/>
<path stroke="#008690" d="M516 370.4h0M660.6 287.6h0M539.5 432.8h0M593.4 222.4h0M519.7 362.8h0M565.8 375.6h0M611.2 378.2h0M424.6 152.5h0M427.2 144.7h0M424.2 148.5h0M556.6 222h0M622.1 318h0M567.4 339.1h0M561.3 223.2h0M432.3 147.8h0M543.8 375h0M589.7 377.6h0M627.6 380.4h0M696.6 266h0M690.5 266.1h0M424.4 151.3h0M533.5 362.7h0M678.1 289.8h0M580.4 365h0M608.8 326.7h0M554.1 351.3h0M654.8 315.1h0M558.9 376.2h0M599.9 296.9h0M655.4 383.5h0M517.8 365.4h0M425.6 150.7h0M678.6 309.6h0M593.3 379.1h0M610.5 325.9h0M604.4 377.1h0M587.7 370.3h0M523 365.7h0M691.3 264.4h0M434.5 153h0M685.1 387.8h0M523.6 364.1h0M604.3 324.4h0M655.9 315h0M558.1 221.6h0M429.4 149.5h0M427.8 148.4h0M430.5 149h0M493.7 427.8h0M672.4 290.5h0M505.2 366.3h0M429.6 150.8h0M593.5 341.2h0M684.4 266.1h0M653.9 424.2h0"/>
<path stroke="#00908e" d="M665.3 291.3h0M427.2 144.7h0M647.6 321.9h0M693.8 389.7h0M695.3 262.3h0M616.5 382h0M575.2 346.6h0M604.8 380.5h0M707.8 260.8h0M563.5 374h0M536.2 362.9h0M688.3 266.5h0M590.7 339.9h0M609.3 379.4h0M564.9 374.6h0M426.7 149.7h0M434.2 150h0M431.8 145.4h0M546.7 362.5h0M429.8 144.2h0M701 260.4h0M676.2 386.1h0M616.4 379.9h0M574.9 339.2h0M525.7 363.8h0M692 312.3h0M667.5 292.8h0M533.9 373.7h0M707.1 262.8h0M631.2 382.5h0M643.8 316h0M631.1 322.6h0M649.6 382.5h0M442.4 153.1h0M705.1 260.2h0M683.9 267.6h0M520.8 363.8h0"/>
<path stroke="#00988b" d="M688 289.8h0M605.1 378.2h0M571.3 344.2h0M570.7 341.1h0M664.9 293.8h0M526.8 362.2h0M536.2 364.4h0M592.4 377.3h0M685 308.3h0M580.3 339h0M564.5 368h0M541.2 375h0M614.3 319.3h0M688.2 386.7h0M616.1 323.5h0M551 376.1h0M580.5 339.2h0M559.9 374.2h0M573.6 366.1h0"/>
<path stroke="#00a188" d="M583 372.5h0M652.4 383.9h0M589.1 325.9h0M585.1 322.2h0M601.7 379.4h0M580 364.7h0M515.3 368.3h0M635.4 317.8h0M577.2 337.6h0M615.5 380.1h0M581.6 367.5h0M668.9 289.5h0M634 322.2h0M682.9 266.2h0M521.7 368.7h0M519.8 368.7h0M554.8 369.3h0M574.3 338.7h0M602.7 325.4h0M574.7 366.3h0M665.2 386.6h0M556.3 340.4h0M588.7 321.4h0"/>
<path stroke="#00a983" d="M652.4 384.6h0M586.3 344.7h0M584.2 344.2h0M530.7 369.1h0M575.1 344h0M559.8 372.5h0M557.1 342.1h0M579.5 368.3h0M565.6 340.7h0M566.4 368.1h0M595.3 377.8h0M579 370.2h0M558.7 371.7h0M659.9 315.9h0M542.7 363.4h0M690.5 263.6h0M554.2 370.5h0"/>
<path stroke="#00b17c" d="M571.7 365.3h0M527.4 367.9h0M626.6 319.8h0M547.7 373.8h0M524.6 369.1h0M659.7 319.4h0M647.8 320.7h0M544.1 368.2h0M547.4 370.7h0M664.2 385.8h0M562.9 367.7h0M573.5 365.4h0M589.2 324.3h0M512.1 370.2h0M555.3 370h0M567.7 367.3h0M671 292.6h0M538.9 364.4h0M583.3 339.5h0M583.3 343.8h0"/>
<path stroke="#00b973" d="M628.4 319.4h0M590.7 323.1h0M553.6 341.4h0M582 368.9h0M538.4 369.3h0M668.3 291.5h0M577.1 370.2h0M691.6 387.4h0M571.4 366.2h0M579.1 340h0"/>
<path stroke="#00c168" d="M645.5 319.9h0M573.3 343.6h0M561.9 371.5h0M530 369h0M544 371h0M651.7 316.9h0"/>
<path stroke="#00c85a" d="M584.4 323.9h0M517.8 368.6h0M581.5 343.5h0M539.2 370.8h0M551.1 369.1h0"/>
<path stroke="#36cf48" d="M651.7 319.5h0M585.2 340.4h0M589 325h0"/>
<path stroke="#81d900" d="M549.6 371.3h0M650.3 319.3h0"/>
<path stroke="#a0de00" d="M579.4 342.6h0"/>
<path stroke="#c0e000" d="M547.2 369.2h0M653.3 317.8h0"/>
<path stroke="#dce300" d="M572 342.3h0M577.2 340.7h0"/>
<path stroke="#f5e500" d="M572.3 341.5h0M584.7 342.5h0M580.8 341.4h0M580.3 341.5h0"/>
<path stroke="#4c005e" d="M669.9 242.8h0M639.8 304.1h0M593 359.7h0M524.4 208.7h0M577 331.9h0M648.6 294.1h0M603.4 204.1h0M556.4 446.8h0M661.7 310.3h0M673 310.4h0M651.1 316.2h0M692.7 389.1h0M589.8 300.1h0M675.1 241.2h0M454.8 174.5h0M656.4 240.7h0M683.6 316h0M530.4 180.8h0M647.1 247.8h0M674.6 242.5h0M427.9 162.5h0M548.5 248.5h0M563.9 201.1h0M540.9 432.3h0M620.3 286.3h0M724.3 246h0M437.7 163.4h0M548.9 382.7h0M583.2 296.5h0M598.5 305h0M511.3 324.5h0M662.8 242.8h0M577.4 308.6h0M633.7 247.8h0M560.8 200.3h0M640.5 312.1h0M635.4 316.2h0M599.1 314.1h0M675.5 240.4h0M681.8 240.5h0M688.1 315.6h0M618.1 306.9h0M628.7 442h0M641.4 307.8h0M609.6 446h0M687.2 426h0M589.5 315.4h0M658.9 306.8h0M493.2 368.1h0M504.5 214.6h0M653.6 441.7h0M454.7 169.2h0M692.9 314.8h0M429.1 162.2h0M659 409.1h0M614.5 203.4h0M489 211.7h0M603.1 449.9h0M639.7 444.8h0M653.8 250.7h0M629.5 245.7h0M624.6 221h0M719.1 244.5h0M656.3 269.9h0M442.7 167.4h0M594.2 306h0M718.6 243.5h0M625.4 314.8h0M681.1 418.3h0M465 174.6h0M523.5 215.1h0M595.3 323.3h0M521 223.8h0M647.3 247.7h0M462.7 174.8h0M636 301.9h0M686.1 407.3h0M673.8 240.6h0M563.9 248.3h0M487.2 167h0M507.8 179.4h0M551 327.4h0M565.3 382.6h0M461.9 170.6h0M663.3 318.1h0M694 240.8h0M564.5 205.3h0M647.3 439.9h0M666.9 312.4h0M546.8 430.5h0M628.6 315.2h0M495 334.3h0M632.3 302.2h0M727 246h0M542.7 197.2h0M433.7 162.4h0M597.2 301.5h0M537.1 234.8h0M653.6 316.2h0M481.6 169.2h0M468.3 172.1h0M512.1 333.6h0M626.4 308.2h0M571.1 326.4h0M558 431.4h0M497.3 188.7h0M578.4 308.7h0M583.4 318.1h0M508.1 330.6h0M687.6 280.6h0M507.3 329.5h0M594.9 204.5h0M470.9 173.8h0M433.7 159.8h0M576 329.5h0M542.3 292.5h0M566.2 445.6h0"/>
<path stroke="#4e106b" d="M546.2 183.8h0M608.9 440.4h0M537.8 183.2h0M523.3 185.8h0M661.5 400.6h0M701.3 242.5h0M540.8 228.3h0M429 159h0M669.9 406.1h0M542.5 327.8h0M503.8 182.7h0M531.7 187.6h0M505.5 178.1h0M599.7 286.7h0M636.2 226h0M435.7 164.6h0M545.1 187.6h0M583.2 329.9h0M460.3 172.4h0M629.2 301.1h0M580.1 188.6h0M445.7 167.4h0M467.3 171.4h0M633.7 439.1h0M503.9 349.4h0M543.4 305.6h0M642.7 439.4h0M669.6 285.8h0M552 237.8h0M580.6 397.5h0M551.6 198.2h0M580.5 446.9h0M534.3 192.5h0M699.1 283.9h0M629.7 313.4h0M481.7 176.7h0M490 178.6h0M594 313.9h0M492.1 189.9h0M592.2 296.1h0M612.4 269.3h0M523 432.7h0M658.7 313h0M646.6 424.4h0M563.7 186.7h0M631.4 390.5h0M617.9 302.9h0M602.3 436.9h0M620.8 444.2h0M621.1 223.2h0M577.8 184.2h0M652.8 269.1h0M555.1 203.1h0M693.8 243.6h0M591.2 360.5h0M659.6 287.5h0M479.2 185.8h0M573.6 247.6h0M583.7 203.1h0M625.1 398.9h0M570.7 298.9h0M601.2 337.7h0M582.2 382.3h0M599.4 338.9h0M447.6 167.8h0M663.5 301.9h0M488.9 175.8h0M579 305.3h0M457.6 170.3h0M528.4 208.1h0M480.2 173.8h0M667 316.6h0M521.8 184.4h0M655.1 306.9h0M519.3 232.9h0M600.9 248.4h0M519.9 430.9h0M573.2 248.4h0M541.2 200.6h0M646.2 403.5h0M705 287.3h0M657.4 282.1h0M655.1 284.4h0M681.8 297h0M637.2 304h0M587.1 331.8h0M520.6 379.2h0M718.4 243.8h0M577.2 323.1h0M570.6 201h0M657.1 411.4h0M691.5 240.4h0M513.8 380.1h0M613.1 418h0M655.9 279.2h0M603.1 304.3h0M610.5 245.1h0M722 246.3h0M566.2 243.8h0M537.9 200.6h0M617.5 270.8h0M656.5 285.2h0M676.1 314.8h0M631.1 301.7h0M565.8 429.8h0M544.5 233.8h0M486.9 186.1h0M646.6 317.9h0M626.7 308.9h0M646.7 235.6h0M716.6 244.4h0M545.2 309.7h0M549.7 185.5h0M574.4 380h0M623.1 310.4h0"/>
<path stroke="#4e1e75" d="M649.1 325.5h0M559.2 188.3h0M718.2 272.6h0M604.5 442.3h0M643.2 307.6h0M572.4 434.5h0M623.3 307h0M559.3 443.7h0M432.1 158.4h0M570.3 210h0M590.1 244.4h0M568 185.1h0M720.4 259.2h0M505.4 179.3h0M559.2 380.4h0M449.8 168.2h0M434 159.1h0M523.5 334.3h0M556.8 186.2h0M457.7 168.8h0M588.6 203.8h0M594.3 250.6h0M547.2 235.1h0M554.4 416.9h0M620.4 314.9h0M544.5 236.3h0M682.5 256.4h0M460.3 173.2h0M520.2 425.3h0M557.1 188.9h0M643.7 300.6h0M493.1 424.9h0M532 185.7h0M561.2 247.8h0M562.3 294.5h0M554.2 244.9h0M573.8 185.2h0M461.8 173.3h0M564 300.2h0M709.4 399.5h0M512.7 192.4h0M572.6 294.6h0M420.9 159.4h0M593 336h0M604.6 300.5h0M624.1 246.6h0M551.7 185.3h0M617.5 268.8h0M545.6 183.8h0M592.7 370h0M522 436h0M596 353.1h0M709 281.1h0M645.6 286.6h0M605.2 415.2h0M526.3 182.8h0M585.7 306.4h0M572.9 445.9h0M467.7 167.9h0M432.5 162.3h0M628.6 308.9h0M546 328.3h0M724.3 259.8h0M647.9 400.6h0M466.7 171.7h0M591.9 208.8h0M606.7 313.4h0M585.4 203.6h0M665.7 301.8h0M473.5 173.2h0M574.2 414.9h0M627.1 416.3h0M448.3 168.4h0M530.5 202.2h0M535.4 200.4h0M692.6 239.5h0M686.5 414.8h0M436.3 160.2h0M633 329.7h0M669.3 427.1h0M657.1 421.7h0M547.5 196h0M717.6 265.6h0M655.1 275.5h0M605.8 209.3h0M601.6 308.3h0M686.6 419.4h0M620.8 301.8h0M659.8 407.9h0M577.8 244.2h0M724.1 257.5h0M554.7 200.4h0M696.3 242.1h0M707 280.8h0M635.6 314.1h0M625.9 306.5h0M575.8 331.2h0M541.7 330.2h0M504.3 181h0M720.7 245.8h0M542.5 380.1h0M549.2 301.3h0M682.1 292.9h0M666.8 262.4h0M557.1 328.5h0M555.9 242.3h0M603.6 329.6h0M568.4 327.3h0M562.5 200.9h0M580.7 309.6h0M683.7 420.2h0M586.7 247.6h0M448.9 169.8h0M577.1 188.9h0M612.2 245.8h0M646.4 310.9h0M691.1 245.7h0M584.7 250.4h0M628.5 213.4h0M623.2 243.3h0M628.4 299.8h0M555.1 325.5h0M685.7 245.6h0M626.2 395.8h0M509.3 356.2h0"/>
<path stroke="#4b2c80" d="M514.5 191.9h0M524.1 337.2h0M664.2 392.6h0M520.8 353.8h0M589.8 244.7h0M671.8 305.2h0M585.5 205.9h0M544.2 232h0M566.3 187.3h0M689 270h0M569.8 322.7h0M633.1 269.3h0M485.1 177.3h0M596 375h0M650.1 412.3h0M723.1 250.7h0M555.5 325.1h0M581.7 247.7h0M655.8 324.1h0M623.9 432.6h0M486.6 178h0M621.1 245h0M515.4 192.5h0M658.9 246.5h0M523.1 210.9h0M593 234.2h0M517.5 183.8h0M552.7 236.8h0M612.7 385.8h0M569.2 327.7h0M676.9 418.8h0M594 375.3h0M654.6 283h0M674.5 247.4h0M603.9 288.6h0M553.2 188h0M622.2 314.7h0M675.1 297.5h0M657.9 248h0M577.9 295.1h0M571.4 415h0M592.6 439.5h0M642.9 415.5h0M619.7 425.7h0M681.6 246.1h0M655.3 259.7h0M667.1 382.4h0M651.3 305.3h0M664.5 431.6h0M560.4 330.8h0M509.2 181h0M575.7 381.1h0M517.2 329.6h0M648.4 310.4h0M499.4 372h0M584.4 233.6h0M662.2 252.4h0M565.5 380.8h0M553.4 237.4h0M652.7 324.2h0M668.2 256.9h0M629.2 329.4h0M720.5 258.1h0M693.3 305.8h0M535 204.1h0M601.5 223.4h0M524.1 191.5h0M597.1 212.5h0M626.6 315.3h0M593.3 208.3h0M558 243.1h0M541.7 194.3h0M645.3 236.7h0M658.1 249.7h0M561.1 435.3h0M715.2 268.9h0M683 244.5h0M517.8 192h0M607 301h0M522.7 332.7h0M696.2 245.8h0M692 289.7h0M581.8 203.8h0M513.1 350.7h0M620.3 304.6h0M517.1 192.7h0M537.1 224.9h0M581.3 250.8h0M615.2 214.2h0M665.6 260.8h0M695.7 248.3h0M640.2 270h0M590.2 359.6h0M693.1 288.3h0M573.9 204.6h0M710.9 246.1h0M541.5 194.9h0M636.8 268.7h0M475.6 163h0M499.6 219.8h0M673.5 286.4h0M658 297.9h0M587.7 204.1h0M618.5 397.5h0M695.9 305.9h0M565.3 237.7h0M492.3 176.9h0M562.4 328h0M592.4 226.9h0M529.1 185.6h0M556.3 326.8h0M548.4 197.2h0M570.5 244.3h0M566 418.6h0M591.3 355.6h0M538.6 195.1h0M576 380.1h0M563 382.7h0M629.1 286.2h0M601.5 241.8h0M676.5 246.8h0M587.3 297.4h0M484.9 176.6h0M694.7 244.5h0M562.4 236h0M722.1 249.5h0M589.8 435.8h0M683.8 245.5h0M696 314.2h0M665.8 284.9h0M624.9 328h0M563.4 201.1h0M598.3 349.5h0M639.2 419.8h0M596.6 354.2h0M541.9 230.1h0M598 213.5h0M539.9 183.2h0M568.4 243.8h0M658.6 270h0"/>
<path stroke="#463786" d="M661.5 306.6h0M549.1 185.6h0M558.7 206.9h0M575.5 420.8h0M559 202.3h0M655.9 276.3h0M668 305h0M580.4 205.3h0M667.7 248.7h0M660 425.3h0M683.9 304.5h0M710.9 274.6h0M547.1 230.6h0M577.7 333.4h0M698.9 276h0M649 307.8h0M692.2 386.2h0M507.1 362.9h0M624.9 328.4h0M584.6 206.8h0M503.9 373.7h0M594.8 230.1h0M551 327.9h0M634.7 312.4h0M679.2 279.1h0M522.4 217.7h0M527.9 194.1h0M487.9 356.7h0M693.4 277.2h0M551.8 378.6h0M472.2 164.6h0M570.9 229h0M699.5 247.8h0M702.6 283.9h0M666.3 294.8h0M524.4 356.2h0M537.8 186.4h0M613.6 216.8h0M562.2 199h0M545 204.5h0M619.9 301.2h0M630.1 270h0M684.9 309.9h0M652.4 307.3h0M657.3 290.1h0M626.9 270.5h0M678.4 261.4h0M573.1 203.7h0M673.5 321.4h0M705.8 250.2h0M543.9 349.7h0M696.2 284.6h0M665 249.6h0M578.5 231.1h0M571.7 208.8h0M619.7 239.2h0M703.6 285.5h0M608.3 446.6h0M512.6 355.3h0M564.3 244.5h0M583.1 378.2h0M612.6 315.1h0M662.4 308.3h0M563 230.5h0M566.5 379.2h0M576.9 379.5h0M551.7 201.6h0M524.8 192.9h0M653.9 274.3h0M564 209.2h0M716.8 267.9h0M707.3 284.4h0M645.6 310.9h0M707.5 274.5h0M509.2 181h0M591 208.2h0M675.8 255.4h0M625.5 336.5h0M668.8 286h0M654.7 275.3h0M596.7 338.6h0M542.4 193.9h0M629.9 314.9h0M601.6 212.5h0M592.8 296.5h0M541 329.8h0M627.9 315.9h0M609.4 241.7h0M713.1 274.5h0M659 287.6h0M547 194.8h0M668.6 285.1h0M643.8 438.5h0M498.2 180.1h0M643.7 237h0M431.9 157.9h0M687.6 248.1h0M555.8 327.8h0M705 267.5h0M668 303.9h0M603.9 242.1h0M556.6 206.1h0M548.3 331.8h0M554.5 185.6h0M674.9 261h0M585 358.8h0M559.4 379.5h0M603.6 302.8h0M689.2 315.3h0M638.1 291.2h0M561.9 379.6h0M590.1 376h0M562.6 329.1h0M594.4 370.8h0M529.6 338.5h0M684.9 280.3h0M595.6 372.5h0M591.4 244.3h0M638.3 310.3h0M696.5 313.5h0"/>
<path stroke="#41438c" d="M674.8 245.9h0M638 287.7h0M671.9 283.4h0M650.4 273.8h0M669.7 249h0M543.7 231.9h0M581.6 241.4h0M607.9 441.7h0M678.9 313.8h0M554.8 240.4h0M658.9 269h0M640.6 432.9h0M502.1 431h0M691.7 279.9h0M510.8 431.6h0M561.4 203.7h0M585.5 232.6h0M529.5 353.3h0M578.1 242.4h0M692 252.7h0M680.7 273.7h0M579.4 229.5h0M636.5 326.6h0M719.4 261.9h0M690.5 290.5h0M621 224h0M592.8 441.4h0M527.7 335.3h0M554 330.4h0M589.1 233.5h0M661 286.2h0M589.7 359.5h0M631.7 296.7h0M666.2 297.1h0M678.7 284h0M540.2 327.7h0M655.8 297.8h0M597.6 211.3h0M670.1 282.6h0M530.1 215.7h0M673.8 250.9h0M711.3 251.5h0M581.1 238.3h0M653.7 309.7h0M668.2 312.7h0M630.1 315.1h0M667.3 280.4h0M627.5 387.5h0M672.8 395.9h0M676.1 286.1h0M581.5 209h0M670.4 249.6h0M555.2 352.1h0M585.9 337.7h0M664.2 245.2h0M659.9 245.8h0M605.5 329.8h0M556.3 206.8h0M678.3 284h0M633.5 233.2h0M689.7 291.3h0M668.7 408.3h0M578.4 213h0M577.3 232.7h0M683.8 430.6h0M716.2 406.2h0M714.4 268.3h0M582 332.2h0M505.4 370.9h0M565.3 329.7h0M623.1 422h0M718.8 259.3h0M587.3 360.6h0M680.1 382.6h0M519.1 425.5h0M689.5 288.7h0M710.9 247.1h0M554.9 204.9h0M649.1 304.4h0M674.9 284.3h0M580.5 211.5h0M694.6 271.4h0M606.9 215.1h0M561.2 226.3h0M596.9 430.4h0M620.3 299.3h0M703.3 407.8h0M448.1 164.7h0M472.2 167.1h0M572.7 232.8h0M502.4 190h0M685.6 253.5h0M559.3 325.3h0M531.4 430.8h0M521.7 183.1h0M668.6 405.6h0M584.5 211.4h0M533.2 184.7h0M665.5 283.9h0M546.5 217.2h0M604.8 235h0M574.8 234.6h0M695.8 248.3h0M612.1 233.7h0M593 348.5h0M537.8 210.5h0M698.4 275.5h0M664.1 286.7h0M557.9 210.3h0M668.6 411.3h0M538.2 217h0M627.7 237h0M682.4 282.2h0M704.4 254.6h0M596.9 338.3h0M655.8 272.7h0M716 266.1h0M655 265.5h0M664.9 252.6h0M468.9 165.2h0M473.4 164.3h0M430.4 156.1h0M478.7 164.4h0M561.4 337.4h0M668.4 250.3h0M557.1 207.3h0M691.7 289.9h0M683 250.9h0M596.2 233.8h0M675.6 292.9h0M686 281.1h0M660.5 253.9h0M704.9 273h0M666.8 261.2h0M671.9 249.6h0M586 245.2h0M601.8 315.9h0M616.6 298.7h0M573.6 208.1h0M685.6 257.7h0M592.9 244.9h0M658.7 286.9h0M656.5 323.3h0M475.9 160.9h0M716.2 249.6h0M582.3 433.8h0M547.3 195.2h0M698.2 287.3h0M583.2 231.8h0M476.3 161.4h0M545.8 427.3h0M564.8 211.8h0M603.8 226.4h0M657.4 260.8h0M663.3 252.1h0M543.9 205h0M591.6 216.9h0M590.5 234.4h0"/>
<path stroke="#394e8e" d="M595.3 234.5h0M677.2 404h0M696.2 405.5h0M716.4 258.1h0M551.8 203.8h0M668.1 283.2h0M668.7 278.9h0M563.7 330.1h0M521.4 375.4h0M674.8 281.5h0M672.1 275.2h0M676.3 270.5h0M633 269.9h0M665.2 271.2h0M639.5 290h0M590.2 372.1h0M672 261h0M591.2 233.5h0M604.7 299.6h0M458.5 153.9h0M535.7 214.6h0M573.7 431.8h0M546.4 358.4h0M642.1 385.9h0M705.6 256.3h0M670.7 312.7h0M676.8 279.8h0M712.3 262.1h0M663.7 276h0M507.5 374.3h0M685.2 310.3h0M713.9 267.2h0M672 252.1h0M469.6 156.5h0M553.3 228.7h0M662.5 398.5h0M669.3 260.5h0M681.6 305.1h0M686.2 309.7h0M667.4 402.9h0M557.9 377.2h0M673.4 285.6h0M570.6 446.3h0M631.4 299.5h0M701.8 275.7h0M539.3 352.7h0M539.5 221.4h0M663 260.9h0M674.9 400.4h0M661.8 276.3h0M569.1 232.5h0M536.4 344.2h0M565 225.5h0M681.1 317.4h0M585.9 232.9h0M642.1 421h0M583.7 364.1h0M678.4 279.1h0M694 284.6h0M581.4 213.2h0M573.7 322h0M522.9 358.3h0M569.4 207.9h0M557.5 329.9h0M671.4 308.1h0M594.5 211.2h0M557 205.3h0M612.2 299.2h0M576.7 356.9h0M617.1 224.1h0M615.7 289h0M524.4 336.2h0M633.6 232.1h0M572.3 211.8h0M545.2 215.2h0M685.9 311.8h0M619.2 292.2h0M666.7 408.8h0M669.2 255.7h0M525.8 212.8h0M700 275.2h0M633.7 230.6h0M579.7 329.5h0M691.1 409.4h0M474.8 157.4h0M534.7 351.8h0M583.6 244.7h0M584.4 239.4h0M537 337.3h0M596.4 380.2h0M558.8 210.2h0M668 268.8h0M601 290.9h0M595.9 349.4h0M667 282.6h0M573.7 334.9h0M671 381.9h0M533.5 329.9h0M571.7 232.5h0M707.5 273.4h0M576.6 330.3h0M705.3 275.6h0M692.1 260.4h0M668.5 266.6h0M611.8 234.7h0M471.2 157.9h0M715 262.4h0M604.3 210.4h0M697.5 405.4h0M599 231.1h0M663.7 281.1h0M621.4 288.6h0M621 315.5h0M550.3 227.1h0M544.2 207.4h0M675.9 312h0M551.8 225.2h0M545.6 229.5h0M587.5 213.2h0M707.7 278.7h0M586 236.1h0M625.5 422.1h0M710.6 258.6h0M570.8 233.5h0M685.7 287.5h0M564.6 358.7h0M605.8 233.2h0M550.8 331.1h0M560.7 350.4h0M557.1 332.1h0M550.6 331.8h0M677.8 255.1h0M562 434.6h0M701.8 279.2h0M496.7 369.9h0M551.7 344.1h0M713.7 246.8h0M534.4 433.4h0M660.7 287.1h0M669.8 405.1h0M661.3 281.2h0M643.5 314.6h0M554.1 235.1h0M549.8 209.7h0M633.9 287.9h0M556.2 213.6h0M588.4 237.8h0M520.9 363.8h0M620.3 228.2h0M685 247.8h0M714.3 406h0M622.9 291.6h0M577.2 334.4h0M571.1 220h0M706.6 281.4h0M659.2 276.7h0M690.1 269.7h0M698.7 278.9h0M471.5 155.4h0M709.3 267.7h0M556.8 433.6h0M611.2 232.5h0M566 337.3h0M591.2 298.2h0M691.1 274h0M571.5 236.7h0"/>
<path stroke="#2f5890" d="M678.5 385.5h0M694.5 275h0M454.5 164.6h0M713.2 257.4h0M699 274.3h0M577.7 328.8h0M550.6 337.6h0M673.3 274.1h0M617.2 377h0M532.7 347.5h0M669.9 283h0M600.4 230.4h0M573.4 347.1h0M572.9 231.9h0M693.7 271.8h0M703.3 274.3h0M617.1 298.8h0M590.8 351.6h0M526 342.1h0M602.6 242.8h0M558.7 228.7h0M545.2 224.9h0M667.1 265.7h0M575.7 420.4h0M546.1 205.3h0M682.8 277.4h0M548.3 338.1h0M542.1 206.3h0M667.5 311.2h0M584 236.5h0M576.8 235.7h0M541.5 344.7h0M700.3 252.7h0M591.8 233.3h0M678 413.8h0M668.8 313.8h0M574.5 334.6h0M585.8 375.7h0M600.5 295.4h0M564.8 333.3h0M579.3 234.6h0M582.6 233.5h0M540.5 375.7h0M545.2 352.9h0M668.1 281h0M695.6 277h0M692.6 252.1h0M661.5 251.6h0M719.2 258.1h0M566 324.8h0M554.5 232.4h0M553 375.8h0M706.5 404.2h0M546.8 223.2h0M607.1 212.9h0M664 428.8h0M547.9 376.4h0M429.8 153.2h0M657.5 431.9h0M547.7 225.3h0M685.3 291.2h0M554.8 206.2h0M671.8 412.1h0M682.1 304.8h0M630.8 421.9h0M689.3 274.5h0M574.8 233.1h0M670.1 280.2h0M570.1 377.2h0M529.8 213.3h0M695.6 286.9h0M564.7 347h0M663.2 275.8h0M450.5 153.9h0M668.5 294.4h0M557.7 209.1h0M692.5 258.3h0M674.2 260.5h0M672 279.8h0M641.1 297.7h0M669.8 411.7h0M613 434.2h0M445.1 161.9h0M562.7 240.7h0M663.7 281.8h0M566.2 331.6h0M589.1 236.7h0M702.6 251.1h0M681.5 280.9h0M622.3 377.7h0M591.2 209.1h0M663.4 284.3h0M676.4 250.9h0M690.2 289h0M569.2 336.8h0M569.5 333.4h0M545.9 428.1h0M607.2 224.2h0M593 231.9h0M536 426.2h0M604.5 292.3h0M690.9 278.2h0M556 233.7h0M541.1 337.2h0M693.6 256.4h0M572.6 209.3h0M542.9 338.6h0M466.9 162.5h0M577.7 228.2h0M538.8 328.1h0M645.4 323.3h0M558.4 235.2h0M603.6 225.3h0M529.7 351.4h0M573.1 377.6h0M657 266.5h0M687.3 401h0M592.1 353.5h0M547.9 222.1h0M529.3 213.2h0M594 218.4h0M669.5 280.9h0M563.4 211.1h0M450.6 158.7h0M718.4 260.3h0M583.7 234.3h0M677.7 292.2h0M545.1 337.5h0M576.5 228.7h0M688.4 305h0M632.2 314.3h0M603.8 329.3h0M676 385.9h0M565.3 208.9h0"/>
<path stroke="#216291" d="M566.7 361.5h0M716.4 260.5h0M554.4 207.3h0M637.4 207.2h0M674 279.8h0M610.8 291.6h0M622 225.2h0M559.9 234h0M531.1 211.1h0M662.9 397.3h0M681.9 261.7h0M587 216.2h0M675 287.1h0M563.7 216.3h0M549.8 211.8h0M581.3 235.4h0M566.3 210h0M574.5 234.5h0M708.8 252.6h0M676.4 402h0M580.1 351.1h0M608.1 418.5h0M578.4 358.1h0M568.4 230h0M533.1 375.4h0M593.1 338.9h0M699.8 259.2h0M436.8 158.5h0M701.4 266.4h0M588.1 347.9h0M636.7 288.9h0M607.8 379.8h0M543.7 342.2h0M706.6 403.1h0M552 226.8h0M554.9 424.1h0M603.4 327.8h0M555.3 351.7h0M565.9 233.2h0M547.6 346.4h0M659.7 384.4h0M570.2 230h0M685.6 422.6h0M598.2 219.9h0M587.3 328.3h0M522.2 373h0M620.1 292h0M601.8 217.8h0M711.1 255.1h0M549.4 227.5h0M537.8 359.1h0M675 279h0M609.2 379.2h0M455.8 153.9h0M673 387.3h0M443.6 161.4h0M507.6 372.4h0M630 324.2h0M661.2 269.3h0M574.8 233.4h0M563.2 345.1h0M602.4 292.7h0M558.8 330.5h0M703.1 258.7h0M697.8 259.3h0M568.9 353.4h0M646.2 314.1h0M572.3 234.2h0M636.1 315.4h0M569 224.5h0M708.9 253.1h0M715.3 261.6h0M571.7 353.3h0M548.3 333.1h0M535.4 356.5h0M635.2 324.5h0M703.8 258.7h0M621.2 315.9h0M692.2 260h0M575 356.6h0M670.6 297.2h0M568.9 425.8h0M464.3 159.3h0M542.8 345.5h0M562 235.3h0M607.7 227.9h0M681.8 271.6h0M446.1 159.9h0M474.6 163.6h0M534 211.8h0M531.6 362.9h0M534.3 351.8h0M632.2 225.6h0M668.7 274.8h0M575 230.5h0M577.8 218.9h0M586.3 351.9h0M562.8 377.2h0M459.3 165.4h0M571.2 232.7h0M587.8 228.1h0M551.8 220.5h0M670.9 278.3h0M600.1 430.4h0M568.9 356.1h0M573.5 326.3h0M677.2 260h0M729.8 404.5h0M613.3 293h0M581.2 353.5h0M569.2 238.4h0M689.6 289.1h0M599.3 240.4h0M550.9 353.2h0M510.3 363.5h0M633.9 289.1h0M695.3 281.8h0M552.5 337.4h0M610.5 429.9h0M566.2 233.2h0M733.5 407.1h0M594.7 339.2h0M652.7 385.5h0M673.4 292.8h0M691.8 311h0M517.4 375h0M702.1 277.7h0M580.7 220.1h0M678.9 269h0M580.1 232.5h0M551.4 359.4h0M565.3 353.7h0M565.2 350.2h0M681.5 388h0M678.8 284.6h0M557.5 212.6h0M656 296.5h0M707.1 267.9h0M709.4 262.3h0M679.4 272.9h0M550.9 215.4h0M635.8 292.3h0M562.8 215.7h0M586.2 210.3h0M585 354.4h0M580.7 360.4h0"/>
<path stroke="#0e6b90" d="M550.8 353.8h0M512.3 363.3h0M554.9 231.5h0M563.4 350.8h0M582.3 210.5h0M570.8 349.6h0M573.4 354h0M673.5 264.2h0M615.5 295.5h0M566.7 327.4h0M582 239.4h0M567.7 219.8h0M564.8 230.9h0M673.3 271.2h0M687.6 311.3h0M603.4 328.1h0M430.9 150.7h0M598 226.5h0M680.9 313.1h0M606 296.3h0M530 336.5h0M571.6 221.4h0M629.4 380.8h0M666.5 295.7h0M585.7 346.4h0M607.3 218h0M601 229.4h0M456.4 159.9h0M593.7 297.3h0M537 212.1h0M566.5 222.1h0M707.4 268.6h0M537.5 361.3h0M564.4 215.6h0M647.8 381.2h0M667.7 319.4h0M573.1 376.1h0M663.5 267.7h0M634.5 381.6h0M530.9 373.6h0M658.3 408.4h0M569 348.9h0M583.6 355.4h0M704.7 258.4h0M531.3 208.1h0M544.5 356.9h0M686.2 389h0M660.3 291.1h0M698.4 257.3h0M538.7 359.2h0M590.9 297.1h0M561.1 376.7h0M527.2 361.4h0M616.7 382.7h0M584.7 441.1h0M554.8 347.4h0M555.8 352.7h0M613 326.3h0M565.1 350.8h0M603.2 319.3h0M716.8 260h0M666.2 387.3h0M666.3 314.8h0M533.5 211h0M581.3 426h0M672.9 317.7h0M688.8 286.3h0M673.3 270h0M690.5 386.6h0M577.4 354.3h0M663.1 290.1h0M625.8 326.2h0M576.1 222.1h0M680.3 291.1h0M668.4 315.6h0M569.4 338.7h0M688.7 311.6h0M591.4 320.6h0M562.6 340.2h0M678.9 271h0M565 217.5h0M570 208.5h0M466.6 157.1h0M555.2 376.5h0M462.4 158.5h0M449.1 160.7h0M596.8 298.4h0M539.8 208.6h0M514.6 362.9h0M688.8 289.8h0M621 235.5h0M534.6 426.8h0M559.5 226.9h0M563.2 350.7h0M650.8 383.3h0M575.9 218.4h0M654.9 384.4h0M496.8 425.4h0M656.5 287.8h0M584.4 355.6h0M510.1 362.2h0M580.8 237.3h0M688.2 272.1h0"/>
<path stroke="#007491" d="M560.9 343.9h0M664.8 319.6h0M577.5 367h0M610.3 227.4h0M457.4 155.1h0M670.3 286.5h0M553.3 349.7h0M544.1 360.4h0M576.2 338.8h0M568.8 327.9h0M589.4 344.3h0M568.4 222.3h0M652.3 289.3h0M581.4 362.2h0M579.1 328.2h0M605.5 326.2h0M605.9 438.3h0M650.1 385.3h0M567.6 209.7h0M702.4 266.7h0M617.7 381.6h0M688.4 314.6h0M435.2 151.2h0M588.6 224.9h0M548.7 343.9h0M575.4 222h0M446.2 154.1h0M439.8 159.1h0M695.7 259h0M537 215h0M695.5 266.4h0M585.8 373h0M594.2 326.1h0M695.7 260.9h0M519.3 427.6h0M539.9 375.2h0M580.6 344.9h0M561.6 352.8h0M557.3 356.4h0M450.6 154.8h0M622.2 383.7h0M682.9 268.4h0M637.1 294.2h0M571.4 352.6h0M639.7 383.4h0M675 288.7h0M524.1 369.2h0M532.9 214.3h0M580.3 345.8h0M446.2 160h0M538.4 375h0M604 294.1h0M534.7 337.7h0M614.8 324.5h0M627.6 228.5h0M555 221.3h0M564.2 221.9h0M637.8 288.8h0M669.2 309.1h0M562.3 351.9h0M570.9 351.9h0M444.1 154.1h0M588.3 340h0M589 373.9h0M560 376.9h0M569.7 223.6h0M606 380.4h0M576.1 364.8h0M535.9 362.1h0M564.3 238h0M539 209.2h0M651.5 296.5h0M694.6 312.8h0M680.9 287.5h0M548.1 215.5h0M449.8 159.6h0M613 326.5h0M556.8 351.4h0M545.5 375.5h0M570.9 235.2h0M568.8 338.4h0M572.7 326.9h0M544.4 336.6h0M624.5 296h0M552.6 212.2h0M645.8 289.2h0M686.3 406.1h0M693.4 384.4h0M563.3 359.1h0M690.6 289h0M714.1 260.3h0M670.3 406.7h0M451.6 152.9h0M442.4 153.3h0M673.2 386h0M596.8 230.7h0M452 158h0M538.2 361.3h0M553.7 208.6h0M551.1 224.2h0M550 224.3h0M577.4 346h0"/>
<path stroke="#007d90" d="M509.8 363.5h0M682.8 263.2h0M708 259h0M560 354.3h0M517.2 374.4h0M673.7 270.2h0M535 214.2h0M421.9 153.2h0M685.6 266.9h0M692.8 265.9h0M653.1 289.6h0M573.6 365.8h0M686.4 287.2h0M688.2 388.1h0M704.1 264h0M612.4 380.1h0M582.2 364.7h0M430 143.5h0M588.4 222.1h0M646.4 382.1h0M541 213.9h0M430 143.9h0M637.1 316.2h0M540.1 359.8h0M543.1 337.2h0M610.1 381.4h0M635.5 383h0M570.9 338.4h0M531.7 211.1h0M570.4 354h0M447.5 151.6h0M578.4 346.1h0M573.2 355.1h0M548.3 376.3h0M576.2 345.6h0M539.5 356.9h0M446.6 154h0M656.4 292.7h0M560.7 439.8h0M595.2 320.4h0M648.2 291.9h0M558.1 425.2h0M705.4 258.8h0M434.2 143h0M636.5 316.6h0M438.2 150.4h0M635.6 381.1h0M524.7 364h0M435.4 140.4h0M434.1 154.5h0M445.7 157.2h0M652.1 293.6h0M555.1 349.5h0M572.1 218.6h0M436.9 151.3h0M561.4 217.4h0M575.3 346.2h0M706 421h0M640.2 381.5h0M680.5 267.3h0M445.7 156.3h0M443.6 150.6h0M693.4 261.9h0M583.2 351.7h0M590.7 221h0M673.7 317.5h0"/>
<path stroke="#008690" d="M629.8 290.9h0M634.2 383.2h0M433.9 142.2h0M629.4 382.8h0M438.7 151.2h0M425.7 149.8h0M440.5 153.8h0M431.1 150.3h0M428 147.5h0M429.7 148.5h0M542.3 349.6h0M594.2 377.7h0M598 298.8h0M428.5 148.5h0M558.7 223.1h0M634.9 382.8h0M678 292.4h0M428.1 145.5h0M430.1 150.1h0M659.1 385.2h0M559.4 328.4h0M519.4 362.8h0M524.8 361.1h0M535.3 362.6h0M537.7 350.7h0M517.4 362.8h0M555.3 364.4h0M432.5 142.5h0M533.7 363.5h0M447.6 153.4h0M694.6 387.8h0M529.3 362.1h0M657.4 291.4h0M595 379.6h0M644.4 381.9h0M443.2 154.8h0M654.3 423.6h0M543.3 216h0M422.2 148h0M430.7 146.3h0M547.6 363.8h0M533.2 373.9h0M578.5 338.6h0M561.7 374.4h0M569.4 342.9h0M427.8 149.2h0M432 148.4h0M602.7 320.9h0M581.2 366.6h0M537.8 215.4h0M660.5 293.4h0M445.9 156.3h0M431.9 145.6h0M695.6 390.2h0M430.2 142h0M602.4 320.9h0M657.9 291.8h0M615.4 380.7h0M449.8 156.4h0M682.7 291.8h0M443.6 158h0M430.6 144.6h0M433.7 150.1h0M425.6 153.1h0M616.5 318.7h0M613.1 296.4h0M421.4 149.4h0M660.7 314.7h0M692 265.6h0M525.6 362.4h0M650 386.1h0M651.2 385.6h0M590.5 339.3h0"/>
<path stroke="#00908e" d="M610.4 379.2h0M533.8 370.6h0M511.9 367.9h0M581.6 338.3h0M656 316h0M507.9 368h0M595.8 296.1h0M539.4 373.9h0M577.2 373.8h0M676.3 268.7h0M658.1 321h0M625.9 324h0M685.1 291.3h0M634.4 383.1h0M691.7 263.6h0M639 382.9h0M590.7 341h0M542.8 373.9h0M437.9 152.8h0M552.4 221.3h0M682.9 266.8h0M565.4 335.6h0M655.4 289.2h0M696.4 263h0M610.6 379.6h0M512.6 370.7h0M637.4 316.3h0M680.5 292.3h0M579 374.2h0M497.8 432.8h0M545.8 366.7h0M578.7 366.4h0M561.7 346.2h0M555.9 222.6h0M554.8 373.5h0M608.3 379.9h0M574.9 221.8h0M647.1 315.9h0"/>
<path stroke="#00988b" d="M576.9 373.2h0M583.4 343.7h0M545.6 363.1h0M599.8 321.8h0M550.9 366.2h0M533.3 374h0M631 317.4h0M520.1 368.1h0M555.7 342.5h0M687.7 264h0M540.3 363.2h0M551.1 370.2h0M589.6 320.8h0M681.5 266h0M551.8 343.7h0M546 373.4h0M674 273.4h0M661.9 385.9h0M620.3 324.1h0M510.3 368.1h0M617 324.2h0M525.9 365.5h0M589.9 339.8h0M586.7 342.7h0M716 412h0M571.9 339.1h0M635.4 322.3h0"/>
<path stroke="#00a188" d="M512.8 369.4h0M701.2 261.6h0M595.1 377.9h0M699.2 264.3h0M514.3 365.8h0M613.9 379.1h0M542.8 364.8h0M677.8 268.1h0M513 368.3h0M670.1 292.2h0M664.7 385.2h0M518.8 371.3h0M594.4 325h0M555.9 365.7h0M662.8 319.5h0M561.3 370.1h0M543.8 367h0M644.2 384.4h0M636.6 382.7h0M546.9 364.9h0M653.1 315.4h0M618.3 319.6h0M560.1 340.1h0M521 362.9h0M650.1 316.3h0M705.2 260.7h0M560.4 342.5h0"/>
<path stroke="#00a983" d="M643.4 383.5h0M570.1 373.5h0M544.4 369.9h0M560.2 340h0M592.4 378.5h0M576.4 366.5h0M645.6 382.7h0M564.9 374h0M591.4 323.1h0M586.1 325.4h0M658.4 315.6h0M611.5 323.9h0M601.5 324.5h0M536.7 367.8h0"/>
<path stroke="#00b17c" d="M633.5 322.5h0M579.3 372.3h0M577.3 344.3h0M509.9 367h0M580.5 366.3h0M570.6 364.9h0M572.9 344.1h0M519.6 369.4h0M586.3 326.4h0M561.9 369.2h0M657.6 293.3h0M599.3 324.9h0M551.3 373.6h0M595.3 324.3h0M645.1 320.6h0M560 373.8h0M518 367.4h0M562 372.2h0"/>
<path stroke="#00b973" d="M586.2 324.4h0M540.7 364.7h0M584.2 324.9h0M540.7 366.3h0M542 370.6h0M554.7 372h0M566.8 342.2h0M527.7 366.1h0M581.7 343h0M561.6 372.8h0M599.5 324.7h0"/>
<path stroke="#00c168" d="M633.3 319h0M588.1 341.2h0M550.1 374.3h0M658.3 317.5h0"/>
<path stroke="#00c85a" d="M590.7 322.4h0M539.7 369.9h0M655 318.9h0M566.1 369.6h0M650.7 317.3h0M578.6 343h0M625.5 323.5h0M561.5 341.9h0"/>
<path stroke="#36cf48" d="M546.9 369.2h0"/>
<path stroke="#5fd52f" d="M644.4 318.1h0M548.4 371.3h0M517.8 368h0"/>
<path stroke="#81d900" d="M646.8 318.5h0"/>
<path stroke="#c0e000" d="M574.2 340.5h0"/>
<path stroke="#f5e500" d="M582.3 342.1h0M579.7 341.5h0M577.3 342h0M577 340.7h0"/>
<path stroke="#4c005e" d="M530.1 182.2h0M543.6 448.8h0M627.9 320.1h0M587.2 319.3h0M576.3 320.8h0M630.4 421.2h0M649.2 317.7h0M665.7 311.7h0M659 299.4h0M603.3 245.7h0M424.2 157.6h0M461.2 172.2h0M520.7 205.3h0M520.1 210.4h0M442.1 166.7h0M539.4 447.6h0M462.1 168.7h0M557.4 244.7h0M552.5 438h0M553.8 198.7h0M638.6 319.4h0M592 299h0M502.9 336.4h0M584.8 415h0M719 267.5h0M679.5 241.6h0M661 436.5h0M710.4 286.2h0M687.3 402.8h0M603 246.9h0M546.3 237.4h0M440.1 168.3h0M481.6 185.4h0M626.5 329.5h0M642.5 308.3h0M593.2 360.1h0M685.2 309.3h0M478.3 185.9h0M502.8 179.1h0M597.3 314.8h0M602.2 438h0M545.8 189.5h0M575.3 445.9h0M662.4 433.1h0M601.6 412.7h0M722.1 249.7h0M586.6 204.4h0M633.5 345.6h0M581 305.1h0M671.4 243h0M420.8 158.4h0M438.4 166.2h0M536.9 193.8h0M655.2 279.9h0M675.9 243h0M413.4 157.6h0M541 382.6h0M492.7 361.1h0M654.2 299.2h0M723.3 244.6h0M502.5 349.2h0M671.1 318.1h0M706 239.2h0M590.9 244.3h0M586.5 249.2h0M680.7 317h0M540.5 187.4h0M675.5 318.5h0M718.2 242.6h0M518.4 186.2h0M486.7 185.8h0M706.3 398.3h0M670.4 242.2h0M464 174.6h0M666 426.8h0M551 306.9h0M625.9 310h0M664.6 283.1h0M666.2 406.7h0M698.7 305.2h0M668.2 306.7h0M474.3 178.2h0M660.1 315.8h0M454.5 166.3h0M613.8 247.2h0M504.2 376.6h0M673.2 407h0M427.1 159.3h0M568.1 298.6h0M523.2 208.7h0M721.4 242.1h0M711.7 276.1h0M645.4 415.3h0"/>
<path stroke="#4e106b" d="M466 172.8h0M595.9 426.3h0M584.5 327h0M647.5 405.2h0M492.4 175.8h0M573.8 187.9h0M565.7 243.4h0M629.4 201.8h0M462.2 173.7h0M598 306.2h0M578.3 329.4h0M566.2 244.9h0M579.3 201.9h0M473.3 168.5h0M440.2 165.1h0M570.7 380.9h0M668.7 295.7h0M544.9 234.8h0M703.2 285.9h0M427.6 159h0M692.4 293.7h0M622 306.4h0M665.8 307h0M630.4 448.8h0M636 299.6h0M579.7 386.1h0M460 170h0M577.7 189.3h0M562.9 434.3h0M641.2 405.3h0M516.3 190.5h0M428.4 160.9h0M538.4 437.4h0M609.2 395.6h0M653.8 390.5h0M685.4 243.9h0M664.8 298.2h0M627 433.9h0M620.2 297.5h0M597.1 207h0M436.6 164.8h0M632.5 443.1h0M568.4 201.6h0M713 247.6h0M542.8 294h0M666.6 300h0M640.9 314.7h0M474.6 175h0M575.9 310.7h0M690.1 243.2h0M620.7 307.3h0M556.9 434.2h0M567.9 187.3h0M659.1 304.4h0M521.3 215.6h0M603.8 247.2h0M644.5 310.4h0M724.5 256.6h0M690.4 308.4h0M643.9 305.8h0M448.4 166.3h0M519 213.8h0M589.2 317h0M632.8 301h0M631.6 328.7h0M512.3 335.5h0M652.5 276.5h0M451.4 170.3h0M439.7 166.5h0M628.1 306.6h0M602.8 244.1h0M544.9 293h0M710.2 305.6h0M468.4 171.8h0M593.5 364.7h0M653.8 304.7h0M436.2 164.7h0M448.5 167.3h0M508.7 177.5h0M444.4 166.3h0M488.9 174.3h0M438.5 164.5h0M612.2 300.3h0M685.8 243.9h0M661.7 301.2h0M627 240h0M548.1 196.9h0M700.8 242.3h0M610.4 247.7h0M575 189.8h0M615.9 303h0M556.6 385.1h0M664.3 283.5h0M657.7 246.4h0M530.5 184.1h0M529.4 428.7h0M665 243.7h0M650.8 317.1h0M564.5 293.2h0M630.9 301h0M594.8 334.1h0M697.4 241.4h0M701.4 289.7h0M590.4 364.9h0M439.5 165.3h0M481.4 165h0M694.3 289.1h0M573.3 446.5h0M509.9 376.1h0M470.1 176h0M428.7 161.2h0M591.2 375.4h0M546.9 202.7h0M590.3 364h0M683.4 402.5h0M657.2 306.8h0M632.8 441.9h0M575.4 189.4h0M533 181.1h0M644.1 228.3h0"/>
<path stroke="#4e1e75" d="M642.7 318.3h0M513.2 178.3h0M587.2 448.4h0M698.8 285h0M563.4 187h0M654.2 304h0M568.8 241.5h0M588.1 302.1h0M446.9 168.3h0M600.2 331.9h0M542.7 205.4h0M682.7 302.7h0M546.3 184.3h0M632.9 314.5h0M492 379.7h0M567.1 190.7h0M528.3 206.1h0M638.9 300.3h0M479.7 165.2h0M448.4 168.9h0M557.8 243.8h0M679.6 297.5h0M550.2 241.9h0M494.2 188.7h0M585.4 302.4h0M596.4 245.5h0M719.6 266h0M552.1 231.1h0M665 246.4h0M665.5 309.7h0M646.4 309.9h0M609 240.2h0M558.2 200.8h0M506.8 333.7h0M554.5 206.8h0M715.4 273.8h0M599.4 242.7h0M612 210.4h0M625.5 302.5h0M507.8 179.6h0M677 294.8h0M587.5 317.3h0M430.2 162.8h0M508.6 192.6h0M635.8 309.7h0M570.7 441.3h0M680.5 415.2h0M550.7 187.9h0M680.7 417.1h0M562 200.4h0M591.3 299h0M596.1 338.2h0M603 438.1h0M710.2 277.8h0M574.1 434.4h0M698.3 286.1h0M535.6 204.1h0M558.5 383h0M463.9 170.8h0M604 312.9h0M540.4 182h0M695 318.4h0M655.6 247.4h0M440.5 163.6h0M567.9 204.8h0M668.9 245.2h0M654.4 304h0M618 313.2h0M503.6 179.5h0M704.4 276.2h0M692.6 244.5h0M586.1 313.6h0M675.4 314.4h0M446.4 169h0M586.2 243.9h0M642.7 313.9h0M546.4 293.2h0M466 174.4h0M503 354.8h0M555.2 240.7h0M572.1 432.8h0M623.8 248.1h0M665.9 286.9h0M569.2 426.6h0M537 205.3h0M455.3 169.1h0M719.3 268h0M546.2 230.8h0M571.1 333h0M654.9 271.9h0M538.9 200.3h0M506.8 181.3h0M573.7 202.1h0M677.1 284.8h0M718 261.5h0M544.6 230.4h0M464.9 171.1h0M686.3 421.2h0M646.6 312.6h0M482.3 174.6h0M557.1 235.4h0M622.9 246.2h0M671.5 244h0M591 204.2h0M589.5 243.2h0M605.2 309.7h0M641.7 304h0M655.2 280.2h0M640.1 239.4h0M595.6 388.6h0M614.7 314.7h0M701.2 310.8h0M587.7 363.2h0M501.2 192.4h0M660.5 246.1h0M580.5 184.9h0M549.8 200.8h0M655.1 296.2h0M714 243.8h0M518.4 379.4h0M425.8 159.3h0M709 282h0M623.5 307.1h0M452.9 171.5h0M587.4 247.5h0M574 187.3h0M553.6 240.7h0M580.2 187.5h0M671.3 321.7h0M496.1 372h0"/>
<path stroke="#4b2c80" d="M590.3 357.7h0M523.7 209.7h0M486 175.8h0M660.1 249.9h0M561.5 437.4h0M706.2 281.6h0M539.7 331.9h0M672.5 427.9h0M723.9 253.4h0M521.1 214.6h0M460.1 167.5h0M713.2 244.7h0M574.8 211.4h0M688.3 247.3h0M662 244.4h0M531.5 194.6h0M662.2 424.8h0M656.2 266.7h0M607.3 209.6h0M548.1 294.6h0M619.8 302.5h0M599.1 422.7h0M703.4 306.2h0M540.5 206h0M462.4 168.5h0M687.1 310.3h0M708 280.5h0M471 168.9h0M580.2 187.3h0M582.5 380h0M715.9 403.7h0M669.5 280h0M575.1 438.3h0M596.3 246.8h0M581 304.6h0M567 328.4h0M693.5 248.2h0M620.1 300.8h0M598.6 211.7h0M514.8 346.1h0M615.5 304.8h0M424.6 159.2h0M666.2 321.1h0M511.1 347.9h0M639.2 313.1h0M569.6 428.4h0M516.2 183.5h0M562.7 203.4h0M613.1 391.9h0M584.9 308.6h0M670.4 309.7h0M649.2 305.6h0M535.6 204.6h0M531.8 330.7h0M558.3 185.2h0M555.7 241.1h0M512.4 183.2h0M668.1 321.4h0M514.4 180.1h0M604.8 422.7h0M657.4 252.2h0M681.2 313.9h0M573.3 233.3h0M669.1 439.5h0M548.6 184.9h0M635.7 438.3h0M530.1 204.7h0M709.7 282.3h0M534.8 224.7h0M655.7 252.8h0M518.2 425.6h0M660.4 280.9h0M568.8 439.6h0M620.5 308.5h0M630.8 238.8h0M490.5 176.2h0M489.3 363h0M660.3 251.9h0M664.9 308.5h0M684.1 292.4h0M606.4 231.9h0M591.5 334.9h0M677.6 421.7h0M564.2 379.6h0M587.6 295.1h0M514.3 212.6h0M571.5 437.6h0M484.2 176.8h0M584.2 331.8h0M530.2 225.1h0M491.9 179.1h0M532.9 184.9h0M502 224.3h0M531.2 378.7h0M690.1 291.9h0M633.5 328.6h0M529.7 183.4h0M718.7 250.6h0M651.4 275.2h0M544.8 381.6h0M564.4 242.3h0M544.8 205.8h0M672 247.6h0M644.1 405.4h0M548.1 241.7h0M598.1 348.7h0M657.2 284.8h0M543.8 232.7h0M593.7 298.9h0M557.7 211h0M589.8 243.7h0M540.1 424.1h0M560 187.8h0M596 395.2h0M549.7 205.7h0M565.6 207.7h0M670.6 427.7h0M552.3 206.3h0M660.3 288.2h0M668.4 301.6h0"/>
<path stroke="#463786" d="M700 282h0M519.6 351.7h0M589.2 229.3h0M627.7 312h0M435.1 159.6h0M556.7 246.8h0M677.3 421.6h0M520.2 184.2h0M683.6 411.8h0M667.1 261.1h0M523.1 343.4h0M546.7 226.3h0M591.6 231.1h0M677.3 286h0M677.2 254.6h0M557.5 243.3h0M520.5 349h0M560.6 236.7h0M613.2 306.1h0M602.1 415.1h0M632 238.7h0M663 286.5h0M533.3 378.9h0M688.9 246.1h0M596.6 289.9h0M663.7 259.8h0M609.1 299.8h0M657.1 263.1h0M599.3 433.5h0M714.4 410.3h0M703.7 283h0M696.9 271.2h0M682.1 280.9h0M580.3 212.2h0M659 247.8h0M601.3 328.3h0M716.5 265h0M682.8 426.9h0M551 234.1h0M549.5 237h0M516.6 181.2h0M548.9 231.8h0M530 352.2h0M476.2 164.9h0M575.1 232.8h0M569.3 187.2h0M659.5 285.8h0M633.3 328.3h0M546.9 185.7h0M588.8 439.7h0M538.2 194h0M698.4 307.7h0M575.2 203.6h0M505.8 363.6h0M716.8 246.4h0M648.2 304.9h0M670.9 312.2h0M650.3 310.2h0M547.9 230.4h0M668.6 307.5h0M718.5 255.8h0M619.6 315.7h0M548 236h0M698.8 280.6h0M590.2 439.4h0M624.4 436.4h0M678.9 257.8h0M517.2 345.4h0M659.5 253.7h0M656.8 282.4h0M682.4 430.7h0M554.8 235h0M560 187.8h0M583.3 242.1h0M572.3 207.5h0M533.1 346.4h0M520.3 336.4h0M673.1 283h0M641.3 224.8h0M716.9 258.5h0M473.6 166.6h0M600.2 211.6h0M682 421.8h0M525.7 214.8h0M673.4 261.6h0M543.4 380.3h0M648.4 311.3h0M510.2 180.4h0M681.1 426.9h0M525.5 216.9h0M595.6 382.3h0M618.1 386.9h0M526.6 201.9h0M536 185.3h0M530.7 332.5h0M652.8 272.8h0M571.7 244.3h0M595.1 410.2h0M684.2 417.3h0M693.7 279.3h0M669.7 284h0M548.9 328.4h0M617.8 434.6h0M604.5 437.6h0M587.9 306.6h0M683.9 390.7h0M696.6 287h0M715.4 272.2h0M686.2 382.9h0M673.7 412.9h0M713.8 408.3h0M520.2 355h0M514.5 183.4h0M564.9 236.9h0M643.1 272.9h0M534.7 351.3h0M574.8 355.8h0M594.8 210.9h0M586.2 205h0M672.3 252h0M677.5 275.9h0M600.8 305.5h0M707.1 249.1h0M591.2 356h0M539.4 200.6h0M475.9 165.2h0M522 351.6h0M498 363.4h0M535.8 194.8h0M603.9 383.4h0M479.4 164.3h0M605.4 443.4h0M550.2 185.7h0M565.2 378.9h0M608.5 214.5h0M564.6 330.9h0M553.3 331.3h0M546.3 194.6h0M555.6 239.6h0M675 390.2h0M568.4 207.9h0M592 338.8h0M697.6 302.8h0M703.8 282.8h0"/>
<path stroke="#41438c" d="M459.3 167.8h0M533.1 341.2h0M703.2 411.3h0M638.1 235.1h0M628.4 376.8h0M716.1 245h0M558.9 424h0M594.4 234.2h0M608.9 382h0M560.3 205h0M704.6 278.2h0M434.4 157.6h0M635.7 422.5h0M530.9 343.2h0M659 254.6h0M579.5 206.2h0M625.1 227.2h0M556.1 326.1h0M677.2 385h0M666.6 264.8h0M576.7 430.7h0M719.4 250.3h0M629.9 315.7h0M663 276.3h0M537.1 226.3h0M557.5 330.7h0M658.1 323.3h0M584.1 215.7h0M701.7 247.4h0M678 256.1h0M631 440.8h0M705.4 409.8h0M671.9 249.4h0M536 330.6h0M548.7 377.6h0M662.1 257.9h0M696 284.3h0M672 286.9h0M682.2 285.2h0M520.2 359.7h0M689.7 277.5h0M679.8 255.9h0M561.6 229.7h0M589.3 355.2h0M506.5 372.3h0M593.8 425.4h0M679 294h0M595.3 357.1h0M675.4 311.6h0M559.8 206.6h0M678.6 310.2h0M531.6 331h0M681 319h0M567 209.3h0M683.7 310.3h0M557.9 205.5h0M635.7 270.2h0M658.6 267.1h0M618.7 298.9h0M682.8 252.6h0M524.1 183.7h0M668.1 271.2h0M666.1 409.4h0M590 234.6h0M612.5 312.1h0M708.6 248.1h0M602.5 214.9h0M630.8 315.5h0M584.1 229.8h0M622.2 236.8h0M599.2 330.4h0M671.1 283.5h0M593.6 229.4h0M676.6 419.5h0M553.1 232.7h0M555.6 208.9h0M535 379h0M523.2 350h0M613.6 210.5h0M666.8 284.3h0M545 378.7h0M526.1 207.3h0M690.8 281.9h0M557.9 323.9h0M552 330.4h0M674.2 391.8h0M701.7 255.2h0M690 246.2h0M512.9 352.5h0M517.5 192.1h0M557.6 243.6h0M571.7 431.5h0M612.6 298.4h0M539.4 433.8h0M529.8 184h0M533.8 207.7h0M534.1 354.6h0M577.2 239.1h0M659.4 252.9h0M699.5 404.1h0M650.9 324.7h0M503.3 180.2h0M644.8 413.7h0M544.3 344.2h0M655.9 435.6h0M689.3 254.7h0M696.8 399.4h0M473.7 163.2h0M566 354.9h0M572.2 217.4h0M528.7 214h0M537 343.7h0M563.1 234.6h0M588 372.7h0M556.8 444h0M704 251.5h0M665.8 275.4h0M571.7 351.6h0M624.9 314.5h0M547.6 206.2h0M717.3 262.3h0M592.8 430.9h0M618.2 232h0M591.5 235.7h0M519.4 192.6h0M659 279h0M472 156.9h0M666 285.1h0M703.7 266.7h0M660.1 262.7h0M514.8 339.2h0M545.8 330.3h0M682.7 255.8h0M527.4 355.6h0M549.1 186.1h0M588 357.6h0M676.5 318.8h0M548.5 428.2h0M692.1 289.5h0M477.4 161.5h0M670.9 304.6h0M691.1 279h0M663.9 288.2h0M592.9 218.6h0M692.5 257h0M673.7 251.4h0M578.5 219.8h0M714.9 408.6h0M662 267.3h0M525.6 344.4h0M558.7 210h0M590.1 358.2h0M517.1 212.7h0M661.5 262.6h0M647.5 324.9h0M619.7 293h0"/>
<path stroke="#394e8e" d="M663.3 398h0M514.2 374.6h0M539.8 332h0M558.5 233.4h0M699.2 254.2h0M547.8 329.6h0M714 262.2h0M653.4 297.2h0M560.9 207h0M667.4 256.2h0M579.8 227.5h0M587.1 238.8h0M605.8 218.8h0M513 372h0M656.8 419.9h0M584.4 229.1h0M654.5 305.1h0M703.8 251.5h0M545 212.3h0M579.2 425.7h0M673.5 412.9h0M633.4 433.7h0M594.4 372.8h0M560.7 331.6h0M553 218.8h0M549.8 207.5h0M599.3 234h0M523.6 183.6h0M674.7 383.5h0M597.5 338h0M579.6 376.5h0M589.5 368.6h0M659.3 256.5h0M664.5 257.7h0M649.9 388.9h0M641.3 381.9h0M685 395.1h0M719.5 254.1h0M663.7 264.5h0M613.4 233.3h0M579.2 354.8h0M633.4 293.2h0M668.2 435.5h0M590.5 373.7h0M607.6 327.8h0M457 156.1h0M577.7 346.1h0M599.2 212.7h0M564.5 213.7h0M586.3 237h0M557.2 353.5h0M694.6 269.3h0M571 211.2h0M614.2 298.1h0M608.5 218.3h0M648.6 313.1h0M524.1 375.9h0M593.1 210.8h0M535.9 215.9h0M712.3 401.7h0M563.2 236.3h0M572 238h0M548.4 337.6h0M682.8 305.3h0M679 295.9h0M662.3 248.4h0M602.2 215.6h0M565.3 210.7h0M692 277.2h0M563.8 232.9h0M674.8 285.2h0M600.7 216.4h0M570.9 234.6h0M659.1 262.9h0M560.1 356.2h0M545 224.1h0M689.8 259.8h0M652.6 425.2h0M626 315.4h0M600.1 297.1h0M510.7 342.6h0M551.1 206h0M645.4 289.9h0M685.7 396h0M517.4 427.2h0M543.4 424.7h0M661.7 268.6h0M528.9 207.2h0M466.4 160.3h0M586.1 241.3h0M662.9 279.4h0M547.3 204.8h0M704 402.5h0M704.1 411.4h0M669.3 409.5h0M615 328.8h0M709.9 277.2h0M660.6 268.9h0M590.4 328.6h0M665.3 275.4h0M673.7 252.1h0M533 376.6h0M719.3 254.3h0M561.4 228.9h0M704.3 268.4h0M574.1 349.2h0M658.9 249.3h0M640.7 290h0M618.9 227.6h0M465 155.5h0M715.5 410h0M571.6 209.2h0M658.7 269.1h0M579.1 357.1h0M475 161.3h0M556.6 206.5h0M469.5 161h0M451.2 163.8h0M700.6 272.9h0M674.6 274.3h0M702.3 248.3h0M676.2 400.3h0M577.4 346.1h0M568.1 242.2h0M662.1 408.5h0M464.8 166.6h0M551.4 232.7h0M683.7 276h0M548 378.6h0M553 349.3h0M536.4 338.4h0M685 395h0M702.1 255.7h0M697 420.2h0M552.9 230.9h0M679 271h0M575.7 419.3h0M593 349.1h0M566.7 242.1h0"/>
<path stroke="#2f5890" d="M685.7 313.3h0M642.3 416h0M458.6 157h0M672.5 248.2h0M678.4 282.6h0M466.2 165h0M595.8 299.1h0M700.7 267.2h0M469.4 159.4h0M591.7 294.4h0M680.4 412.1h0M691.6 270.1h0M596.9 297.1h0M543.6 215.2h0M658.8 287.8h0M583.8 238.2h0M582.3 214.9h0M565.2 216h0M566.1 241h0M559.4 336.2h0M646.6 296.5h0M690.6 275.3h0M645.8 292.4h0M587.6 207.2h0M705.4 269.7h0M717.4 254.9h0M662.4 286h0M689.1 401h0M575.3 225.3h0M661.2 259h0M584.3 240.6h0M643 380.8h0M456.7 161.9h0M611.1 326.9h0M585.1 433.2h0M672.9 286.1h0M583.1 224.2h0M558.3 206.5h0M578.8 379.8h0M544 223.1h0M561.9 346.3h0M571.9 227.6h0M549.7 206.1h0M676.5 278.5h0M696.8 255.1h0M565.7 436.2h0M557.8 241.3h0M695.9 268.6h0M665 276.1h0M621.5 290.1h0M529 216.1h0M554.2 206.5h0M670 256.5h0M714.4 267.8h0M460.3 153.9h0M586.8 296.2h0M564.8 333.5h0M700.9 282.1h0M531.8 210.5h0M594.1 237.9h0M580.4 232.1h0M670.5 318.1h0M672 282.6h0M634.2 291.6h0M578.5 242.3h0M609.6 230.4h0M561.9 328.3h0M638.1 386.4h0M505.2 361.5h0M552.9 212h0M600.3 225.6h0M456.2 153.5h0M597.4 374h0M559.5 230.4h0M561.9 330.4h0M578 234.8h0M559.3 225.8h0M654.7 401h0M596.8 298.2h0M578.1 330.6h0M637.3 385.4h0M713.5 255.6h0M628.5 378.7h0M685.7 397.8h0M666.6 273.4h0M676.8 273h0M563.9 217.2h0M668.6 405.3h0M689.5 257.5h0M584.1 350.1h0M581.2 376.2h0M587.9 231.9h0M660.3 277.1h0M553.2 353.6h0M668.6 271.3h0M639.9 287.3h0M458 154.1h0M573.2 211.4h0M535 210.4h0M614.9 234.3h0M578.8 437.7h0M541.5 359.7h0M590.8 228.4h0M674.1 313.9h0M559.6 347.8h0M473.6 158.2h0M646 418.8h0M504.7 368.1h0M665.6 287.3h0M502.9 368.8h0M548.6 232.1h0M665.5 272.3h0M700.9 406.6h0M555.6 332.7h0M548.7 226.2h0M555.6 356.1h0M559.4 332.1h0M622.6 296.4h0M598.6 226h0M698.6 269.6h0M684.1 280.4h0M701 313.2h0M537.4 206.5h0M520.7 217.4h0M677.6 403.1h0M589.8 353.1h0M561.2 347.8h0M571.4 228.8h0M534.4 352.9h0M630.7 297h0M547.7 233h0M563.1 236.1h0M507.3 369.9h0M663.4 287.4h0M545.1 214.1h0M703 409.3h0M677 260.8h0M671.2 259.9h0M674.7 318.5h0M560.1 338.3h0M646.6 425h0M463.5 154h0M712.5 402.6h0M549 334.7h0M472.1 160.1h0M690.1 290.5h0M688.5 259.8h0M674.6 414h0M690.4 289.4h0M554 220.5h0M572.8 230.1h0M697.6 275.9h0M561.7 325.1h0M579 207.2h0M530.9 331.3h0M593.5 339.2h0M696.4 256.1h0M680.8 407.3h0M670.7 411h0M582.1 241.3h0M454.4 160.6h0M685.9 286.8h0M673.5 287.3h0M550.7 333.6h0M579.2 229.4h0M714.3 269.5h0M540.7 376.3h0M666.7 403.5h0M619.7 290.2h0M699.5 279.2h0M666.9 402.8h0M531.2 215.9h0M677.8 304h0"/>
<path stroke="#216291" d="M550.3 226.1h0M509.8 373.5h0M626.6 324.7h0M569.1 440.5h0M589.2 241.8h0M647.4 296.3h0M574.6 328.2h0M590.7 226.8h0M463 155.4h0M548.3 228.3h0M533.4 209.1h0M574.4 441.9h0M581 231.2h0M557.4 376.9h0M562.4 350.2h0M436.9 151.6h0M576.6 206.8h0M606.7 328.1h0M497.3 424.8h0M688.7 278.9h0M549.3 224.2h0M545.9 353h0M569.7 329.8h0M449.9 157.7h0M705.9 282.2h0M684.9 258.2h0M552.4 220.6h0M550.5 207h0M583.5 365.4h0M546.6 337.7h0M573.7 235.1h0M552.8 354h0M559.4 210.8h0M581.6 229.5h0M540.4 437.7h0M628.2 316.4h0M546.5 341.7h0M551.9 228.9h0M540.8 216.3h0M654.1 424.6h0M661.5 266.5h0M540.4 214.5h0M533.8 216.9h0M599.3 374.5h0M564.7 338.6h0M602.6 434h0M547.2 338.2h0M703.4 261.2h0M671.9 412.5h0M672.2 260.9h0M661.3 296.8h0M544.4 346.8h0M507.6 363.1h0M617.6 295.4h0M556.5 376.9h0M565.4 351.1h0M537 213.3h0M606.3 239h0M687.2 284.1h0M601.4 329.1h0M675.6 269.8h0M557.4 371.8h0M679.3 253.9h0M568.9 355.1h0M570.4 328.7h0M657.1 290.8h0M557.3 427.1h0M684.2 276.4h0M554 348.3h0M556.1 359.1h0M455.1 153.7h0M595.3 218.8h0M626.4 289.6h0M565 329h0M535.7 360.5h0M688.4 314.7h0M528.1 360.8h0M587.8 213.2h0M713.1 255.2h0M668.1 288.2h0M678.7 312.9h0M594.1 327.3h0M547.9 354.9h0M680.4 270.4h0M566.5 232.1h0M449.2 151.9h0M587 368.1h0M648.2 359.3h0M684.3 395.7h0M560.1 233.1h0M656.1 383.5h0M621.3 420.5h0M564.8 354.8h0M574.5 209.3h0M661.7 396.4h0M575.6 208.5h0M685.1 314.8h0M657.6 296.9h0M670.8 250.5h0M567.3 333.4h0M595.9 348.9h0M591.2 296.6h0M557.6 351.9h0M662.1 259.9h0M671.5 413.5h0M524.5 334.8h0M569.4 346.7h0M596.5 229.1h0M558.5 332.7h0M640.4 290.3h0M606.2 292h0M557.4 229.8h0M590.2 239.6h0M429 153.8h0M545 339.2h0M548.7 217.4h0M557.1 346.4h0M698.9 312.1h0M575.4 346.3h0M549.6 206.6h0M555.3 209.5h0M583 346.3h0M642.5 381.9h0M466 161h0M696.5 276.5h0M654 418.6h0M633.5 289.4h0M520.4 374h0M567 376.9h0M590.1 230.2h0M549 339h0M601.9 380.1h0M572.9 356.8h0M559.3 351.5h0"/>
<path stroke="#0e6b90" d="M459.3 154.3h0M683.2 390.2h0M446.3 158.7h0M644.2 296.9h0M538 214.9h0M679 290.3h0M619.8 324.8h0M652.4 430.4h0M534.3 212.8h0M541.6 213.2h0M531.2 343.8h0M546.5 223.2h0M603.4 296.2h0M654.4 426.9h0M460.9 158.3h0M524.6 362h0M667.4 318.4h0M572 229.8h0M544.4 356.2h0M687.1 273.7h0M521.6 360.1h0M608.5 299.1h0M543.5 352.4h0M560.6 227.3h0M686.9 267h0M609.1 382.8h0M547.7 225.7h0M553.8 351.2h0M567 224.4h0M564.8 231.2h0M692.6 268.1h0M563 353.1h0M438.1 151.3h0M596.2 326.3h0M681.2 264.1h0M658.6 321.3h0M577.4 350.9h0M703.2 267.3h0M583.3 337.5h0M647.1 322.4h0M561.8 350.9h0M562.3 353.9h0M450.8 157.3h0M570.9 376h0M450.7 160.8h0M537.1 207.5h0M540.6 219.7h0M560.2 351h0M435.4 153.7h0M622.8 295.4h0M562.2 346.5h0M571.5 208.8h0M555.9 221.8h0M557 213.5h0M596.8 373.2h0M591.4 339.1h0M554.4 228h0M570.5 223h0M658.2 269.7h0M587.7 350.1h0M587.4 371.6h0M546.7 215.4h0M622.1 290.9h0M628.2 292.7h0M617 233.5h0M603.6 296.4h0M446.7 160.2h0M533.6 344.1h0M456.7 157.8h0M678.4 289.8h0M664.8 318.3h0M642.4 385.7h0M562.3 215h0M535.4 360.7h0M448.4 151.7h0M626.5 323.7h0M679.7 289.7h0M563.3 228.1h0M683.4 312.5h0M559.5 352.7h0M715.9 257.6h0M689.4 286.1h0M611.5 294h0M685.7 273.7h0M560.2 238.5h0M655.6 384.4h0M627.9 381.9h0M564.8 355h0M573.1 352.4h0M562.2 338.4h0M574.3 337.4h0M620 382.3h0M523.8 361.8h0M534.7 210.7h0"/>
<path stroke="#007491" d="M560.2 215.3h0M438 154.1h0M679.9 288.8h0M615.4 292.7h0M686.7 310.2h0M694.5 265.4h0M544.7 222.1h0M576.3 347.3h0M457.4 153.6h0M559.4 376.9h0M541.7 207.7h0M580 374.5h0M700.3 306.2h0M552 376.8h0M572.3 230.3h0M592.2 320.6h0M512.3 369.8h0M685.1 264.7h0M637.2 316.3h0M584 354.6h0M570.1 223.8h0M666.7 320.5h0M553.9 216.7h0M512.9 361.9h0M686.1 390.1h0M448.8 160.3h0M425.1 142.9h0M546.3 429.6h0M589.7 349.8h0M670.3 293.4h0M615 380.9h0M551.7 345.1h0M667.6 385h0M659.8 383.6h0M682.8 290.1h0M530.3 362.3h0M644.1 384.9h0M533.8 216.6h0M566.8 353.3h0M553.5 354h0M669.8 274h0M515.9 363.2h0M580.5 355.5h0M569.9 229.4h0M558.7 214h0M656.6 413.2h0M568.3 340.1h0M674.5 312.9h0M695.4 261.1h0M592.1 340.1h0M426.5 154.3h0M451.8 152.9h0M555.5 235.5h0M570.3 346.5h0M632.2 318h0M658.2 385.2h0M660.4 385.3h0M671.2 273.2h0M572.2 336.8h0M678.2 317.1h0M641.4 295.5h0M556.6 225.3h0M648.4 289.6h0M439.4 152.3h0M576.7 364.9h0M610.5 380h0M675.1 292.7h0M589.4 216.4h0M697.8 264.9h0M626.2 324.7h0M627.8 295.7h0M547.9 216h0M566.7 436.1h0M705.3 264.7h0M702 263.6h0M558 238.3h0M619.9 325.6h0M675.1 269.8h0M583.4 356.2h0M586.9 354.9h0M645.2 381.4h0M570.7 354.9h0M732.8 407.8h0M669.9 386.4h0M431.9 149.7h0M435.6 149.7h0M610.5 295.4h0M664.9 294.4h0M573.4 224.9h0M672.6 269.3h0M668.8 279.4h0M605.2 380.6h0M550.8 361.8h0M577.4 338.5h0M525.8 360.2h0M692.1 313.2h0M450.9 162.6h0M692.8 263h0M565.1 227.1h0M438.2 155.2h0M691.6 269.7h0M533.7 214.2h0M544.7 363.5h0M575.6 328.7h0M600.8 222.7h0M578.7 218.8h0M547.4 224.5h0M542.8 374.8h0M437.6 155.8h0M679.5 316.3h0M632.5 299.3h0M681.4 314.3h0M593.8 344.1h0M585.9 366.7h0M542.5 359.6h0M554 347.3h0M615.8 326.3h0M541.4 350.2h0M668.5 386.7h0M456.7 152.2h0"/>
<path stroke="#007d90" d="M548.9 337.6h0M577.5 347.4h0M667.1 274.2h0M713.9 257.9h0M565.3 218.1h0M602.6 378h0M686.9 267.7h0M544.3 216h0M505.1 370.1h0M421.6 151.3h0M555.9 337.5h0M440.1 152.2h0M442.5 156h0M652.3 315.7h0M437.6 154.5h0M557.5 358h0M548.9 336.6h0M646.7 290.1h0M603.5 380.7h0M556.3 360.6h0M537.7 218.2h0M630.1 382.6h0M434 155.7h0M575.4 226h0M543.4 220h0M438.8 154.5h0M571.3 325h0M517.4 363.1h0M534.9 366.6h0M569.4 339.1h0M580.6 328.5h0M570.8 375.5h0M686.3 408.8h0M521.4 364.7h0M435.2 151.3h0M548.1 215.6h0M593.1 343.6h0M616.8 295.4h0M432.8 153.1h0M548.2 376.3h0M626 428h0M556.5 226.4h0M555.9 207h0M428.3 153.8h0M538.4 350.1h0M593.3 294.3h0M512.7 364.8h0M575.1 228.3h0M434.9 140h0M553 219.8h0M513.4 364h0M696.3 389.6h0M576.1 222.2h0M431.7 145.8h0M442 160h0M557.6 215.8h0M511.6 371.8h0M563.1 335.8h0M648.7 384.1h0M447.7 160.9h0M617.9 380.1h0M647.4 295.4h0M627.2 325.9h0M686.3 290.5h0M589.9 349.9h0M558.4 226.7h0M573.3 346.7h0M434.5 150.7h0M568.2 436.8h0M445.9 153.6h0M427.5 149.4h0M588.1 353.5h0"/>
<path stroke="#008690" d="M425.5 148.4h0M648.9 317.3h0M508.5 366.5h0M434.3 152.9h0M706.5 261.5h0M617.6 320.5h0M568.8 373.8h0M597.5 325.8h0M554 376h0M625.1 291.9h0M540.9 218.7h0M497.8 427.9h0M692.3 305.1h0M615.9 297.6h0M570.2 221h0M512.4 365.4h0M582 374.4h0M549.2 362.8h0M556.8 373.1h0M425.5 150.3h0M680.2 289.6h0M525 362.3h0M704.9 257.9h0M686.1 265.2h0M430.3 153.1h0M426.3 147.7h0M445.5 160.4h0M642.9 289.2h0M526 362.6h0M427.1 145h0M515.2 433h0M578.2 364.7h0M429.9 152.7h0M700.4 261.5h0M428 146.3h0M565.4 228.1h0M703.5 260.8h0M426.3 151.3h0M428.2 150.6h0M596.2 377.1h0M537.2 374.3h0M589 349.7h0M559.9 360.1h0M424.2 147.5h0M686.6 286.8h0M540.8 361.2h0M679.9 269.9h0M528.9 361.9h0M612.6 292.1h0M680.7 267.7h0M683.9 290.7h0M438.8 151.6h0M440.6 152.2h0M667.5 387.5h0M542 336.2h0M569.9 345.7h0M522.9 372.4h0M441 156.8h0M420.9 150.2h0M435.6 152.1h0M711.6 259.3h0M423.9 147h0M564 361.8h0M523.6 363.2h0M428.4 146.2h0M663.9 315h0M510.3 367.7h0"/>
<path stroke="#00908e" d="M652.7 316.8h0M544.8 365.3h0M643.7 293.3h0M548.5 361.5h0M586.7 321.4h0M423.8 152.6h0M619.6 318h0M550.4 215.9h0M512.4 363.6h0M662.7 315.8h0M527.8 363.1h0M606 378.8h0M513.4 369.1h0M625.3 227.5h0M538 364.2h0M517.9 368.7h0M569.4 229h0M444.9 153.5h0M529.7 363.2h0M535.7 210.6h0M556.4 217.5h0M594.6 377.5h0M677.7 289.8h0M527.6 363.2h0M618.3 323.4h0M692.6 312.6h0M600.7 376.8h0M574 375.5h0M563.3 225.3h0M617.4 324.5h0M643.7 295.1h0M549 375h0M440.5 156.8h0"/>
<path stroke="#00988b" d="M616.2 379.7h0M583.7 344.6h0M654.9 289.8h0M575.5 369.7h0M609.4 324.2h0M691.5 308.2h0M601 379.5h0M512.3 363.3h0M575.1 368.1h0M547.6 368.2h0M659.1 385.2h0M616.5 379.9h0M685.6 291.8h0M568.8 340.1h0M576.8 366.5h0M687.9 266.3h0M585.3 339.7h0M545.7 215h0M565.3 341.7h0M645.8 383.5h0M520.8 365.3h0M690.9 386.9h0M519 363.8h0M674.1 291.5h0M550.3 340.1h0M641.1 316.3h0M511.2 366.6h0M622.2 382.2h0M609.4 380.1h0"/>
<path stroke="#00a188" d="M525.7 372.8h0M705.8 260.1h0M520.8 369.6h0M596 321.6h0M551.5 368.9h0M600 326.7h0M620.3 381.4h0M531.5 365.8h0M516 369.6h0M572.5 343.4h0M553.4 369.8h0M656.3 386.1h0M568.8 366.3h0M708 260h0M569.2 339h0M499.3 426h0M561 340.1h0M609.6 324.1h0M568.4 341.9h0M547.9 375.9h0M620 323.7h0M648.4 384.1h0M625.7 319.2h0M588.5 343.4h0"/>
<path stroke="#00a983" d="M549.2 370.2h0M566.1 343.3h0M657.2 292.6h0M641.2 317.9h0M556.3 343.6h0M571.8 369h0M543.5 366.2h0M659.1 294.8h0M573.2 366.6h0M605.8 321.7h0M563.9 362.5h0M569.8 340.9h0M604.5 379.1h0M559.2 372.8h0M621.1 321.1h0M553.5 374.4h0M569.6 367.1h0M561.4 365.2h0M570.8 366.9h0M653.4 316.5h0M565.7 339.6h0"/>
<path stroke="#00b17c" d="M517.6 370.5h0M545.1 371.3h0M661.8 293.1h0M655.7 315.8h0M670 386.5h0M539 367.8h0M581.4 369.9h0M697.5 306.6h0M562 373.2h0M542.4 371.3h0M545.8 367.7h0M579.5 343.5h0M646.3 383.8h0"/>
<path stroke="#00b973" d="M680.5 308.4h0M670.1 290.8h0M547.2 368.5h0M596.4 378.4h0M664.2 292.3h0M662 292.5h0M630.8 319h0M514.7 368.8h0M613.9 322h0M660.4 320h0M568.1 369.5h0"/>
<path stroke="#00c168" d="M557.8 340.6h0M551.2 370.1h0M660.4 292.2h0M564.8 372.2h0M520.8 367.6h0M575.1 339.5h0M610.3 321.3h0"/>
<path stroke="#00c85a" d="M554.7 370h0M591.9 325.1h0M517.5 369.1h0M581.7 369.7h0M648.4 318h0"/>
<path stroke="#36cf48" d="M570.6 367.9h0M552.8 369.3h0M660.6 292.2h0M587.7 341.4h0M570.8 369.4h0M570.2 341.7h0"/>
<path stroke="#5fd52f" d="M597.8 324.6h0M645.1 320.6h0M568.9 373h0M559.3 370.3h0M579.3 340.6h0"/>
<path stroke="#81d900" d="M541.3 368h0M559.4 370.6h0"/>
<path stroke="#dce300" d="M576.4 342.7h0"/>
<path stroke="#f5e500" d="M567.7 371.3h0M575.1 341.9h0"/>
<path stroke="#4c005e" d="M577.6 325.8h0M543.3 449h0M561.6 183.5h0M724.2 260.5h0M588.7 400.6h0M637.4 397.2h0M534.8 424.3h0M653.5 317h0M682.8 241h0M545.9 198.5h0M456.8 172.6h0M535 447.5h0M639.8 315.3h0M654.8 289.7h0M712.7 242.2h0M654 279.6h0M538.6 295.1h0M557.7 334.6h0M690.7 294.4h0M542.6 193.3h0M606.1 412.5h0M603.9 202.2h0M524.6 235.7h0M709.3 242.5h0M504.2 182.1h0M662.9 309.3h0M541.9 192.9h0M675.1 242.5h0M703.5 241.5h0M537.1 202h0M587.2 308h0M525.2 233.5h0M421.8 157.3h0M674.1 317.6h0M614.9 316h0M624.8 306.8h0M563 201.6h0M700 387.6h0M626.5 228.6h0M580.2 305.8h0M680.3 297.2h0M508.1 375.7h0M576.9 184.2h0M668.2 401.4h0M546.7 430.4h0M624.2 308.3h0M564.9 437.6h0M589.4 200.5h0M652.6 260h0M550 439.6h0M566.2 196.8h0M635.6 315.7h0M478.3 173.1h0M535.9 187.3h0M655.1 313.2h0M626.4 312.8h0M433.6 164h0M492.2 177.7h0M602.6 300.6h0M691 402.4h0M560.1 201.2h0M627.7 314.7h0M720.9 242.2h0M450.7 169.4h0M655.4 251.8h0M564.5 429.7h0M492.1 191h0M703.4 397.4h0M553.7 297.9h0M651 300.3h0M722.5 243.1h0M635.4 327.3h0M540.8 448h0M490.5 352.6h0M491.7 167.5h0M592.2 310.1h0M723.4 244.3h0M586.3 301.7h0M642.3 446.1h0M534.4 196.1h0M592 245.5h0M501.1 337.3h0M591.1 314.1h0M683.3 295h0M438.4 162.6h0M705.6 242.3h0M493.9 177.6h0M546.3 383.1h0M658.7 410.3h0M639.9 308.4h0M580.1 201.4h0M605.1 441.3h0M628 314.5h0M600 243.9h0M651.5 441h0M672.2 406h0M592 328.4h0M521 214.5h0M574.5 438h0M607 422.5h0M436.7 164.3h0M566.1 439.1h0M456.3 173.6h0M565.7 197.6h0M514.9 193.6h0M466 173.1h0M565.8 183.9h0M535.4 245.6h0M602 221h0M656.1 415.1h0M581.3 202.2h0M525.6 379.4h0M715.3 244.3h0M478 158h0M518.8 326.2h0M661.5 245.6h0M670.9 392.6h0M469.8 171.7h0M641.2 301.7h0M573.5 423.4h0M670.4 399.6h0M566.2 445.5h0M566.5 448h0M538.1 243h0M486 178.2h0M426.6 158.4h0M658.7 283.6h0M492.4 185.7h0M456.7 172.6h0M672.6 297.7h0M512.6 183.4h0M685.9 315.6h0"/>
<path stroke="#4e106b" d="M592.7 442.5h0M636.6 416.2h0M545.7 431.8h0M688.4 411.7h0M668.8 414.6h0M504.4 190.6h0M592.4 446.5h0M628.4 300.2h0M587.9 447.9h0M422.1 158.6h0M625.2 438.5h0M439.5 163.2h0M569 199.3h0M508.4 357.6h0M644.5 301.9h0M538.5 195.1h0M600.4 348.9h0M666.7 401.8h0M623.4 301.3h0M636.6 245.9h0M467.1 174.3h0M630.8 438h0M722 267.8h0M445.8 170.6h0M673 241.5h0M659 284.2h0M558.6 378.5h0M587 380.3h0M552.5 202.1h0M583.6 304.4h0M600.8 246.8h0M648.9 299.9h0M716.1 270h0M662.1 244.4h0M601.7 346.2h0M593.6 288.4h0M618.2 304.7h0M528.6 219.6h0M668 243.6h0M694.4 242.4h0M639.1 327.1h0M667.4 247.2h0M515.9 189.8h0M440.1 165.2h0M528.1 204.2h0M633.7 308.6h0M553.4 327.6h0M722.6 244.2h0M645.5 246.9h0M479.3 183.8h0M552 184.8h0M491.4 179.2h0M468.1 174.3h0M666.8 308.6h0M499.9 189.9h0M590.2 223.5h0M539.5 202.1h0M586.4 328.1h0M596.9 301.2h0M549 330.9h0M527 190.5h0M615.9 305.2h0M447.3 164.3h0M639.4 299.3h0M647.3 313.9h0M499.5 181.2h0M690.4 315.2h0M636.7 305.1h0M481.7 178.7h0M670.9 386.8h0M488 179.3h0M644.5 227.2h0M709.3 285.3h0M624 209.6h0M467.3 170.8h0M433.9 165h0M551.7 383h0M660.8 315.6h0M663.2 285h0M424.5 157.5h0M683.8 245.1h0M623.6 446.5h0M433.9 163.8h0M677.4 315.2h0M608.6 311.5h0M556.9 314.3h0M526.2 327h0M457.2 169.9h0M640 312.4h0M526.5 190.8h0M572.6 427.6h0M551 201.4h0M638.6 206.4h0M516.9 184.1h0M446.8 171.1h0M591.9 245.3h0M623.6 309.6h0M631.7 272.5h0M640.8 266.7h0M533.8 191.3h0M647.8 245.9h0"/>
<path stroke="#4e1e75" d="M594.4 246.3h0M458.4 168.5h0M632 301.5h0M606.2 313.5h0M655.7 307.5h0M657 288.3h0M511.5 181.6h0M591.7 369.5h0M582.9 206h0M599.4 319.1h0M527 217.4h0M705.1 285.4h0M587.5 444.6h0M574.9 187.9h0M566.2 327.9h0M467.1 169.5h0M617.8 306.5h0M690.9 420.2h0M669.5 246.5h0M528.5 345.8h0M633.4 271.6h0M661.4 244.5h0M553.3 320.3h0M589.7 443.1h0M647.7 308.6h0M527.3 221h0M662 295.8h0M557.5 294.3h0M516.7 188.9h0M657.8 251h0M583.6 445.9h0M647.3 247.6h0M592.3 333.4h0M659.3 422.6h0M540.2 205.7h0M661.5 296.6h0M566.4 417.2h0M618.1 212h0M642.7 404.2h0M560.5 377.5h0M592.5 248h0M594.7 446.5h0M471.9 175.6h0M692.8 278.7h0M478.4 175.4h0M580.1 331.8h0M628.4 305.7h0M656.5 303h0M532.3 224h0M656.2 275.3h0M707 243.6h0M444.6 167.7h0M568.3 245.3h0M514.7 332.6h0M531.2 351.4h0M500 181h0M613.7 247.1h0M563.1 242.8h0M673.2 296.1h0M599.2 289.3h0M588.9 376.8h0M583.7 440h0M529.6 232.8h0M544.4 233h0M433.4 164.3h0M535.2 206.6h0M674.5 316.3h0M720.4 243.8h0M659.1 252h0M588.2 333.9h0M450.2 170.3h0M681.3 284.3h0M619.9 420.7h0M548.5 187.5h0M588.2 365.3h0M578.6 296.3h0M604 313.7h0M514.5 180.1h0M656.8 304.6h0M551.7 330.6h0M604.7 246.2h0M638.2 308.4h0M712.3 280h0M631.1 228.7h0M519.7 339h0M490.4 178.8h0M450.3 167.4h0M527 223.6h0M550 199.1h0M583.7 246.6h0M535.1 202h0M549.4 231.9h0M655.7 286.9h0M546 233.3h0M522.4 327.7h0M561.9 243.8h0M520.9 210.4h0M563.3 238.4h0M515.1 335.7h0M467 173.9h0M672.8 297.4h0M491.1 178.5h0M604.8 445.5h0M618.7 302h0M546 378h0M670 295.2h0M592.1 359.6h0M655.8 289.8h0M546.5 429.7h0M602.4 346.5h0"/>
<path stroke="#4b2c80" d="M524.7 346.3h0M595.9 306.6h0M583.9 205.9h0M721.9 256.6h0M563.7 206.5h0M620.9 310h0M526.3 193.8h0M494.4 188.8h0M672.3 316.7h0M707.2 271h0M556.3 327.9h0M510.7 327.9h0M682.4 283.2h0M658.7 247.5h0M668.9 286.7h0M580.7 332.1h0M564.6 208.4h0M591.2 294.9h0M514.3 182h0M536.3 233.7h0M495.9 179h0M560.6 243.6h0M585.1 295.7h0M608.9 243.9h0M525.5 217.9h0M610 441.4h0M513.8 353.8h0M674.2 285.8h0M594 353.9h0M481.5 175.6h0M650.1 436.8h0M692.9 282.6h0M499.6 179.5h0M643.5 325.4h0M578.2 205.6h0M513.6 337h0M677.3 302.6h0M534.1 194.9h0M601.4 289.7h0M493.6 178.8h0M529.1 380.1h0M555.7 183.7h0M562.9 244.5h0M641.4 285h0M524.6 341.8h0M682.4 431.9h0M694.8 289.1h0M650.9 325.8h0M621.9 313.9h0M558.2 187.1h0M627.7 437.7h0M532.1 185.2h0M671.4 426.1h0M609.8 312.3h0M551.3 237.2h0M649.7 205.2h0M514.9 183h0M639.9 246.9h0M556.6 244.7h0M655.6 267.2h0M719.6 250.7h0M668.3 297.6h0M611.5 313.6h0M640.2 439.2h0M536.4 224.7h0M519.7 329.2h0M636.1 301.4h0M513.6 219.4h0M592.8 247.5h0M536.3 192.5h0M674.6 294.3h0M588.1 206.9h0M659.3 257.6h0M594.9 355.6h0M564.2 240.1h0M640.8 273.3h0M563.8 203.4h0M656.8 276.8h0M586.9 331.2h0M598.4 300.6h0M696.9 249.2h0M656.2 269.3h0M721.5 249.7h0M661.2 312.3h0M510.4 379.1h0M530.2 221h0M555.4 437h0M658.1 249.9h0M565.3 186.4h0M533.2 205.9h0M512.9 217.3h0M503.2 179.8h0M690.7 304.5h0M646.4 325.6h0M598.1 340.3h0M702.7 285.8h0M676.4 409.7h0M518.7 181.7h0M627.3 291.4h0M561.7 201.8h0M700.2 287.2h0M536.7 204.7h0M528.7 378.5h0M517.4 343.1h0M599 207.3h0M496.4 360.2h0M548.7 186.2h0M664.1 281.4h0M602.7 301.5h0M543.7 327.2h0M590.9 416h0M695.7 251.5h0M656.3 284.8h0M587 436.5h0M502.2 180.2h0M690.3 243.6h0M615.6 306.6h0M593.6 235.1h0M649.5 394.9h0M538.3 201.4h0M631.4 307.1h0M583.9 295.6h0M684.3 284.4h0M581.8 244.4h0M696.9 246.7h0M476.8 165.4h0M624.2 285.7h0M596.7 356.5h0M593.9 371.7h0M655.4 279.1h0M572.2 242.6h0"/>
<path stroke="#463786" d="M539.8 193.5h0M450.4 165h0M670.4 252.7h0M553.9 419h0M591.3 213.3h0M535.3 207.6h0M611 436.9h0M641.9 313.8h0M602.2 329.5h0M574.4 442.1h0M583.9 247.1h0M628.3 424.5h0M570.5 377.9h0M692.8 288h0M485.1 176.7h0M717.2 257.6h0M547.5 381.5h0M533.2 378.8h0M605.9 296.1h0M670.5 285.8h0M636.4 208.7h0M706.1 279.3h0M584.1 209.3h0M684.8 256.3h0M613.5 300.5h0M574.1 425.2h0M512.9 373.9h0M598.9 206.4h0M656.6 301.5h0M549.4 327.7h0M523.1 352.8h0M531.1 194.3h0M686.8 259.6h0M511.6 230.5h0M633.1 421.9h0M543.2 427.5h0M578.2 331.5h0M641.9 271.9h0M689.3 276.2h0M459.5 168.5h0M628 431h0M678 255.9h0M475.7 165.9h0M563.1 331.6h0M514.1 376.5h0M502.3 180.8h0M556.1 204.9h0M560.3 244.5h0M572.1 351.5h0M636.9 313.6h0M675.1 309.7h0M554.3 237.9h0M625.3 310h0M665.1 285.4h0M698 287.1h0M552.1 327.7h0M689 315h0M551.1 207.4h0M582.4 331.1h0M538 206h0M710.7 281.2h0M535.7 185.7h0M710.6 276.1h0M601.4 215.1h0M682.4 244.3h0M466.6 166h0M606.5 327.7h0M686.5 284.7h0M700.3 286.9h0M671.2 255.3h0M702.1 283.9h0M648.2 311.2h0M664.5 284.2h0M644.7 326h0M609.5 302.7h0M568.7 232.3h0M593.5 316.3h0M506.6 363.6h0M703.9 251.7h0M520 217.3h0M671.5 279h0M587.8 359.6h0M520.7 339.2h0M538.2 206.8h0M656.4 256.9h0M692.4 253.5h0M547.1 338.7h0M657.4 279.1h0M657 427.4h0M594.7 295.2h0M541.3 328.1h0M584.8 375.7h0M679 408h0M651.7 312.3h0M665.3 297h0M510.1 355.1h0M558.1 378.5h0M532.9 183.9h0M576.1 241.2h0M535.9 186.1h0M593.3 206.4h0M571.5 328.7h0M554 378.8h0M528.8 183.3h0M711.3 274.9h0M520.5 207.7h0M698.7 282.9h0M581.5 207.7h0M705.9 283h0M705 409.1h0M523.9 341.4h0M533.9 328h0M659 246.6h0M658.9 285.7h0M586.4 333.5h0M518.1 349.7h0M540.2 327.8h0M716.4 245.1h0M648.2 305.8h0M583.7 330.6h0M505.4 374.1h0M683.9 312.9h0M712.7 268.7h0M532.1 227.3h0M551.5 206.4h0M483.4 185.1h0M487.7 359.2h0M713.6 406.7h0M709.5 268.4h0M663.7 306.9h0M557.8 241.8h0M472.5 174.1h0M664.9 432.6h0M640.4 235.6h0M675.8 309.5h0M517 355.7h0M535.6 340.8h0M530.7 219.5h0M705.3 285.6h0M609.3 210h0M631.6 270.9h0M638.7 272.3h0M552.2 207.6h0M516.9 207.4h0M676.5 283.6h0M509.6 180.6h0M449.4 164.3h0M643.8 237h0M568.2 207.7h0M650.1 300h0M671 249.4h0M653.3 271.9h0M669.3 253.3h0M636.8 420.3h0M573.3 335.4h0M526.6 217.9h0M670.4 280.7h0M599.3 291h0M590.1 367.6h0M658 279.8h0M605.2 217.6h0M654.6 380.2h0M515.1 180.3h0M512.3 338.9h0M538.2 379.9h0M702.7 286.3h0M716.1 405.4h0M594.1 238.7h0"/>
<path stroke="#41438c" d="M630.1 327.3h0M635.2 379.3h0M576.7 211.5h0M580.6 220h0M590.9 212.9h0M521.5 434.8h0M675.8 247.7h0M567.2 218.3h0M719.5 256.1h0M599.7 239.5h0M606 442.8h0M603.6 290.8h0M583.8 238.1h0M702 280.4h0M715.6 266.9h0M559.2 346.1h0M664.9 311.6h0M598 210.3h0M694.1 309.1h0M674.8 279.2h0M666.2 301.7h0M577.9 222.1h0M615.5 213.7h0M660.3 283.6h0M552.4 206.7h0M608.6 313.3h0M588 216.2h0M649.2 292.7h0M680.7 280.6h0M613.2 382.7h0M700.7 268.5h0M697.8 272.7h0M579.8 208.4h0M464.2 164.6h0M553.9 208.9h0M565.5 334.9h0M701.3 278.7h0M442.9 163.2h0M605.2 243.2h0M552.2 212h0M532.1 205.9h0M705.2 250.9h0M667.1 286.7h0M555.3 232.5h0M713.1 401.7h0M694.3 275.2h0M458.9 167h0M610.4 232.5h0M713.1 405.5h0M551.7 207h0M598.6 348.6h0M563.2 205.4h0M519.7 213.2h0M548.5 202.9h0M626.2 380.6h0M565.2 333h0M691 314.2h0M674.3 282.3h0M620.5 328.1h0M595.3 329h0M659.2 258.2h0M667.7 256.7h0M661.4 282.1h0M603.9 432.6h0M606.7 440.1h0M599 346.2h0M616.4 325.6h0M583.7 229.4h0M695.1 272.7h0M536.7 222.3h0M507.9 363.6h0M673.8 278.3h0M690.8 257.1h0M635.9 304h0M576.1 230.2h0M587.5 303.5h0M675.5 249h0M555 330.7h0M666.3 286h0M680.9 281.4h0M624.4 379h0M593.4 227.4h0M587 233.2h0M663.8 260.3h0M668.4 383h0M573.8 230.5h0M521.4 184h0M594.1 214.9h0M700.5 286.5h0M561.8 323.9h0M555.8 353h0M526.5 343.8h0M682.7 281.1h0M666.5 256.6h0M589.5 354.3h0M720.7 254.4h0M604.8 316.8h0M680.5 285.2h0M616.1 212.3h0M579.3 227.5h0M701.1 409.1h0M604.1 231.5h0M567.5 241.9h0M562.9 240.8h0M548.9 206.2h0M665.2 258.8h0M517.2 335.9h0M664.3 248.6h0M575.2 205.4h0M567.7 206h0M675.1 252h0M670.6 249.1h0M537.8 207.9h0M663.1 309.6h0M691.1 247.3h0M586.8 213.6h0M473.7 158.8h0M643.5 313.5h0M586.7 235.9h0M714.2 251.7h0M565.8 238.8h0M610.8 287.8h0M702.7 277.6h0M658.1 267.8h0M700.2 313.2h0M598.5 233.7h0M692.7 285.1h0M680.4 255.4h0M643.5 325.9h0M543.1 224.8h0M535.4 425.5h0M607.5 225.8h0M655.8 270.4h0M691.2 289.4h0M714.9 261.5h0M523 355.4h0M663.2 284.9h0M682.5 280.1h0M566.7 207.4h0M548.6 196.2h0M672 306.5h0M696.2 278.8h0M687.1 277.8h0M663.7 285.2h0M532.8 335.9h0M590.2 241.7h0M528.4 218.4h0M587.4 209.3h0M679.3 246.8h0M699 256.4h0M698.7 403.7h0"/>
<path stroke="#394e8e" d="M531.2 350.4h0M684.5 268.1h0M623.1 239.3h0M703.8 280.8h0M546.4 204.8h0M591.3 445.1h0M558.9 210.4h0M616.8 235.6h0M705.5 256.6h0M528.7 215.9h0M616.7 441.4h0M672.5 277.3h0M580.6 206.9h0M651.7 379.9h0M556.3 353.6h0M601 449h0M676.8 256.7h0M703.7 247h0M583.9 207.9h0M712.6 262.9h0M557.9 345.7h0M540.7 211.2h0M691.1 245.3h0M539 207.6h0M702.7 407.6h0M716.1 250.3h0M565.3 206.5h0M530.3 337.4h0M702.6 408.2h0M552.3 331.6h0M678.4 280.5h0M591.5 223.3h0M574.6 327h0M605.4 231.3h0M563.4 242.6h0M587.3 228.7h0M687.4 315.6h0M561.6 216.5h0M704 279.2h0M581.7 228.6h0M717 255.3h0M595.8 216.7h0M571.7 219.4h0M577.5 438.1h0M615.8 211.7h0M603.2 443h0M569.1 243.5h0M665.8 296.7h0M555.6 349.6h0M697.6 248.2h0M681.5 277.1h0M714.6 405.4h0M660.6 262.5h0M510.1 353.1h0M609.1 208.7h0M700 283.6h0M667.5 408.1h0M671.5 280.5h0M688.6 401.5h0M526.6 215.7h0M554.9 331.5h0M559.5 378.1h0M673.6 304.1h0M662.2 287.2h0M688.2 290.7h0M537.6 225.6h0M695 252.1h0M582.4 241.6h0M705.4 276.1h0M587.7 354.5h0M587.1 319.9h0M652.9 313.5h0M622 384.7h0M556.5 331.4h0M676.4 383.7h0M593.2 351.5h0M541.8 222.3h0M566.1 242.6h0M503.8 372.6h0M462.1 159.4h0M693.1 384.4h0M556.2 214h0M531.9 351.9h0M542.7 207h0M616.4 366.4h0M668 280.9h0M658.6 267h0M610.2 299h0M691.6 275.8h0M661.5 249.7h0M668.4 283.8h0M537.1 219.8h0M703.3 253.6h0M660.7 267.2h0M543.5 215h0M689.2 282.8h0M541.7 222.2h0M689.4 283.7h0M528.4 340.1h0M667.1 266.9h0M687.3 278.8h0M642.5 290.4h0M597.5 209.9h0M546.6 344.5h0M569.6 228.8h0M663.1 284.3h0M560.4 325.9h0M566 213h0M694.6 386.6h0M597.8 444.1h0M700.5 268h0M461.4 164.7h0M706.6 281.1h0M605.5 236.7h0M527.4 351.8h0M535.7 337.8h0M667.7 281.6h0M679.1 269.8h0M594.3 350.3h0M542.6 340.2h0M659.7 288.3h0M663.3 281.6h0M659.2 274.7h0M699.4 274.5h0M632.2 384.1h0M533.3 333h0M666.8 402h0M665.2 280.3h0M661.3 278.5h0M706.2 274.2h0M680.4 281.3h0M563.5 351h0M708.9 254.6h0M546 207.3h0M608.5 232.2h0M678.9 278.4h0M477.8 161.5h0M674.1 277.1h0M510 363.8h0M566.1 356.3h0M680.4 404.3h0M658 262.7h0M511.4 345.6h0M661.7 264.7h0M585.4 359.2h0M715.5 407.4h0M596.2 239.6h0M580.1 234.2h0M694.5 280.4h0M582.8 213.4h0M645 430.2h0M556.4 209.8h0M662.4 268.4h0M661.5 255.9h0M680.9 311.2h0M672.5 279.7h0M663.9 399.8h0M564.5 238h0M617.5 436.3h0M681.2 284.9h0M547.7 230.6h0M641.7 416.6h0M673.7 259.9h0M553.4 228h0M566.5 352.7h0M588.1 210h0M567.1 350.9h0M691.9 277.2h0M661.8 261.8h0M671.1 280.2h0M619.4 434.5h0M680.4 249.2h0"/>
<path stroke="#2f5890" d="M713.7 261.7h0M468.5 160.8h0M571.6 239.6h0M549.2 360.8h0M564.6 207.4h0M635.1 315.9h0M669 250.9h0M682 409.2h0M706.3 255.6h0M676.1 389.8h0M661.9 274h0M571.2 335.7h0M627.7 315.5h0M644.1 385.2h0M694.5 307.1h0M674.3 304.8h0M546.2 215.7h0M553.6 231.3h0M688.2 402h0M503.6 362.8h0M675.4 282.4h0M663.9 287.1h0M703.4 256.4h0M577.9 347.4h0M594 238h0M577.3 213.1h0M608.9 213.8h0M663.4 269.1h0M693.4 272.2h0M670.5 256h0M569 210.7h0M679.4 405.3h0M637.6 294.5h0M551.2 347.4h0M536.4 349.5h0M665.2 272.5h0M670.3 411.5h0M681.1 247.9h0M666.3 259.6h0M533.6 342.5h0M687.9 286.6h0M467.6 156h0M669.4 405.8h0M614.2 211h0M546.8 354h0M700.6 256.9h0M667.7 284.9h0M683 288.3h0M539.9 220.7h0M604.6 227.7h0M688.6 269h0M573.2 209.4h0M607.8 227.5h0M665.9 281.4h0M573.5 242h0M560.3 359.5h0M637.2 232.5h0M585.2 213.1h0M580.1 224.5h0M597.2 218.3h0M675.1 400.3h0M501.9 425.3h0M533.7 211.2h0M585 328.7h0M608.7 235.7h0M561.9 348.1h0M453.5 152.5h0M633.7 384.4h0M569.1 233.4h0M560.8 242.3h0M719.2 258.6h0M622.9 325.4h0M668.3 256.3h0M599.4 217.5h0M534 337.9h0M585.4 365.9h0M583.2 225.1h0M671.6 411.2h0M680.5 274.6h0M700.7 253h0M694.5 276.6h0M640.2 289.5h0M533.2 209.4h0M577.7 352.2h0M598 234.7h0M678.9 277.9h0M586.4 223.5h0M690.7 404.1h0M714.4 404.5h0M529.4 342.1h0M673.5 265.7h0M631.3 434h0M676.7 282.4h0M578.5 355.1h0M631.1 434.1h0M623.4 293.9h0M656.1 389.1h0M441.9 157.7h0M583.2 327.7h0M618.7 297.7h0M579 347.1h0M525.2 359.5h0M452.9 161.5h0M697.3 405.1h0M551.3 350h0M696.2 259.2h0M681.5 421.8h0M522.5 215.4h0M564.1 237.8h0M715 406.6h0M580.4 228h0M608.9 317.9h0M695.1 309.5h0M555.1 352h0M593.5 299.2h0M570.1 239.8h0M590.4 233.5h0M582.7 351h0M631 423.3h0M617.8 291.1h0M530.5 345.9h0M578.6 227.8h0M540.2 205.3h0M557.3 376.4h0M674.2 279.4h0M566.1 212h0M704.5 275.9h0M716.8 251.3h0M624.1 294.7h0M583.1 360.1h0M694.6 256.2h0M663.3 286.2h0M697.8 253.3h0M536.8 376.6h0M621.5 379.3h0M555 214.2h0M703.3 256.7h0M588.7 214.8h0M665.5 431.4h0M713.2 403.4h0M650.2 323.4h0M505.5 362.9h0M562.9 215.9h0M671.9 271.2h0M605.1 299.2h0M637.1 386.9h0M638.4 289.7h0M610.8 428.4h0M590.9 372.6h0M665.9 400.3h0M542.6 212.9h0M561.6 206.9h0M729.7 403.4h0M704.5 411h0M715.7 409.9h0M667.9 409.5h0"/>
<path stroke="#216291" d="M452.2 161.8h0M555.6 430.7h0M536.8 208.7h0M529.1 375.3h0M591.2 213.8h0M729.3 403.5h0M612.6 232.6h0M636.3 290h0M583.3 236.3h0M573.2 440.3h0M525.8 345.4h0M630.1 289.4h0M675.6 264h0M587.5 319.4h0M668.5 313.5h0M614.8 434.3h0M541.7 343.8h0M569 350.7h0M617.9 215h0M615.6 436.9h0M550.3 220.5h0M465 160.5h0M556.3 351.1h0M685.6 260.3h0M678.1 289.3h0M507.7 368.1h0M560.2 238.5h0M543.7 338h0M599.1 229h0M634.9 237.6h0M561.1 375.5h0M576.1 234.6h0M644.4 423.6h0M572.2 355.8h0M674.7 311.8h0M554.5 230.1h0M572.6 334.1h0M676.5 407.5h0M571.2 231.7h0M545.1 337.3h0M568.7 208.2h0M570.8 224.9h0M552.5 359.3h0M573.5 218.6h0M680.3 312.7h0M666.5 273.5h0M711.7 258.5h0M551.7 360.2h0M690.3 258.2h0M707.3 263.2h0M453.2 153.4h0M447.9 155.4h0M614.9 425.7h0M561.6 333.1h0M658.7 261.7h0M591.8 374.6h0M578 327h0M566.6 353.6h0M641.9 384.9h0M553.9 333.5h0M547.4 226.5h0M632.8 316h0M577.9 208.7h0M609.1 223.3h0M635.1 384.4h0M535.1 218.2h0M624.4 225.6h0M666.9 263.1h0M536.8 353h0M637.1 323.7h0M606.3 228.8h0M655.6 425.5h0M564.8 347.6h0M683.4 268.6h0M627.3 381.1h0M636.6 383.7h0M558.5 359.1h0M681.8 289.2h0M667.4 384.3h0M670.5 272.6h0M621.7 291.6h0M579.6 437.7h0M637.6 294h0M609 222h0M689.4 291.5h0M588.3 231.4h0M613.7 221.1h0M600.4 226.9h0M555.2 220.4h0M592.7 374.2h0M540.7 336.9h0M684.6 312.4h0M666.2 276.5h0M685.5 289.5h0M709.9 264.2h0M700.8 259.5h0M509.5 363.4h0M536.3 333.2h0M451 163.9h0M702.7 274.9h0M672.4 414.1h0M570.9 234.8h0M598.6 300.8h0M588.2 230.3h0M456.1 164.9h0M672.1 400.7h0M683.2 311.8h0M613.8 226h0M557.9 216.9h0M585 356.2h0M547.8 334.5h0M528.1 376.5h0M494.2 431.9h0M683.7 315.8h0M703.3 404.6h0M711.2 267.1h0M660.6 295.1h0M555.6 327.8h0M603.9 234.5h0M552.6 376.6h0M626.6 290.2h0M662.8 397.5h0M676 284.7h0M597.3 297.3h0M716 260.3h0M528.3 211.5h0M541.9 350.1h0M682.6 313.3h0M559.8 211.4h0M549.6 343.9h0M551.8 211.7h0M443.7 152.4h0M591.5 215.1h0M583.5 327.7h0M640.8 323.6h0"/>
<path stroke="#0e6b90" d="M556.9 343.8h0M566.2 229.4h0M515.1 362h0M614.8 290.8h0M633.4 296h0M500.3 367.1h0M590.4 374.2h0M566.9 333.8h0M455.1 158.6h0M627.9 294.2h0M567.7 325.2h0M681 311.9h0M684.8 312.6h0M570.2 324.5h0M732.4 408.5h0M562.8 338.8h0M540.4 344.2h0M662.9 286.8h0M545.6 214.4h0M638.5 315.6h0M511.8 363.8h0M659.2 290.6h0M575 212.4h0M673.4 272.6h0M540.6 221.2h0M569.8 361.4h0M684.4 286.9h0M444.4 155.7h0M575.8 219.4h0M543.5 210.9h0M578.5 230.4h0M557.4 226.3h0M544.8 222.1h0M579.9 326.7h0M589.3 226.6h0M431.5 152.7h0M554.2 347.4h0M537.9 214.6h0M631.3 295.1h0M635.7 379.1h0M572.7 376.7h0M689.3 289.9h0M557.7 352.6h0M548.8 358.1h0M509.6 365h0M595.6 341.6h0M550.9 376.7h0M535.4 359h0M544.3 223.4h0M434 150.4h0M439 158.4h0M558.5 208.7h0M601.5 231.9h0M566.4 237.9h0M556 209.4h0M692.9 267.7h0M440.9 154h0M650.5 419.5h0M674.8 407.4h0M462.8 155.9h0M564.5 348.1h0M547.2 357.3h0M683.8 310.8h0M589.4 238.4h0M670.8 288.3h0M551.8 346.6h0M591.1 233.4h0M565.7 354.5h0M669.4 386.8h0M569.8 376.3h0M461.2 157.5h0M639.3 290.2h0M548.4 226.7h0M586.2 226h0M587.7 350.7h0M589.4 352.1h0M578.2 375.7h0M680 388.1h0M712 263.7h0M578.7 211.1h0M515.8 362.8h0M559.8 214.6h0M589.2 221.6h0M453 156.3h0M595.2 441.4h0M569.3 327.2h0M642.1 296.9h0M448.6 157h0M548.9 354.6h0M566.2 211.3h0M556.9 228.5h0M702.6 409h0M563.2 376.4h0M608 381h0M559 347.4h0M564.1 348.6h0M553.8 352.7h0M584.7 356.8h0M571.4 227.9h0M558.5 222.3h0M582.4 358.2h0M661 295.9h0M560.2 350.7h0M576.5 229.5h0M634.9 296.9h0M589.9 354h0M553.6 212.6h0M688.5 310.7h0M692.6 311.3h0M538.9 210.3h0M538.8 349.7h0"/>
<path stroke="#007491" d="M452 153.3h0M557.3 221.7h0M446.4 160.8h0M553.1 376h0M552.3 357.6h0M551.7 227.5h0M699 265.7h0M553.9 359.3h0M680.7 312.7h0M554.4 376.1h0M554.5 360.5h0M662.7 320h0M573.4 228.1h0M652.1 419h0M679.3 287.6h0M554.2 345.6h0M666 275.3h0M675.9 271.1h0M538.1 364.4h0M687.2 305.2h0M582.3 323.1h0M534.6 356.8h0M568.4 338.8h0M675.9 308.7h0M538.7 339h0M621 382.6h0M574.8 211.6h0M557.8 209.8h0M610.2 378.9h0M521.1 372.5h0M638 381.5h0M671.7 268.5h0M548.1 213.1h0M447.9 157.8h0M544.9 353.7h0M582.3 338h0M569.2 222.1h0M550.9 220.5h0M549.6 343.4h0M558.6 353.9h0M579.4 327h0M671.6 387.7h0M555.9 232.4h0M682.1 415.7h0M683.7 289h0M650.1 416.2h0M542.1 350.8h0M657.8 382.9h0M437 151.5h0M537.8 349.3h0M512.6 363.8h0M643.3 382.2h0M585.1 350.5h0M658.9 406.2h0M454.8 152.4h0M653.8 291.6h0M576.2 355h0M430.2 139.8h0M675.2 270.1h0M552.3 355.5h0M543 348.5h0M436.6 157.3h0M533.7 216.2h0M683.2 270.2h0M553.9 213.8h0M555.1 337.8h0M561.6 337.8h0M542.6 214.7h0M589.8 327.4h0M556.5 214.6h0M601.8 294.1h0M681.3 268.3h0M566.6 351.3h0M686.5 288.1h0M556.4 350.5h0M653.4 425.6h0M566.6 351h0M445.1 160.2h0M514.4 362.7h0M584.7 345.8h0M593.1 221h0"/>
<path stroke="#007d90" d="M519 360.4h0M437 155.1h0M564.7 360.5h0M568.1 354.9h0M652.1 417.3h0M551.7 337.5h0M559.3 357.2h0M558.2 424.4h0M544.2 362.6h0M436.2 150.3h0M556.9 360.1h0M649.8 296.5h0M627.8 381.3h0M427.7 141.4h0M572.6 328.5h0M548.4 220.6h0M432.3 150h0M451.9 160.1h0M576.2 358.3h0M518.4 364.3h0M563.8 436.6h0M543.1 220.1h0M638.4 290.1h0M630.9 323.1h0M558.9 336.2h0M686.4 268h0M697.9 265.9h0M625 324.2h0M684.1 268.2h0M604.4 378.1h0M554.5 222h0M641 291.8h0M432.9 151.1h0M617.9 293.1h0M584.1 366.8h0M584.4 374.6h0M565.3 375.7h0M561.4 360.2h0M429.9 152.8h0M693 261.6h0M556.4 375h0M657.2 314.8h0M625.6 380.5h0M514.8 363.8h0M559.9 356.4h0M569.3 336.8h0M606.7 377.8h0M440 153.5h0M431.4 150.5h0M572.6 224.6h0M546.9 220.8h0M528.8 362.4h0M636.2 383.8h0M573.6 374.5h0M617.1 292.2h0M595.9 375.4h0M649.6 292.6h0M539.8 338.8h0M552.4 363.8h0M537.1 345.6h0M639.5 381.7h0M544.5 374.3h0M581.8 326.3h0M556.9 376.3h0"/>
<path stroke="#008690" d="M592.3 374h0M433 145.1h0M430.3 143.7h0M431.2 150.3h0M622.8 323.5h0M433 143.4h0M619 295.3h0M698.2 261.8h0M564.2 345.8h0M427.8 143.2h0M427.4 149h0M431.4 148.4h0M634.8 316.7h0M583.3 367h0M552.2 340.4h0M431.5 146.4h0M431.9 144.6h0M571.4 223.1h0M428.2 144.2h0M535.3 364.5h0M540.3 374.4h0M532.8 364.1h0M581.3 375h0M650.9 386.6h0M429 148.7h0M642.3 315.6h0M435.3 143.1h0M682.8 309.2h0M558.3 344.1h0M611.4 326.9h0M541.1 215.1h0M433.3 146.4h0M436.8 156.5h0M584.3 322.5h0M703.9 260.1h0M432.9 148.2h0M682.9 263.7h0M550.2 339.3h0M596.4 378.5h0M595.8 376.8h0M674.1 306.7h0M541.5 359.8h0M426.4 152.5h0M554.2 360.7h0M424.3 147.9h0M553.4 219.5h0M567.8 361.9h0M560.6 222.2h0M639.6 293.8h0M433.5 145.7h0M667.9 409h0M677.6 386.7h0M516.4 364.1h0M526.2 360.3h0M431.8 146h0M698.7 262.2h0"/>
<path stroke="#00908e" d="M537.3 373.8h0M544 351.9h0M579.6 369.8h0M512.3 364.8h0M577 344.1h0M601.6 321.4h0M430.5 149.4h0M534.1 366.4h0M597 325h0M551.4 373.9h0M625.8 382.2h0M658.3 291.5h0M537.3 370h0M661.7 294.5h0M432.2 152.2h0M554.7 366.2h0M563.1 342.6h0M656.7 385h0M675 387.1h0M523.8 365.6h0M695.6 390.3h0M614.4 299h0M599.3 376.3h0M541.7 371.7h0M647.4 315.8h0M685.2 290.2h0M521.4 363h0M617.4 379.1h0M537 371.1h0M559 218.8h0M612.1 324.9h0M433.8 150.8h0M636.5 381.7h0M586.4 352.2h0M592.1 340.6h0M596.4 377.6h0M577.5 374.3h0M559.1 344h0M548.8 373.4h0M428.1 142.9h0M513.5 366.4h0M660.4 320.6h0M569.5 374.9h0M653.3 315.9h0"/>
<path stroke="#00988b" d="M527.6 360.3h0M676.8 291.1h0M553.4 216.2h0M537.9 369h0M537.2 365.9h0M570.1 362h0M523.9 369.9h0M545.1 374h0M668.6 289.6h0M676.4 309.8h0M544.7 365.1h0M554.1 343.7h0M582.3 324.8h0M531.3 362.8h0M658.1 293.6h0M694.7 388.6h0M529.5 362.5h0M571 365.6h0"/>
<path stroke="#00a188" d="M539.8 361.9h0M666.2 290.8h0M647.5 382.9h0M608.3 379.9h0M600.8 377h0M568.5 342.8h0M588 343h0M564.2 341.7h0M539.8 373.7h0M666.1 291.7h0M683.6 266h0M545.2 366.2h0M579.6 344.3h0M534.4 369h0M577 367.7h0M582.5 374.3h0"/>
<path stroke="#00a983" d="M590.3 343h0M671.2 292.9h0M574.9 369h0M531.6 365.5h0M532.5 370.5h0M567.7 342.2h0M578.7 369.7h0M580.2 369.7h0M557.8 365.9h0M576.2 368.9h0M542.3 369.4h0M537 366.4h0M671.7 291.6h0M537.3 364.9h0M574.6 374.4h0M539.3 362.9h0M551.5 367.9h0M536.4 370.1h0M535.1 370.3h0M657.1 384.7h0"/>
<path stroke="#00b17c" d="M558.2 341.8h0M619.2 381.3h0M572.5 367.4h0M671 291.4h0M574.7 373.5h0M652.2 319.7h0M695.5 388.6h0M572.9 366.6h0M500.1 428.1h0M539 371h0M601.7 324.7h0M534.5 366h0"/>
<path stroke="#00b973" d="M575 370.3h0M621.2 323.7h0M563.5 369.5h0M556.9 369h0M551.6 370.2h0M553.3 370.7h0M561.9 372.3h0"/>
<path stroke="#00c168" d="M639.5 321.3h0M516.9 370.8h0M568.9 366.1h0M578.4 343.2h0M668 292.6h0M583.9 369.1h0M537.3 372.1h0M592.3 342.9h0M535.6 368.1h0M577 370.1h0M577.1 343.6h0M576.7 343.8h0M571 343.2h0M572.3 373.7h0"/>
<path stroke="#00c85a" d="M570.1 342h0M587.2 323.9h0M516 367.7h0M652.4 318.5h0M521.9 368.7h0M573.3 343.7h0"/>
<path stroke="#36cf48" d="M575.4 339.9h0"/>
<path stroke="#5fd52f" d="M540.1 371.4h0M539.8 367.8h0M588.7 324.3h0"/>
<path stroke="#81d900" d="M541.5 368.3h0M577.7 342.4h0M572.9 370.1h0M574.5 372.1h0M567.9 373.3h0"/>
<path stroke="#a0de00" d="M578.3 342.3h0M581 342.6h0M656.3 318.1h0"/>
<path stroke="#c0e000" d="M575.3 341h0"/>
<path stroke="#dce300" d="M578 341.1h0"/>
<path stroke="#f5e500" d="M577.9 341.7h0M570.8 372.6h0"/>
<path stroke="#4c005e" d="M590.2 368h0M646.8 307.8h0M518 223.8h0M533.7 195.8h0M650.9 304.2h0M719.7 248.4h0M685.7 240.6h0M684.4 418.3h0M637.2 320h0M443.1 168.7h0M489.1 191.8h0M485.7 373h0M676.6 241.3h0M651.1 300.2h0M693.2 314.4h0M509.3 179.8h0M577.8 446h0M534.1 227.8h0M668.8 297.1h0M556.9 184.8h0M708.9 240.4h0M595.1 367.8h0M486.3 188.8h0M587.2 307.6h0M632.8 312.8h0M558.9 439.3h0M557.5 199.9h0M596 359.6h0M617.9 418h0M672.1 317.4h0M619.5 445.1h0M434.1 162.9h0M547.9 241.2h0M459.2 172.4h0M648.7 426.3h0M649.5 309h0M635.2 248.7h0M591.4 307.3h0M684.3 297.6h0M618.9 297.1h0M548.6 384.5h0M586.6 249.6h0M667.7 242.5h0M691 243.3h0M551.2 419.4h0M463.5 174.9h0M552.5 245.3h0M547.9 193.2h0M686 242.3h0M557.7 429.3h0M582.1 303.4h0M645.4 304.1h0M490.7 177.5h0M500.9 377h0M663.8 308.8h0M642.7 414.4h0M511.8 190.3h0M560.3 327.4h0M605.1 244.9h0M638.6 243h0M463 170.1h0M662.6 401.6h0M565.6 186h0M444.4 168.7h0M689 242.4h0M694.4 390.4h0M696 241.6h0M604.1 312.9h0M696.8 241.2h0M492.8 191.9h0M545.2 448.9h0M705.4 400h0M590.7 246.4h0M626.6 301.5h0M663.9 242.2h0M595.3 301.9h0M517.8 218.3h0M652.1 252.7h0M588.6 314.9h0M426.9 159.7h0M453.6 169.7h0M580.9 302.2h0M726.5 242h0M587.4 302.1h0M511.7 188.3h0M527.6 196.4h0M581.2 190.2h0M429.4 162.7h0M558.2 183.6h0M540.3 384.1h0M681.9 241.8h0M601.8 445.1h0M566.5 443.4h0M622.6 308.3h0M441.4 167.7h0M650.8 438.3h0M615.3 302.6h0M636.4 398.4h0M607.2 412.9h0M593.1 306.6h0M532 224.8h0M543.3 448.6h0M580.1 247.3h0M712.7 240.7h0M515.2 193h0M613.8 300.7h0"/>
<path stroke="#4e106b" d="M576 446.3h0M514.7 190.3h0M669.9 418.8h0M575.6 446.2h0M506.4 191.3h0M686.7 243.9h0M471.8 168.9h0M647.7 424.7h0M551.6 203.6h0M612.2 316.6h0M526.4 376.3h0M550.6 246.2h0M550.3 186.3h0M451.7 171.1h0M634.6 312.6h0M458.3 172.1h0M656.5 409.7h0M688.5 296.7h0M633.5 272.6h0M565 247h0M625.7 306.8h0M604.3 415.7h0M602.5 205.2h0M638 244.9h0M647.8 284.6h0M601.6 313h0M422.1 158.4h0M666 299.4h0M503.3 189.4h0M646.6 247.3h0M487.3 189.7h0M540.2 201.6h0M438.2 165.4h0M617.1 447.7h0M616.4 417.6h0M655.8 279.6h0M455 170h0M684.1 413.1h0M553 248.8h0M522.6 379.1h0M658.6 241.3h0M648.6 307.4h0M496.5 179.4h0M495.6 188h0M639.5 205.4h0M657.1 423.5h0M636.3 438.7h0M711.3 282h0M578.4 249.6h0M631.9 268.5h0M562.1 437h0M459.7 174.5h0M504 377.1h0M715.8 243.5h0M567 423.9h0M554 309.7h0M611.9 246.5h0M719.5 268.1h0M444.8 167.6h0M528.2 191.1h0M594 356.4h0M506.4 178.1h0M548.7 200.2h0M444.1 167.8h0M722.5 260.1h0M701.3 300.3h0M625.9 306.7h0M657.7 302.9h0M560 296.3h0M638 440h0M603.5 316.5h0M588.4 415.5h0M509.1 377.4h0M604.4 204.7h0M522.6 199.4h0M519.5 221.2h0M541.1 293.9h0M566.2 200.8h0M528.4 187.2h0M691.5 293.5h0M555 185h0M559.9 446.9h0M644.5 246.9h0M664.3 296.4h0M527.8 196.8h0M648 400.7h0M489.9 200.2h0M479.8 177.2h0M652.9 268.2h0M712.4 279.7h0M432.9 161.7h0M551.1 324.8h0M588.1 362h0M681.8 246.1h0M547.1 198.8h0M662.1 285.2h0M465.4 171.7h0M712.8 244.3h0M584.3 297.7h0M678.7 246.9h0M637 441.1h0M709.7 287.6h0M437.8 160.5h0M428.1 160.2h0M648.4 395h0M591.3 247h0M519.9 181.8h0M527.5 378.6h0M654.2 312.1h0M621.4 307h0M476.4 174.7h0M641.4 319.1h0M721.9 260.3h0M435.1 164.5h0M577.9 189.2h0M564 327.2h0"/>
<path stroke="#4e1e75" d="M636.5 420.1h0M569.6 200.8h0M585.1 360.3h0M621.2 205.8h0M586.9 360.6h0M653.6 248.6h0M628.7 309.8h0M572.9 328.1h0M560.2 328.5h0M536.4 424.2h0M457.9 172.5h0M511.3 190.6h0M587.5 294.5h0M520.1 182.8h0M549.8 236.1h0M708.8 245.6h0M546 233.2h0M515.1 334.3h0M468.8 171.1h0M685.1 316.8h0M656.4 288.1h0M669.5 411.4h0M653.9 275.3h0M538.2 241.2h0M672.8 244h0M590.9 333.7h0M528.5 181.7h0M631.7 271.4h0M611.1 310.1h0M552.3 432.9h0M684.1 411.2h0M599.6 286.9h0M698.1 241.8h0M568.6 443.7h0M603.9 245.9h0M708.5 280.9h0M525 219.8h0M679.4 392.1h0M505 180.5h0M588.4 364h0M688.3 244.3h0M619.6 313.5h0M619.7 268.6h0M457.4 168.2h0M607.8 330.8h0M534.9 220.8h0M642.6 235.6h0M588.7 314h0M695.9 392.7h0M630.9 304.7h0M676.8 418.8h0M633.2 304.1h0M564.8 328.3h0M578.2 305.2h0M633.7 315.5h0M666.5 309.3h0M523.2 193.3h0M545.9 184.5h0M556.7 448.2h0M562.7 185.6h0M551.7 234.1h0M623.7 245.3h0M688.8 243.2h0M536 227.3h0M673 319.1h0M469.7 173h0M674.1 421.4h0M602.2 313.5h0M630.6 300.8h0M522.9 193.2h0M656.3 304.6h0M604.6 207.8h0M580.4 295.9h0M530.6 233.4h0M674.5 280.2h0M690.7 312.5h0M681.1 244.9h0M570.6 331.3h0M506.3 182h0M599.2 246.4h0M624.7 305.1h0M656.2 277.8h0M547.6 426.3h0M651.1 432.5h0M666 244.6h0M608.4 300.3h0M520 337.1h0M559.8 201.9h0M681.1 281.6h0M586.7 363.1h0M649 301.5h0M445.5 166.5h0M486.2 177.2h0M603 437.7h0M626.6 440.9h0M564.2 440.5h0M445.7 163.3h0M569.9 188.1h0M466 175.9h0M530.2 182.3h0M478.6 166.1h0M547.1 327.8h0M666.9 246.1h0M606.8 318.4h0M570.1 429.5h0M438.7 161.3h0M640.5 303.3h0M563.3 434.1h0M578.8 381.3h0M524.9 206.4h0M660.9 246.5h0M554.6 425.9h0M588.6 294.6h0M657.4 259.2h0M558.9 206.1h0M605.4 308.7h0M634.7 314.6h0M530 185.5h0M601.1 204.9h0M663.8 298.5h0M678.1 245.3h0M710.5 251.3h0M522.2 193.3h0M709.8 274.3h0"/>
<path stroke="#4b2c80" d="M586.3 239.2h0M540.2 184.8h0M656.5 312.1h0M664.9 250h0M624.1 301.5h0M542.9 328.2h0M535.8 204.4h0M526.2 185.2h0M542.7 378.7h0M532.4 434.1h0M672.6 295.8h0M614.4 231.3h0M692.3 285.5h0M576.6 447h0M671.1 286.5h0M589 213.3h0M444.4 163.3h0M681.9 427.7h0M664.7 389.3h0M638.7 315h0M638.1 313.9h0M550.2 203.4h0M567.9 218.5h0M622.6 304.5h0M562.7 241h0M640.4 232.4h0M685 251h0M649 308.4h0M612.2 385.7h0M649.1 273.8h0M689.6 418.8h0M638.6 270.2h0M553.1 187.4h0M547.5 236.2h0M620.3 310.8h0M624.6 242.7h0M677.2 251.7h0M616.4 392.5h0M625.2 441.2h0M553.7 238.9h0M659.2 261.2h0M587.3 331.3h0M714.1 245.1h0M675.3 286h0M602.8 299.5h0M584.2 238.6h0M527.2 379.8h0M532 218.8h0M642.5 301.2h0M561.7 202.4h0M645.2 388.6h0M604.8 215.3h0M716.4 268.6h0M665.1 272.2h0M608.8 373h0M517.7 332.7h0M693.4 246.3h0M512.5 349.9h0M625.8 435.1h0M536.6 204.4h0M687.2 278.5h0M633.1 304.2h0M669.5 249.8h0M513.8 181.6h0M544.1 329.7h0M552.8 235.3h0M665 315.7h0M568.1 184.5h0M612.3 329h0M646.5 304.3h0M583.7 204.7h0M491 175.6h0M632.1 416.1h0M686.2 244.8h0M537.7 185.4h0M498 189.5h0M664.4 245h0M556.9 328.6h0M665.4 286.1h0M663 310.7h0M682.9 254.3h0M686 317.4h0M562.9 185.2h0M563.9 243.6h0M567.2 247.7h0M627.1 428.8h0M586.8 379.9h0M643.5 403.6h0M611.2 313.5h0M507.3 179.9h0M648.9 378.9h0M661.4 285.3h0M592.7 370.9h0M514.2 218.6h0M684.2 283.6h0M586.4 244.5h0M534.8 222.1h0M590.3 211.6h0M566.6 245.9h0M501.9 363h0M498.6 189.7h0M559.1 201.1h0M706.2 283.9h0M468.9 167.2h0M658.9 282.4h0M566.7 329.6h0M667.7 297.6h0M576.3 206.2h0M608.1 246.1h0M514.1 182.7h0M597.5 329.3h0M654.8 291.4h0M590.1 245.6h0M531.2 327.7h0M531.4 224.4h0M622 387h0M671.2 428.5h0M511.2 181.3h0M462.8 167.2h0M559.7 204h0M679.1 417.1h0M689 283.8h0M705.6 283.6h0M523.5 210.2h0M558.4 416.2h0M573 244.8h0M669 253.7h0M676.4 253.5h0M615.6 395.2h0M515.6 425.6h0M591.9 369.3h0M568.6 196.5h0M645.3 325h0M580.5 331.5h0M602.9 207.4h0M554.8 200.6h0M680.6 421h0M508.5 180.6h0M605.8 415.8h0M560.3 433.8h0M540.6 184.7h0M554.6 234.2h0M511.1 180.5h0M530 209.5h0M513.5 339h0M659.9 248.3h0M469.6 168.9h0M720.1 261.7h0M590.7 333.7h0M550.1 331.1h0M556.6 202.7h0M552.6 185.4h0M637.3 227.7h0M513.4 358.3h0M588.2 297.9h0M608.4 434.9h0M547.9 195.2h0M511.9 377.3h0M499.8 212.7h0M703.5 312.7h0"/>
<path stroke="#463786" d="M500.6 179.7h0M590.9 245.1h0M552.6 205.2h0M563.5 207.5h0M576.8 206.6h0M510.4 210.4h0M680.1 303.1h0M572.9 212h0M642.3 230.5h0M577 245.5h0M587.4 333.5h0M471.6 167.3h0M678.6 254.7h0M667.4 285.4h0M693.6 257.3h0M697.7 287.1h0M548.7 233.8h0M533.6 329.6h0M595.8 212.8h0M585.1 234.3h0M678.8 301.9h0M579.1 237.2h0M668.4 260.4h0M654.5 272.3h0M664.6 268.1h0M541.8 202.4h0M542.9 228.6h0M689.6 312.6h0M592.1 233.3h0M511 336.9h0M597.3 340h0M653.1 324.1h0M570.4 331.2h0M530.5 331.9h0M589 242h0M712.5 273.1h0M604.4 209h0M670.5 256.2h0M536.8 222.5h0M676.2 247.3h0M579.5 228.6h0M553 242.1h0M687.7 247.4h0M538.8 328.5h0M539.2 228h0M673.2 282.9h0M595 213.6h0M673.2 249.2h0M560.4 236.3h0M542.1 226.1h0M609.9 299.4h0M704.4 281.2h0M557.8 236.4h0M526.3 213.6h0M588.6 364.6h0M530 339.7h0M580.7 212.8h0M620.3 243.6h0M555.9 239h0M589.2 294.2h0M696.2 287.3h0M560.4 231.5h0M467.2 167.3h0M643.3 271.8h0M665.9 432.1h0M588.2 245.1h0M670.9 280.6h0M637.4 308.9h0M580.5 378.3h0M585.3 206.5h0M595.2 421.3h0M626.9 269.5h0M646.6 272.7h0M582.5 336.6h0M570.7 420.2h0M700.5 286.7h0M651.6 274.2h0M578.9 238.1h0M502.6 365.4h0M695 254.7h0M580.7 188.1h0M693.9 246.7h0M528.4 331.2h0M691.5 278.5h0M643.7 313.2h0M666.9 253.3h0M441.7 161.8h0M509.1 192.2h0M641.5 214.8h0M524.3 212.4h0M653.1 323.4h0M699.3 267.3h0M694.5 276.3h0M710.9 258.2h0M591.5 331.3h0M546.8 229.6h0M656.1 261.7h0M701.8 247.9h0M504.6 363.6h0M666.2 287.4h0M659.1 258.7h0M471.2 166.1h0M580.2 187.3h0M707.5 280.6h0M624.9 314.6h0M696 276.6h0M695.2 422.1h0M531.6 184.3h0M673.1 287.4h0M556.7 243.5h0M545.4 187.3h0M695.7 249.1h0M543.8 378.8h0M579 215.4h0M555 378.2h0M603 232.8h0M690.7 285.3h0M657.1 286.8h0M703.1 399.3h0M656.3 323.7h0M621.2 434.4h0M679.1 322h0M599.6 350.4h0M526.7 208.4h0M544.9 232.7h0M711.1 250.7h0M533.2 228.1h0M567.3 242.2h0M651.7 432.9h0M668.1 249.9h0M662.7 248.1h0M554.1 210.1h0M525.8 207.2h0M692.9 289.8h0M560.4 329.5h0"/>
<path stroke="#41438c" d="M581.3 205.8h0M672.6 275.9h0M600.6 440.9h0M678.6 260.3h0M509.8 374.5h0M698 406.9h0M686.8 293.1h0M592.4 336.1h0M544.6 230.7h0M583.9 208.9h0M555.9 425.1h0M648.7 285.6h0M589.3 294.8h0M672.3 294.7h0M619.2 385.3h0M667.3 411.3h0M502.2 374.2h0M538 186.4h0M560.6 230.4h0M478.1 162.1h0M539.8 203.1h0M669.5 248.8h0M462.8 167.1h0M690.9 403.5h0M697 275.8h0M669.1 323.1h0M669.3 271.8h0M699.8 281h0M659.7 297h0M691.3 246h0M615.2 301.3h0M564.3 205.7h0M672.5 274.9h0M656.3 388h0M702.8 251.9h0M599.2 214.9h0M551.5 326.9h0M660.8 285.9h0M697 251.3h0M714.8 247.4h0M631.8 271.2h0M672.8 398h0M553.4 232.4h0M502.1 363.2h0M657.2 288.8h0M686.5 385.9h0M640.7 270.5h0M555.5 329.9h0M551.9 209.4h0M505.6 365.6h0M540.2 225.1h0M575.4 213.3h0M582.6 363.7h0M577.8 208.4h0M676.6 256.8h0M658.9 286.3h0M593 357.2h0M637 236.7h0M531.3 338.4h0M586 239.3h0M693.5 278h0M691.3 246.1h0M647.7 385.7h0M530 330.9h0M718.4 260.4h0M560.2 203.2h0M699 273.8h0M549.7 186.2h0M518.4 336.8h0M572.5 437h0M666.9 321.9h0M665.8 279.4h0M556.1 237.4h0M697.9 249.8h0M582.6 208h0M670.7 258.3h0M547.9 211.8h0M658.3 268.5h0M543.7 229.3h0M657.2 265.5h0M699.1 422.1h0M570 218.6h0M534.1 332h0M663.8 262.1h0M533.3 221.4h0M684.7 250.9h0M595.8 330.6h0M663.3 262.3h0M688.1 399h0M714.8 403h0M697.8 271.2h0M563.8 333.3h0M640.8 236.4h0M709.9 246h0M542.5 206.9h0M668.5 287.7h0M591.5 210.3h0M522.4 211.2h0M684.5 287.2h0M680.3 288.2h0M582.1 358.5h0M439.9 161.2h0M680.7 254.7h0M693 400.1h0M647.2 328h0M553.7 220.8h0M554 327.2h0M713.4 251h0M591.5 236.9h0M625.4 343.5h0M595.9 352.1h0M559.1 236.1h0M564.3 212.6h0M691.4 282.3h0M654.7 263.7h0M621.2 316h0M581.2 321.5h0M659.8 289.5h0M554.9 377.4h0M516.3 376.5h0M676.7 400.6h0M556.3 228.1h0M627.9 327h0M601.3 374.2h0M692.6 285.8h0M663.6 283.8h0M586.2 240.5h0M548.4 380.4h0M673.2 293.4h0M669.8 307.2h0M606.2 329h0M670.9 416.4h0M570.2 206.6h0M597.3 239.3h0M533.8 328.7h0M694.9 401.4h0M503.5 362.9h0M661.1 410.3h0M541.6 333h0M682.5 309.5h0M574.5 229.1h0M592.9 373.8h0M540 339.8h0M587.9 215.3h0M702 251.5h0M666.1 281h0M569.4 333.7h0M596.6 226.5h0M562.7 433.4h0M654.8 267.7h0M501.9 180.5h0M585.7 333.5h0M658.5 269.2h0M687.4 398.5h0M578.9 351.6h0M637.5 270.7h0M667.9 277.1h0M563.9 210.3h0M684.6 292.1h0"/>
<path stroke="#394e8e" d="M703.6 275h0M719.3 259.1h0M571.5 337.1h0M706.5 251.6h0M577.3 325.9h0M601.4 238.6h0M635.5 299h0M604.3 239.2h0M553.5 326.6h0M532 352.7h0M586.3 240.5h0M555.7 353.5h0M657.6 279.9h0M731.4 405.2h0M661.9 257.8h0M701.9 274.5h0M671.5 412.1h0M582 438.3h0M678.6 404.2h0M551.4 221.6h0M676.1 260.5h0M564.8 354.7h0M704.3 281.1h0M445.4 162.1h0M555.6 209.9h0M705.4 274.2h0M528.1 213.4h0M669.1 282.3h0M695.3 273.8h0M576.1 328.1h0M570.5 242.3h0M555.2 238h0M712.6 271.1h0M645.8 311.2h0M531.9 218.5h0M558.8 351.4h0M549.7 205.8h0M645.7 288.6h0M507.5 374.6h0M711.5 258.6h0M663.4 251.3h0M559.6 204.3h0M684.4 284.5h0M621 384.3h0M660.2 277.3h0M688 270h0M561.5 211.6h0M696.5 420.5h0M578.9 449.8h0M664.6 286.4h0M542.8 205.4h0M467.5 161.9h0M688.9 401.7h0M577.4 436h0M535 221.7h0M683.3 274.1h0M513.8 373.2h0M536.3 350.5h0M675.5 256.9h0M697.6 257.7h0M475.6 160.9h0M690.7 280.5h0M561.5 235.6h0M567.6 235.3h0M675.8 259.4h0M710.1 273h0M601.6 423.3h0M677.1 258.9h0M463.6 165.3h0M569.4 354.6h0M550.6 356h0M688.3 246.4h0M679.3 390.5h0M609.9 212.7h0M569.6 435.5h0M593.6 355.4h0M513.1 190.1h0M579.1 231.3h0M534.5 350.3h0M654.3 312.1h0M622.4 292.7h0M669.4 271.3h0M587.3 348.6h0M531.6 348.2h0M635.5 380.6h0M691.8 269.5h0M698.9 407h0M689.1 303.4h0M452.6 153.7h0M575.4 380.1h0M715.5 409.7h0M554.5 229h0M579.6 213.4h0M687.3 257.8h0M586.9 365.9h0M510 213.8h0M678.4 274.3h0M659.7 262h0M639.3 324h0M679 282.4h0M559 207.8h0M536.8 347.2h0M568.1 241.9h0M671.9 264.7h0M668.9 266h0M557.5 349.5h0M469.6 163.7h0M557.6 210.1h0M553.4 328.2h0M576.4 321.8h0M555.4 206.4h0M537.5 350h0M632.5 236.6h0M678.2 388.9h0M683.2 248.8h0M466.2 164.4h0M571.5 440.1h0M705 278.4h0M598.7 229.1h0M632.3 380.2h0M690.8 246.9h0M572.2 210.6h0M664 274.1h0M558.7 204.8h0M578.6 321.4h0M657.8 313.8h0M556.8 357.8h0M559.7 201.7h0M611.5 240.4h0M659.6 262.3h0M583.6 205.6h0M713.4 260.2h0M546.1 204.8h0M606.5 299.8h0M467.7 160.4h0M682.6 254.2h0M561.1 206.4h0"/>
<path stroke="#2f5890" d="M571 355.7h0M570.4 216.7h0M699.7 277h0M507.9 365.7h0M566.8 328.3h0M575.4 353.8h0M679.6 408.7h0M667.5 251.7h0M569 326.2h0M546.5 349.1h0M575.6 333.8h0M574.4 331.1h0M554.4 354.3h0M585.5 230.8h0M669.7 262.1h0M689.9 255.3h0M683.2 280.1h0M558.3 349.1h0M685.9 397.9h0M633.6 385.5h0M687.5 400.8h0M701.3 276.5h0M571.4 377.4h0M603.3 300.8h0M549.6 206.8h0M569.7 228.6h0M525.4 339.7h0M671.7 396.8h0M522.5 428.2h0M670.7 272h0M565.3 207.2h0M453.9 159h0M509.8 369.6h0M600.7 381.2h0M563.2 348h0M710.6 275h0M601.6 221.2h0M691.4 314.4h0M668.5 261.7h0M715.9 262.1h0M547.8 350.3h0M594.5 231.9h0M577.4 329.6h0M507.2 363.5h0M711.2 270.1h0M713.7 402.1h0M579.7 434.2h0M555.6 226.1h0M499.4 368.2h0M572.8 207.6h0M559.1 330h0M579.6 363.9h0M666.8 269.5h0M662 274.5h0M532.2 376.6h0M713.7 404.4h0M585.6 208.4h0M603 217.7h0M564.7 230h0M678.4 251.9h0M681.6 312.6h0M561.8 335.7h0M671.4 285.4h0M689.7 309.5h0M546.4 359.9h0M690.2 271.9h0M588.9 296.1h0M543.9 336.4h0M502 368.6h0M686.5 252.2h0M503.8 364h0M671.1 388.7h0M649.8 272.9h0M593.8 223.2h0M587 336.7h0M551.1 348.5h0M675 274.5h0M594.5 229.1h0M553.8 350.1h0M664.8 387.8h0M634.8 237.7h0M532.5 338.9h0M689.2 311.3h0M564.3 351.1h0M583.5 227.4h0M662.1 398.1h0M693.4 313.8h0M607.4 234.7h0M584 219.6h0M666 256.7h0M668.5 403.7h0M606 327.7h0M453.6 158.3h0M468.7 156.6h0M630.4 435.4h0M453.4 153.4h0M516.3 359.5h0M571.2 228.2h0M565.8 355.6h0M651.5 386.4h0M676.5 382.9h0M612.5 299.4h0M556.1 227.3h0M566.9 209.6h0M567.3 209.9h0M658.6 268h0M596.3 351h0M685.1 262.5h0M453.4 165.3h0M668.9 283.5h0M608.3 232h0M585.9 350.7h0M667.1 276h0M567.6 334h0M697.9 273.2h0M536.4 212.6h0M712.2 263.4h0M656.4 293.1h0M627.1 289.5h0M704.8 252.7h0M466.5 161.5h0M616.2 234.1h0M601.2 382.9h0M560.5 325.4h0M528.3 214.4h0M730.7 404.9h0M655.5 431.7h0M566.8 232.8h0M584.7 361.8h0M554.6 331.1h0M674.5 387h0M462 161h0M520.2 351.4h0M668.6 271.5h0M675.7 264.8h0M578.2 234.2h0M568.2 348.4h0M561 333.3h0"/>
<path stroke="#216291" d="M469.8 165.3h0M611.5 298.9h0M561.6 357.1h0M544.5 357.6h0M684.2 304h0M640.1 426.8h0M592.6 210.8h0M695.1 277.6h0M564.6 336.6h0M542.1 353.4h0M631.4 232.3h0M464.5 161.1h0M592.9 242.3h0M712.7 265.3h0M663.2 272.9h0M537.2 357.5h0M579.5 321.7h0M529.4 345.5h0M664.1 313.5h0M686.3 384.7h0M509.6 362.9h0M696.8 267.6h0M688.9 259.1h0M545.9 227.4h0M713.4 267.1h0M647.7 291.1h0M605.4 374.5h0M682.7 292.1h0M582.3 364.8h0M671.6 264.6h0M592.5 217.8h0M689.7 310.9h0M676.8 312h0M579.4 334h0M670.9 287.5h0M564.2 354.6h0M683.3 426h0M551.4 377.4h0M583.4 220.9h0M582.6 321.8h0M543.4 214.3h0M575.6 236.7h0M661.3 263.8h0M574.5 352.1h0M585 338.2h0M698.2 276.6h0M629 440.7h0M466.5 156.1h0M568.2 218.8h0M682.8 270.3h0M548.5 230.7h0M588.1 373.5h0M641.8 289h0M677 284.7h0M547.3 351.8h0M707.4 256.8h0M582 376.6h0M643.6 294.9h0M545.1 215.5h0M689.5 386.6h0M621.2 295.1h0M589.5 212.9h0M714.1 258.6h0M715.1 409.1h0M523.4 362.9h0M590.7 379.2h0M685.4 275.2h0M532.7 430h0M690.8 272.9h0M441.5 159.4h0M532.2 352.7h0M622.1 298.6h0M582.5 356.9h0M447.6 158h0M599.3 230.8h0M577.2 212.3h0M672.8 270.9h0M635.9 325h0M561.4 348.7h0M509.6 363.1h0M575.5 353.6h0M638.1 381.6h0M462.1 160.5h0M593 234.4h0M660.1 407.9h0M555.7 333.6h0M549.4 345.4h0M595.4 234.7h0M598.4 292.6h0M685.3 422h0M672.8 272.1h0M568.2 225h0M659.3 274.5h0M558.9 345.3h0M516.8 373.4h0M458.6 162.6h0M681.3 311.1h0M534.3 338.6h0M617.4 295.1h0M454 160.8h0M705.5 255.7h0M618.9 237.5h0M598.7 291.8h0M663.9 399.8h0M655.9 418.1h0M609.9 298.1h0M572.8 375.3h0M542.5 214.8h0M580.2 232.9h0M458.5 160.8h0M541.7 439.6h0M535.4 375.7h0M576.4 210.6h0M662.4 261.7h0M686.4 303.9h0M534.6 376.8h0M554.8 213h0M560.6 347.8h0M688.1 313.5h0M634.5 235.7h0M577.5 355.4h0M617.4 293.8h0M693.2 313.5h0M562.1 211.5h0M627.6 291.6h0M668.7 272.1h0M561 224.7h0M564.3 333h0M681.7 411.1h0M705.6 267.1h0M587 231.1h0M684.3 270.8h0M612.1 291.3h0M621.8 383.9h0M566 224.8h0M709.7 254.1h0M562.5 334.9h0M572.6 352.7h0M521.5 373.3h0M560.3 222.1h0M573.8 379.8h0M551.6 329h0M609.1 300h0"/>
<path stroke="#0e6b90" d="M676.1 288.6h0M653.5 291.3h0M468.1 160.5h0M608.9 326.8h0M684.1 287.2h0M562.2 356.7h0M578 228.8h0M713 261.1h0M562.5 222.4h0M595.4 297.1h0M610.4 377.2h0M708.6 263.9h0M598.6 235.9h0M443.6 155.6h0M568.7 224.2h0M572.9 223.8h0M689.2 262.6h0M624.9 325.2h0M541.4 214.6h0M647.6 385h0M687.9 260.6h0M449 157.3h0M588.1 233.1h0M539 359.8h0M649.4 289.7h0M546.6 216h0M555.5 333.8h0M672.4 387.8h0M541.7 355.9h0M666.6 267.3h0M597.9 226.1h0M567.6 333.1h0M584.5 227.5h0M558.1 221.5h0M612.1 297.1h0M559.1 212.8h0M578.4 349.7h0M691.5 389.9h0M567.8 434.2h0M438 157.4h0M591.2 295.7h0M556.7 335.7h0M530.3 361.4h0M562.1 336.2h0M544.2 346.6h0M702.9 264h0M513.4 372h0M445.4 155h0M565.7 230.8h0M580 345.8h0M588 220.3h0M468 162.2h0M543.6 212.3h0M571.9 349.2h0M560 338.6h0M564.1 336.7h0M699.9 260.4h0M675.5 262h0M647 385.3h0M448.5 162.2h0M590.4 295.2h0M599.6 298.2h0M581.3 359h0M567.1 207.6h0M583.2 352.4h0M675.3 289.7h0M565.5 219.8h0M688.2 288.8h0M566.8 325.4h0M584.6 374.7h0M575.6 235.6h0M585.8 349.2h0M577.2 355.4h0M674 270.8h0M652.4 418h0M675.8 280.9h0M510.6 370.3h0M681 268.6h0M649.4 293.9h0M562.5 355.4h0M563.5 220.5h0M551.8 224.7h0M468.4 157.4h0M655.8 390.3h0M536.5 432.3h0M711.9 261.8h0M573.6 236.2h0M590.1 210h0M567.9 226.8h0M580.1 337.6h0M584.9 349.2h0M633.8 383.5h0M574.5 350.6h0M543.2 361h0M604.4 320h0M567.5 376.4h0M582.2 350.4h0M605.6 223.8h0M559 214.9h0M634.6 296.3h0M576.3 354.6h0M545.2 334.2h0M570.9 232.2h0M616.8 291h0M609.7 222.9h0"/>
<path stroke="#007491" d="M559.2 211.3h0M437.9 154.6h0M667 384.1h0M576.9 326.5h0M449.1 152.2h0M434.7 156.9h0M632.7 317h0M659.6 320.6h0M707.7 264.6h0M572.2 361.7h0M600.7 225.1h0M569.1 218h0M547.3 337.5h0M535.3 213.9h0M625.2 380.2h0M533 362.2h0M657.9 386.9h0M549.9 337.3h0M684.1 289h0M691.1 288.3h0M648.3 292.9h0M510.1 362.6h0M570.8 355.7h0M570.8 221.5h0M635.4 323.7h0M691.7 390.3h0M667.3 275.1h0M581.9 365h0M697 260.5h0M587.2 219.5h0M678.1 288.4h0M550.9 217.8h0M563.2 223.7h0M545.1 361.3h0M568 353.5h0M645.8 386h0M570.6 438.4h0M673 287.9h0M447.4 159.4h0M566.9 347.7h0M434.4 153h0M449.4 157.6h0M684.2 312.7h0M572 338.8h0M608.8 295.2h0M571.6 338.6h0M589 231.3h0M617.3 378.1h0M695.8 262.4h0M561.2 344h0M572.9 346h0M549.6 375h0M548.4 224.8h0M611.5 326.8h0M674.3 264h0M439.4 156.1h0M684.1 305.2h0M549.5 358.3h0M536.5 374h0M658.7 296.1h0M542.1 352.6h0M685.5 290.5h0M566.5 335.8h0M566 221.9h0M454.1 158.1h0M682 402.4h0M562.3 351.4h0M449.5 152.2h0M607.5 294.1h0M632.5 290.3h0M650.9 292.2h0M544.1 355.5h0M608.8 327.6h0M612.2 298.2h0M630.3 291.1h0M694.1 263.5h0M644.5 385.1h0M663.3 294.3h0M448.7 154.5h0M696.9 266.1h0M683.2 289.9h0M604.4 377.4h0M715 257h0M451.4 162.7h0M438.6 149.5h0M670.6 270.7h0M644.6 322.3h0M579.7 337.4h0M543.4 216h0M548.2 219.4h0M605 381.5h0M554.2 360.6h0M646.3 288.8h0M643.1 291.6h0M433.6 156.5h0M429.6 154.1h0M447.1 157.6h0"/>
<path stroke="#007d90" d="M563.8 353.1h0M624.6 290.8h0M561.4 221.8h0M431.8 141.8h0M442.7 160.3h0M433.2 151.2h0M573.7 227.8h0M424.8 155.2h0M541.6 363.8h0M634.9 384.8h0M442.5 153.6h0M685.7 409.6h0M541.2 362.4h0M435.1 144.1h0M587.8 339.9h0M572.1 329.2h0M439.7 151.9h0M544.4 375.8h0M447.6 155.7h0M446.9 151.3h0M596.2 222.1h0M725 417.5h0M688.5 304.6h0M439.7 157.6h0M560.5 376.1h0M567.2 227.5h0M677.9 268.3h0M603.2 222.7h0M443.9 153.5h0M580.7 339.4h0M549.2 353.8h0M564.3 363.4h0M429.2 142.6h0M423.5 149h0M512.4 370.2h0M633.8 317.3h0M608.4 295.2h0M560.8 219.8h0M561.4 345.2h0M569.7 218.8h0M699.3 260.1h0M573.6 353.2h0M639.6 322.9h0M600.1 379.4h0M647.9 414.6h0M581.4 326.7h0M451.2 152.7h0M546.2 361.6h0M669.4 385.3h0M431.9 151.4h0M587.1 374.3h0M505.6 368.1h0M562.3 355.9h0M516 372.2h0M586.5 355.5h0M585.6 327.9h0M636.7 382.3h0M524.8 373h0M684.4 388.2h0M423 154.1h0M534.8 218.3h0M528.7 373h0M449 152.5h0M592.7 210.9h0M697.7 261.8h0M675.5 290.2h0M552.2 357.3h0M552.1 347.8h0M722 416h0M689.5 386.4h0M431.8 155h0M591 376.9h0M422 149.3h0M578.3 224.2h0M565.6 359.5h0M536.5 359.3h0M550.6 215.6h0"/>
<path stroke="#008690" d="M556.2 222.8h0M424.4 146.2h0M540.2 373.6h0M592.3 224.5h0M521.2 363.9h0M556.8 360.4h0M425.9 152h0M669.2 416.2h0M577.7 368.9h0M650.5 290.2h0M665.7 290.1h0M433.1 143.6h0M563.3 375.9h0M435.2 141.5h0M517 361.9h0M427 149.3h0M572.5 221.7h0M537.2 214.8h0M516.4 363.4h0M558.7 375.1h0M600.6 319.9h0M428.2 144.4h0M604.7 377.6h0M688.2 264.3h0M431.9 153.7h0M423.9 150.4h0M541.7 362.1h0M699.5 261.8h0M541.8 214.5h0M436.3 150.5h0M581.5 373.3h0M574.9 363.8h0M664.1 292.2h0M435.9 151.6h0M554.3 225.5h0M518.8 363.6h0M426.8 147.3h0M664 313.3h0M435.2 139.5h0M652.7 383.4h0M433.9 145.6h0M433.3 141.9h0M430 151.6h0M680.6 418.2h0M424.5 151.4h0M432.6 145.6h0M545.8 220.4h0M700.8 264.1h0M656.6 385h0M571.7 337.4h0M437.3 151.7h0M421.3 149.7h0M427.6 145.8h0M591.8 376.4h0M608.1 380.7h0M671.8 270.1h0M607.3 377.4h0M579.9 363.4h0"/>
<path stroke="#00908e" d="M635.5 382.3h0M674.5 386.8h0M433.2 141.9h0M590 377.8h0M537.5 362.1h0M552.2 216.2h0M423.3 146.7h0M686.2 313.2h0M554.9 227.5h0M623.8 325.1h0M552.6 342.5h0M680.5 309h0M611.1 320h0M594.5 326.2h0M573.1 364.9h0M691.6 265.9h0M531.5 361.8h0M554.1 213h0M611.6 324.6h0M539.6 212.7h0M548.8 215.6h0M436.7 154.7h0M697.2 265h0M551.7 219.9h0M424.5 149h0M582.4 369.5h0M526.9 365.1h0M587.1 344.4h0M539 362.2h0M426.8 143.8h0M598.3 376.4h0M658.5 314.8h0M563.1 343.7h0M607.6 295.1h0M540.9 214.9h0M681.1 267.1h0M522.4 364.8h0M642.3 323h0M592.3 378.1h0M687.6 308.7h0M673.7 292.4h0M567.7 361.2h0"/>
<path stroke="#00988b" d="M515.2 370.4h0M552.2 374.2h0M689 266.6h0M572.8 363.2h0M554.6 342.5h0M620.3 319.9h0M551.5 366.1h0M587.2 323.1h0M611.8 324h0M603.7 295.5h0M638.9 317.1h0M578.9 374.5h0M578.7 434.7h0M545.3 374.4h0M515.9 366h0M559.4 372.4h0M614.1 380h0"/>
<path stroke="#00a188" d="M556.1 373.1h0M563 340.8h0M542 373.9h0M571.8 339.5h0M514 367.4h0M523.4 372.3h0M556.3 341.2h0M666.4 291.6h0M650.9 315.9h0M578.7 369.8h0M645.5 383.2h0M557.3 373.5h0M520 365.8h0M522.5 367.9h0M623.9 382.4h0M660.7 293h0M521.9 369.4h0M510 368.1h0M607.5 325.6h0M558.6 365h0M678 308.3h0M589.8 323.9h0M516.4 367.4h0M566.7 367.2h0"/>
<path stroke="#00a983" d="M563 340.3h0M552.4 341.9h0M660.4 386.9h0M688.8 387.9h0M556.9 370h0M657.3 293.5h0M517.8 364.1h0M541.4 364.4h0M664 292.7h0M649.2 316.9h0M570.2 342h0M599.8 325h0M568.8 367.9h0M641.1 382.6h0M565.5 369.5h0M597.5 323.8h0M607 324.1h0M629.7 318.4h0M558.5 340.6h0M649.5 382.1h0M573.2 373.4h0"/>
<path stroke="#00b17c" d="M660.9 293h0M542.9 374h0M573.8 369.5h0M570 368.3h0M579.5 368.9h0M566.1 366.3h0M593.6 322.1h0M512.8 369.3h0M663.6 291.7h0M522.6 366.4h0M550 371.1h0M569.5 369.6h0"/>
<path stroke="#00b973" d="M539.8 368.6h0M607.5 320.4h0M513.8 370.1h0M595.1 375.9h0M541.9 365.6h0M587.4 323.6h0M591.5 324.9h0M568.5 367.9h0M535.1 365.6h0M660.8 317.4h0"/>
<path stroke="#00c168" d="M603.2 321.8h0M551.9 369.7h0M616.3 321.8h0M537.3 368.9h0M494 429.5h0M573.1 369.2h0M577 372.3h0M564.5 373h0M646.2 317.7h0M708.5 260.2h0M654.8 292.1h0M547.3 371.6h0M654.8 293.4h0M658.7 293.1h0M592.6 324.3h0"/>
<path stroke="#00c85a" d="M535.2 368.4h0M551.2 369.9h0M571.6 340.6h0M547 369.9h0M651.4 316.8h0M570.6 367.8h0"/>
<path stroke="#36cf48" d="M530.2 370.1h0M571.6 340.8h0M659.2 318.2h0M581.5 343h0M665.2 292h0M575.3 342.5h0M559.5 369.3h0M656.2 317.4h0"/>
<path stroke="#5fd52f" d="M588 323.4h0M631.1 319.6h0M535.3 368.6h0"/>
<path stroke="#81d900" d="M692.7 388.9h0M647.2 319.6h0"/>
<path stroke="#a0de00" d="M572.6 340.6h0M566.8 372.9h0"/>
<path stroke="#c0e000" d="M649.5 318.7h0M577.3 342h0"/>
<path stroke="#dce300" d="M579.5 342.2h0"/>
<path stroke="#f5e500" d="M578.4 341.4h0"/>
<path stroke="#4c005e" d="M718.2 270.2h0M515.2 431.6h0M571.1 189.1h0M542.1 317.7h0M657.7 299.8h0M451.4 169.3h0M518.2 189.3h0M591.4 201.3h0M698.7 291.6h0M568 328.5h0M422.6 156.9h0M426 159.6h0M592.6 380.2h0M673.4 297.6h0M537.2 384.9h0M722.8 269.6h0M665.3 389.9h0M483.9 184.8h0M698.2 241h0M662.3 315.7h0M479.2 173.3h0M588 292.6h0M476.6 184.5h0M599.1 313.2h0M627.6 435.5h0M542.8 448.3h0M609.8 244.3h0M661.4 299.1h0M584.7 249.1h0M482.2 160.2h0M702.2 286.2h0M565 244.4h0M507.1 230.4h0M706 290h0M722.1 256.8h0M564.6 186h0M494.5 186.7h0M721.4 243.2h0M725 261.1h0M626.4 307.8h0M507 188.4h0M609.7 242.8h0M522.4 186.7h0M426.4 161.5h0M677.7 296.2h0M690 294.1h0M671.9 240.6h0M518.8 329.6h0M615.2 300.1h0M575.6 307.2h0M532.6 197.2h0M601.1 309.2h0M532.5 191.4h0M464.4 175.8h0M695.7 242.1h0M606.9 320.4h0M585.3 380.2h0M576.1 329.1h0M641.2 302.5h0M660.7 401.5h0M531.3 226.2h0M519.2 190.6h0M633.1 314.6h0M499 173.6h0M706.2 241.8h0M691.5 241.4h0M698.6 242.1h0M590.6 244.8h0M567.4 443.1h0M558.9 436.8h0M724.2 255.9h0M690.7 241.6h0M547.6 421h0M715.8 242.1h0M590.4 317.6h0M654.4 244h0M548.6 192.8h0M488.5 365h0M642.2 222h0M494.7 374.5h0M647.1 406.4h0M685.8 294.7h0M567.8 433h0M628.9 203.9h0M644.8 308.7h0M678.9 242.6h0M625.3 388.8h0M607.1 204h0M563.6 184.3h0M443.3 167h0M536.6 328.5h0M571.9 250.9h0M718 238.5h0M693.7 396.5h0M688.8 235.4h0M645.9 412.1h0M521 232.1h0M575.5 446.3h0M655.4 284.3h0M687.7 243.6h0M490.1 178.1h0M428.9 162.1h0M552.3 296.9h0M612.2 413.8h0M640.3 440.5h0M583.1 400.3h0M527 433.5h0M532 224.7h0M661 297.6h0M490.1 344.1h0M656.3 241.3h0M631 311.7h0M671.8 242.4h0M453.4 168.8h0M665.5 394.3h0M546.7 429.8h0M470.1 177.2h0M617.6 243.2h0M591.8 249.1h0M577.1 415.9h0M590.8 206.4h0M503.6 177.9h0M640.1 361.8h0"/>
<path stroke="#4e106b" d="M553.3 426.1h0M641.6 304.8h0M460.7 169.7h0M653.5 300.2h0M571 314.8h0M455.1 170h0M670.1 242.5h0M620.2 314.7h0M539.3 225.6h0M656 309.2h0M689.9 242.5h0M639.9 316.3h0M584.4 297.5h0M683.6 238.6h0M692.6 293.5h0M712.6 277h0M563.9 185.6h0M576.3 415.8h0M675.3 407.3h0M455.3 170.4h0M484.6 176.3h0M493.4 177.5h0M591.1 306.8h0M655.9 250.1h0M587.7 207.1h0M568.7 418.8h0M437.9 162.8h0M515.2 200.9h0M569.1 445.9h0M596.4 445.7h0M636.7 424.8h0M629.5 286.8h0M627.3 247h0M573.4 247.9h0M598.3 357.2h0M501.4 361.1h0M656 319.2h0M657.2 246.1h0M598.6 247.3h0M474.9 174.4h0M487.1 179.9h0M498.7 181.7h0M588.5 359.7h0M516.6 179.6h0M592 302.8h0M435.4 164h0M722.3 248.7h0M507.6 430.7h0M533.8 203.9h0M591.8 378.4h0M528 204.6h0M580.3 185h0M601.2 237.1h0M554.1 246.3h0M701.9 286.7h0M567.1 428.9h0M519.8 180.7h0M589.6 293.1h0M487.8 174.6h0M643.4 398.7h0M570.5 328.7h0M532.8 194.9h0M705.7 398.5h0M690.6 316.3h0M528 327.5h0M530 237.6h0M601.3 350.5h0M616.8 267.5h0M667.2 271.6h0M642 221.6h0M562.5 189.5h0M588.3 201.8h0M687.8 308.9h0M559.4 383.6h0M620.3 266.2h0M578.8 190.8h0M523 215.1h0M661.4 297h0M557.2 319.3h0M655.9 440.9h0M590.8 358.8h0M516.5 190.4h0M579 203h0M586.5 362.3h0M655 248.8h0M507.1 189.6h0M611.3 388.7h0M600.3 208.9h0M575.7 320.2h0M588.1 249.5h0M445.2 168.1h0M479.8 186.4h0M549.3 248.4h0M701.9 241.7h0M556.9 324.9h0M650.4 307.7h0M659.3 417h0M576.2 380.4h0M672.9 416.7h0M552.2 296.5h0M656.7 284.5h0M613.6 267.3h0M506.6 178.8h0M684.1 295.6h0M642.2 394.1h0M633.5 301.1h0M513.9 381h0M591.8 207.2h0M574.7 415.7h0M491.8 176.6h0M447.1 164.7h0M591.7 298.7h0M598.1 243.7h0M453.7 169.8h0M569.8 199.8h0M637.4 411.1h0M566.8 246.2h0M456.4 171.2h0M597.9 241.3h0M509.5 190h0M550.2 242.7h0M533.6 221.7h0M569.7 331.5h0M579.2 446.7h0M469.5 174.4h0M671.7 241.1h0M523.1 184.6h0M656.4 300.3h0M542.5 326h0M602.5 443.5h0M529.4 188.9h0M514.9 347.6h0M565 449.4h0M572.9 199.5h0M633.6 308.7h0M707.8 242.4h0M545.1 182.6h0M570.3 202.2h0"/>
<path stroke="#4e1e75" d="M554.6 243.6h0M625 271.4h0M653 304.4h0M597.2 416.7h0M630.4 246.4h0M572.5 331.7h0M558.3 242.9h0M642.4 246.7h0M560.6 186.1h0M524.2 213.4h0M548.4 196.6h0M598.6 354.2h0M607.4 250h0M447 168.7h0M703 287h0M708.9 279.4h0M492.8 176.4h0M585.2 329.5h0M547.9 234.4h0M625.9 300.8h0M584.2 292h0M565.2 201.8h0M574 244.5h0M581.7 187.9h0M592.1 306.5h0M422.3 159.8h0M647.1 310.4h0M660.4 404.4h0M571.2 445.9h0M481.4 175.8h0M492.9 179.6h0M578.6 185.2h0M604.7 312.7h0M593.1 204.9h0M488.3 175.9h0M633.4 307.2h0M607.3 209h0M657.3 301.4h0M684.4 425.5h0M532.5 182.6h0M588.6 299.4h0M584.1 250.7h0M579.6 237h0M518.2 425.9h0M548.7 239.4h0M519.3 181.5h0M547.7 202.7h0M656.6 261h0M615.9 312.8h0M695.5 288h0M435.7 164.6h0M498.3 205.9h0M523.6 214.7h0M577.1 238.7h0M626.7 301.1h0M557.4 447.3h0M688.5 416.8h0M566.4 204.2h0M691.8 303.2h0M654.3 323.6h0M599 339.3h0M631.5 309.4h0M617.9 446.8h0M530.6 432.4h0M660.2 310.4h0M682.7 314.8h0M607.8 245.7h0M641.4 424.9h0M701.4 243.7h0M680.7 419.9h0M659.8 425.2h0M584.8 250h0M511.1 182.2h0M652.5 301.7h0M459.1 170.4h0M515.1 183h0M647 304.9h0M626.9 287.3h0M481.1 175h0M555.9 293.3h0M644.9 313.2h0M500 326.3h0M663.3 306.5h0M660.9 312.4h0M656.1 303.4h0M699.1 314.8h0M605.2 301.1h0M513.1 193.8h0M556 247.5h0M548.9 235.4h0M651.8 324.3h0M682 298.1h0M669.9 413.9h0M621 270.9h0M638.1 303.3h0M544.2 183.7h0M718.7 244.3h0M722 256.7h0M494.6 358.2h0M502.1 179.3h0M647.8 274.3h0M520.6 191.5h0M554.2 328.1h0M675.3 297h0M572.7 204.2h0M500.7 353.9h0M560.7 249.7h0M547.8 192.6h0M456.5 170.5h0M643.1 281.4h0M673.4 390.6h0M583.6 333.8h0M584 379.5h0M654.2 267.3h0M692.5 242.7h0M665.1 298.6h0M560.3 206.1h0"/>
<path stroke="#4b2c80" d="M547.7 194.9h0M613.5 221.6h0M636.5 219.7h0M539.9 228.1h0M722.8 255.6h0M661 418.3h0M479.1 174.3h0M630.8 306h0M517.8 340.7h0M563 199.9h0M631.8 305.6h0M507.2 180.5h0M546.4 187.4h0M598.6 307.8h0M680 303h0M523.4 213.4h0M599.9 236.8h0M707.4 247.1h0M546.6 328.2h0M612.9 241.9h0M586.4 241h0M621.9 309.5h0M525.3 194.4h0M626.1 438.1h0M672.1 400.9h0M565.6 187.9h0M531.1 204.4h0M557.6 201.2h0M688.7 245.7h0M565 422.2h0M531.4 345.5h0M586.6 380.1h0M538.9 205.3h0M575 294.2h0M544.6 431.4h0M535.9 226.8h0M607.9 234.5h0M673.2 243.3h0M613.6 329.5h0M639.6 308.5h0M682.8 281.8h0M639.2 326.6h0M557.6 206.5h0M566.9 186.3h0M518.9 349.5h0M497.8 180.7h0M700.4 245.5h0M637.4 241.3h0M595.9 433.4h0M717.4 256.4h0M563.8 418.5h0M664.4 407.9h0M585.2 247.5h0M486.9 179.5h0M666 286.7h0M500.6 179.6h0M537.5 327.6h0M603.1 305.3h0M671.5 252.7h0M582.1 246.2h0M657 316.3h0M610.3 244.9h0M559.5 328.5h0M523.1 334.2h0M512.2 429.4h0M629.3 428.6h0M710.1 245.1h0M661 245.6h0M527.1 191.8h0M655.4 298.6h0M546.6 186.9h0M674.4 427.2h0M655.1 281h0M710.1 280h0M673 310.1h0M646.1 305.3h0M613.4 292.6h0M661.6 246.9h0M617.5 420.7h0M574.4 187.9h0M551.5 380.1h0M606.7 312.3h0M555.6 233.2h0M537.9 330.9h0M691 385.3h0M713.7 269.7h0M538.9 378.4h0M593.9 353.5h0M714.2 409.6h0M569 234.2h0M592.3 292.9h0M517 214.3h0M590.7 245.2h0M649.8 324.4h0M684.6 313.1h0M644.7 232.9h0M651 304.6h0M552.6 198.7h0M546.6 231.3h0M679.2 428.1h0M619.9 425.1h0M703.7 283.5h0M577.1 187.9h0M570.7 331.5h0M558.5 203.6h0M579.2 207.2h0M581.2 205.1h0M642.2 304.3h0M592.6 242.1h0M567.2 206.2h0M672.9 250.3h0M598.8 313.6h0M473.4 168.4h0M642.5 221.7h0M672.3 257.4h0M649.7 313.7h0M694.1 245.5h0M462.1 168.1h0M658.5 324.5h0M682.5 248h0M655 328.8h0M649.1 442h0M470.6 169.7h0M573.8 205.5h0M558.1 201.4h0M578.3 378.3h0M615.9 414.1h0M636.3 400.4h0M630.5 314.7h0M525.5 185.2h0M543 184.4h0M529.9 206.6h0"/>
<path stroke="#463786" d="M613.8 239h0M484 176.8h0M602.3 446.2h0M666.2 250.1h0M616.1 213.8h0M598.6 352.3h0M529.1 351.3h0M601.6 233.7h0M663.6 304.5h0M526 205.2h0M696.7 280.2h0M577.3 236.1h0M593.5 210.1h0M693.7 255.7h0M692.2 248.2h0M690.7 258.4h0M549.5 197.1h0M603.3 243.1h0M685.7 280.1h0M664 295.8h0M663.4 321.5h0M618 327.6h0M641.6 425.5h0M537.9 222.5h0M568.7 201.9h0M705.3 274.3h0M628.8 306.7h0M624.3 220h0M558.8 242.8h0M488.2 187.7h0M632 314.3h0M561.5 327.9h0M699.3 252.1h0M568.7 210.6h0M669.4 428.3h0M439.7 160.8h0M495.3 359.2h0M662.6 250.5h0M699.7 250.6h0M533.1 218.9h0M535.8 424.6h0M636.6 269.1h0M523.2 214.1h0M542.6 226.4h0M687.8 293.1h0M584.6 380h0M635.1 313.1h0M528.6 343.3h0M535.9 377.8h0M618.1 314.8h0M687.1 412.1h0M644.6 308.2h0M648.7 298.4h0M543.5 328.4h0M463.8 166h0M564.5 328.5h0M631.6 226.1h0M696.4 247.2h0M711.6 267.2h0M565 228.8h0M710.2 280.7h0M593.2 369.5h0M545 186.4h0M550.7 204.6h0M691.6 254.1h0M661.6 288.5h0M582.9 332.1h0M695.1 271.1h0M580.9 212.8h0M568.4 331.8h0M664.3 285.2h0M540.7 194h0M534.6 203.5h0M547.9 204h0M474.9 166h0M496.7 179.2h0M639.5 313.8h0M538.9 185.9h0M542.6 338h0M686.4 313.5h0M705.8 248.6h0M672.5 250.6h0M652.6 313.4h0M532.8 345.7h0M681.3 246.4h0M494.7 178.4h0M571.1 333h0M557.7 213.2h0M623.8 328.9h0M664.1 323.4h0M582.4 237.3h0M561.9 187.5h0M622 209.6h0M598.3 235.4h0M659.5 296h0M590.8 295.4h0M502.5 425.4h0M676.2 282.1h0M598.6 240h0M675.4 304.2h0M602.3 294.2h0M690.5 315.1h0M682.3 248.5h0M599.2 316.9h0M504 190.7h0M594.6 433.6h0M633.1 418.8h0M570.9 243.8h0M531.2 213.8h0M542.8 327.9h0M557.2 378.9h0M572.2 203.9h0M573.8 331.3h0M711.3 270.5h0M678.6 420.5h0M447.1 164.2h0M681.8 405.3h0M611.2 375h0M638.8 425.2h0M501.2 366h0M570.6 331.6h0M675.1 403.4h0M522.1 182.1h0M702.9 286.1h0M671 309.3h0M652 312.7h0M603.2 207.3h0M597.3 232.5h0M645.7 305.7h0M673.8 412.4h0M719.8 257.2h0M703.5 279.8h0M650.5 324.3h0M600.8 347.5h0M552.8 238.9h0M633.5 314.4h0M505.5 189.9h0M588.5 244.4h0"/>
<path stroke="#41438c" d="M582 206.5h0M699.3 403.2h0M539.3 194.5h0M528.1 207.3h0M509.5 437.4h0M649.1 304.4h0M667.1 274.2h0M670.4 284.7h0M636 423.4h0M561.9 216h0M665.7 399.2h0M588.4 230.3h0M538.5 205.2h0M672.9 413.9h0M536.9 352.9h0M597.1 232.5h0M544.9 206.6h0M518.7 191.5h0M663.7 253.7h0M535.4 333.5h0M602.5 238.2h0M701.4 273.8h0M565.4 439.3h0M550.8 206.5h0M471.9 161.8h0M585.1 364.3h0M687.6 258.1h0M560.9 235.5h0M620 295.6h0M700.7 251.6h0M571.1 378.1h0M702.3 252h0M582.9 360.7h0M552.2 207.4h0M646.3 432.2h0M683.9 260.7h0M701.7 250.5h0M721.7 258.3h0M561.2 221.6h0M695.4 271.4h0M626.3 315.4h0M588.1 439.2h0M631.7 227.9h0M593.1 329.1h0M544.9 210.8h0M660.2 250.9h0M583.2 225.2h0M674.6 252.2h0M690.2 271.1h0M524.7 351.4h0M584.7 232.9h0M554.7 331.3h0M573.2 233h0M711.1 262.4h0M587.4 366.8h0M602.9 441.2h0M622.2 309.1h0M529 341.9h0M566 323.1h0M590.2 207.8h0M608.7 428.4h0M587.8 241.5h0M666.2 286h0M645 432.1h0M665.2 284.4h0M554.5 237h0M583.8 244h0M677.6 281.2h0M535.8 193.7h0M668.3 403.5h0M658.9 281.6h0M566.4 356h0M681.9 308.7h0M701.8 275.6h0M596.6 215h0M632.6 379.4h0M664.3 282.4h0M563.1 244.9h0M563 432.2h0M528.5 191.7h0M560 330.8h0M671.8 249.4h0M562.5 202.3h0M682.4 285.5h0M684 283.2h0M690.2 253h0M663.8 249.2h0M614.9 216.4h0M653 390h0M526.1 215.2h0M613.7 233.7h0M460.2 166.4h0M628.3 307.7h0M641.6 387.3h0M713.6 270h0M665.5 311.6h0M471.6 157.8h0M627.4 386.1h0M579.3 244h0M532.3 379.6h0M584 242.6h0M565.3 242.1h0M680.6 255h0M530 214.7h0M614.3 329.2h0M587.2 334.5h0M520.4 435.2h0M661.3 288.1h0M541.4 352.3h0M600.2 235.7h0M664.5 272.1h0M568.7 244.5h0M529.5 352.1h0M706.9 254.1h0M602.1 288.4h0M510.6 182h0M598.6 308.5h0M635.5 315h0M640.4 232.3h0M447.8 163.1h0M694.7 276.6h0M520 350.6h0M586.8 376.4h0M658.3 259.1h0M701.1 280.6h0M462.5 166.5h0M519.4 339.5h0M697.8 254.2h0M617 232.2h0M702.6 281.6h0M665.3 281.7h0M639.5 313.7h0M522.3 350.9h0M698.5 278.1h0M620.4 239.6h0M678.5 246.6h0M707.4 250.3h0M639.7 229.6h0M677.5 283.6h0M637.9 440.7h0M613.5 326.6h0M661.9 267.3h0M695.9 279.7h0M592.1 214.6h0M581 244.1h0M676 285.5h0M686.1 280.1h0M597.8 224.5h0"/>
<path stroke="#394e8e" d="M584.8 424h0M561.6 332.4h0M579.6 239.1h0M560.4 334.2h0M467.3 164.8h0M681.6 278.5h0M590.6 222.2h0M630.7 300.1h0M659.7 264.6h0M626.7 379.1h0M579.4 209.3h0M666.6 256.7h0M549.7 226h0M639.4 286.9h0M583.1 328.1h0M554.2 336.9h0M560.4 211.1h0M463.6 160.7h0M595.6 242.4h0M690.8 310.2h0M601 300.8h0M584 353.9h0M628.8 312h0M710.2 269.9h0M668.4 262.6h0M582.3 358.8h0M591.7 231.6h0M473.4 164.7h0M634.4 384.1h0M578.8 219.2h0M567.8 239.3h0M535.9 332.5h0M560.7 359.4h0M651.2 324.8h0M670.8 284.8h0M659.6 313.8h0M679.6 281.5h0M698.6 313.5h0M658.4 264.7h0M715.9 251.8h0M657.7 322.6h0M537.4 213.6h0M708.8 270.7h0M665.9 250.4h0M636.5 383.1h0M546.9 346.6h0M688.4 282.7h0M600.7 220.9h0M548.9 206.9h0M566.3 377.3h0M677.9 311.6h0M693.9 409.7h0M557.8 210.1h0M571.3 347.8h0M569.5 333.4h0M688.9 281.2h0M675.5 416.3h0M693.2 270.3h0M704.9 277.8h0M698.4 311.2h0M504.7 369.5h0M669 273.1h0M583.8 321.4h0M627.7 385.8h0M525.1 211.9h0M636.7 235h0M541.3 206.4h0M580.5 222.8h0M713.4 407.5h0M586.7 213.1h0M693.8 276.4h0M676.4 279h0M583.6 210.6h0M528.7 184.5h0M642 233.9h0M577.9 213.9h0M544.1 227h0M668.4 320.1h0M546.7 226.1h0M565.6 240.9h0M594.2 292.2h0M704.9 281.2h0M582.8 212.2h0M672.2 286.7h0M681.2 245.9h0M543 217.9h0M580.1 350.9h0M675.1 287.2h0M668.6 252.1h0M605.1 237.1h0M677.9 259.2h0M633.5 290.8h0M705.7 281.8h0M686 247.1h0M567.4 231.7h0M575.7 355.9h0M662.5 295h0M563.6 439.9h0M689.7 308.8h0M668.3 259.3h0M704.5 275.8h0M562.1 205h0M684.4 284.1h0M604.8 208h0M578.4 236.8h0M673.1 294.7h0M695.8 260.7h0M706.9 277.2h0M581.3 226h0M477.1 161.4h0M681 257.4h0M557.7 379.2h0M572.1 333.9h0M602.8 371.8h0M656.8 403.2h0M641.6 379.9h0M569.5 209.8h0M564.4 329.1h0M701.3 273.4h0M586 216h0M497 423.1h0M520.5 219.1h0M560.1 231.7h0M691 257.6h0M565.4 361.3h0M579.8 206.4h0M660.7 282.2h0M721.2 257.7h0M474.5 160.1h0M695.9 270.2h0M541.1 217.3h0M525.5 212.7h0M527.6 355.9h0M566.2 207.6h0M528.7 331.3h0M589.1 356.2h0M663.9 276.2h0M574.1 233.6h0M715.7 254.9h0M605.7 328.5h0M664 257h0M578.6 228.4h0M614.9 418.9h0M701.9 281.8h0M675.2 314.3h0M428 154.8h0M591.9 353.4h0M462 165.9h0M553.7 222.1h0M526.8 346.7h0M635.7 354.1h0"/>
<path stroke="#2f5890" d="M567.3 352.6h0M718.9 260.3h0M697.2 405h0M550 330.8h0M577.8 355.6h0M666.8 403.5h0M563.8 338.1h0M661.6 413.8h0M701.4 408.4h0M591.9 352h0M706.8 277.7h0M627.1 218.9h0M468.6 157.7h0M665.4 263h0M578.1 353.7h0M558.8 436.1h0M526.2 376.2h0M570.9 350.7h0M567.8 231.4h0M569.7 352.9h0M572.2 428.3h0M681.9 259.3h0M593.4 380.5h0M502.3 368.6h0M501.1 369.3h0M674.1 256.9h0M529.6 355.6h0M548.2 201.9h0M696.3 275.6h0M564.1 216.7h0M568.7 335.5h0M533.4 355.8h0M655.4 425.5h0M576.3 231.2h0M458.2 157.8h0M513.8 373h0M681.4 281.6h0M560.1 209.4h0M714.3 407.2h0M683.9 260.9h0M563 226.6h0M672.7 282.3h0M595.3 210.1h0M689.2 313.4h0M619.1 316.6h0M623.8 288.5h0M529.4 352.3h0M573.3 235.2h0M547.9 352.6h0M663.2 266.1h0M658.3 286.7h0M631.2 287.5h0M548.8 351.2h0M529.9 355.5h0M579.6 228.1h0M661.7 418.5h0M536.8 337h0M599.2 211.6h0M455.7 153.4h0M665.5 265.8h0M566 227.1h0M528 358.4h0M609.2 211.9h0M703.7 409.9h0M600.7 217.1h0M474.5 163.5h0M738 413h0M540.8 212.8h0M568.7 212.6h0M545.4 354.7h0M683.2 310.6h0M629.7 296.9h0M682.8 316.5h0M683 280.7h0M690.4 309.5h0M465.4 162.2h0M544.4 207.8h0M560.3 223.4h0M566.9 210.3h0M542 210.1h0M661.3 284.8h0M578.3 214h0M680.7 257.3h0M669.1 265h0M580.2 356.4h0M611.8 441.1h0M670.9 275.2h0M593.5 296.7h0M684.2 411.2h0M666.6 252.4h0M687.7 391.1h0M704.5 266.1h0M711.6 267.2h0M534.5 434.1h0M564 347.7h0M621.4 379h0M607.8 236.5h0M593.4 350.6h0M640.9 423.1h0M547.1 353.4h0M729.2 405.8h0M594.6 226.7h0M708.8 274.9h0M452.2 159.6h0M661.5 261.8h0M549.5 377.3h0M698.7 404.1h0M678.7 288h0M676 311.8h0M539.9 353.5h0M664.2 273.8h0M672.7 311.1h0M470 158.3h0M612.8 384.5h0M529.4 344.9h0M715.8 264.6h0M581.4 346.5h0M578.2 232h0M458.5 159.1h0M713.1 261.9h0M662.4 406.6h0M556.5 330.6h0M666.5 285.6h0M660 264.2h0M549.9 230.6h0M568.3 227h0M606.9 431.7h0M628.4 435.2h0M565.3 218.1h0M644 314.7h0M552.2 357.5h0M693.8 388.9h0M691.5 304.9h0M432.6 156.8h0M670.9 265.8h0M689.7 410.6h0M560.8 243.3h0M604.9 233.3h0M683.1 389.8h0M540.4 330.4h0M702 251.8h0M589.4 428.6h0M696.5 268.6h0M697.4 279.7h0M577.8 235.8h0M661 274.1h0M668.1 319.1h0M562.1 211.9h0M552.4 329.9h0M566.1 326.9h0M458.7 160.4h0M530.5 428.9h0M670.9 262.5h0M559.4 207.8h0M674.2 278.1h0M663 276h0M573.5 240.2h0M577.6 212.6h0M590.9 350.2h0M676.1 295.1h0M511.4 372.9h0M697.5 270.4h0M706.5 254.7h0M559.1 230.3h0"/>
<path stroke="#216291" d="M618.4 381.7h0M610.2 417.6h0M568.8 229.7h0M580.9 326h0M598.1 377.9h0M661.1 286.9h0M680.4 290.5h0M571.4 230.5h0M661.3 313.3h0M559.3 206.2h0M434.6 152.8h0M594.3 296.9h0M593.3 228.1h0M634.6 381h0M634.4 290.8h0M536.5 213h0M537 331.7h0M597.4 230.9h0M528 373h0M539.2 214.8h0M584.9 212.6h0M465.3 162.6h0M557.6 234.4h0M529.2 376.3h0M446.4 161.8h0M546.6 360.5h0M665.8 400.8h0M466.4 154h0M578.6 230.7h0M434.9 150.4h0M704.2 410.7h0M588.1 225.3h0M529.4 210.9h0M537.5 212.4h0M670.3 318.1h0M576.1 356.2h0M547.6 427.5h0M593.9 372.8h0M529.5 359.9h0M690.5 277.2h0M516.3 373.1h0M571.3 206.4h0M562.7 354.2h0M576.6 214.6h0M682.4 313.3h0M597.1 216.9h0M463.2 162.4h0M549 349h0M549.1 221h0M465.1 157.4h0M550.9 227h0M566.6 337.2h0M689.6 401.9h0M609.2 209.1h0M560.9 236.3h0M563.6 224.1h0M719.2 256.6h0M562.8 206h0M572.8 353.9h0M537.8 355.5h0M441.1 160.5h0M660 387.6h0M666.3 276.2h0M574.4 229.2h0M580.3 322.6h0M443.4 160.4h0M443.9 153.2h0M566.7 355.1h0M575.8 233.5h0M559.2 374.7h0M591.1 374.2h0M686.8 315.5h0M590.1 234.1h0M547 343.7h0M698.5 259.9h0M592.9 340h0M595.1 293.4h0M590.6 354.2h0M687.2 255.9h0M551.9 208.2h0M579.8 354.5h0M536.7 351h0M449.7 152.1h0M562.6 350.3h0M687.8 289.8h0M465.2 161.3h0M583.7 226.6h0M633.6 316h0M589.4 355.1h0M689.9 425.7h0M570.6 362.5h0M685.6 396.1h0M451 161.2h0M713.6 402.7h0M597.6 235.1h0M632.8 323.9h0M571.4 354.9h0M507.2 365.1h0M609.1 381.9h0M595.7 235.1h0M564.3 216.6h0M587.4 296h0M628 324.3h0M640.1 378.9h0M589.8 296.7h0M612.8 437h0M577.2 234.5h0M656.6 430.5h0M661.8 286.1h0M565.1 325.3h0M685.2 258.5h0M535.8 214.3h0M674.1 398.5h0M623 437h0M449.8 158.6h0M593.5 354.3h0M672.3 285.6h0M544.7 335.4h0M617.5 377.3h0M542.3 338.2h0M654.2 382.8h0M714.1 404.5h0M604.1 299.1h0M567 223.9h0M579.5 358.7h0M641.4 414.3h0M620.5 295.2h0M462.1 152.2h0M545.4 225.1h0M599.1 299.9h0M609.9 381.7h0"/>
<path stroke="#0e6b90" d="M647.7 418.1h0M703.1 266.5h0M559.1 221.3h0M665.4 386.4h0M562.1 215.1h0M706.8 268.9h0M677.5 286.9h0M564.7 438.9h0M434.2 153.5h0M577.2 233.2h0M590.1 233h0M574.2 224.2h0M584.9 346.1h0M659.6 387.3h0M456.1 162h0M596.1 378.6h0M600.9 296h0M540.2 212.6h0M669.9 270.1h0M670.8 275.3h0M584 346h0M576.1 352.7h0M622.5 380.1h0M688.3 286h0M619.2 326.4h0M609.8 297.3h0M561.7 213.4h0M551.3 215.9h0M553.4 332.6h0M705.1 266.2h0M568.9 232.6h0M587.9 374.6h0M565.6 223.8h0M573.5 220.3h0M544.1 353h0M603.2 376.1h0M555.4 235.8h0M575.9 218h0M693.8 269.1h0M576.6 358.6h0M686.9 384.4h0M544.6 208.4h0M553.3 221.2h0M592.1 238.6h0M663.8 405.5h0M635.3 296.5h0M553.7 377.1h0M699 304.2h0M696 265.2h0M678.9 269.5h0M588.1 350.6h0M557.8 223.5h0M544.2 215h0M677.5 314h0M678.5 264.6h0M556.1 235.7h0M567.6 228h0M612 378.4h0M580.4 353.5h0M669.4 275.2h0M562.8 230.3h0M630.2 291.3h0M709.4 262.3h0M590.8 220.4h0M555 212.7h0M577.4 359.1h0M692.6 278h0M665.2 382.4h0M595.9 376.3h0M560.5 352.5h0M596.4 339.9h0M665 293.8h0M459.6 160.2h0M667.9 409.8h0M593.2 223.1h0M590.4 375.4h0M675.4 270.4h0M558.1 235.7h0M612.2 298.4h0M575.7 221.1h0M641.5 287.8h0M679.8 410.3h0M507.4 370.7h0M543 213.6h0M566.6 238.1h0M677.1 316.2h0M634.9 382.3h0M551.4 231.5h0M629.9 325.4h0M662.1 273.1h0M702.5 259.5h0M577.8 338.8h0M590.3 349.3h0M688.5 269.2h0M611.2 296.9h0M588.9 350.3h0M567.1 354.4h0M543.3 353.2h0M546.9 209.8h0M570.4 347.6h0M671.2 271.7h0"/>
<path stroke="#007491" d="M624.2 298.5h0M595.4 210.9h0M559.2 347.1h0M708.1 264.1h0M605.9 225.9h0M546 351h0M580.1 362h0M510.3 364.2h0M592.6 220.4h0M450.2 161.6h0M553.9 227.5h0M609.9 375.7h0M587 350.6h0M555 340.3h0M660.5 275.1h0M507.6 367.7h0M701.8 260.8h0M578.7 222.9h0M580 347.3h0M665.7 293.9h0M678.5 312h0M561 215.2h0M594.1 320.7h0M556.2 344.1h0M630.8 292.6h0M537.7 212.1h0M512.4 362.7h0M686.1 268.1h0M437.9 152.4h0M515.8 364.2h0M660.1 274.5h0M533 210h0M549.4 220h0M673.5 414h0M532.8 362.3h0M608.6 293.1h0M601.3 225.4h0M641.2 315.2h0M439.5 151.6h0M554.5 338.8h0M571.6 338.6h0M544.1 213.3h0M548.7 341.8h0M514.8 430.9h0M539.1 360.1h0M679.3 287.5h0M452.4 152.2h0M549.7 221.4h0M432.9 151.3h0M587.1 374.1h0M558.6 350.7h0M536.9 208.8h0M544.3 343.6h0M648.9 316.2h0M445.2 156.5h0M662.3 312.8h0M533.6 218.7h0M562.4 363.9h0M447.5 157.1h0M648.4 288.2h0M654.7 414.5h0M669.7 270.4h0M557.3 353.7h0M618.7 380.3h0M566.6 348.5h0M420.5 150.2h0M596 326.3h0M675.7 386.6h0M559.8 344.5h0M550.8 337.6h0M557.5 221.7h0M634.6 380.4h0M446.7 156.1h0M655.5 413.7h0M442.1 153.1h0M614.6 296.2h0M540.5 359.7h0M573.5 223.3h0M655.4 381.4h0M681.2 404.1h0M701.8 264.8h0M540.8 345.5h0M533 341.6h0M560.8 333h0M518.4 371.5h0M550.3 222.3h0M570.9 216.6h0M663.2 405.4h0M432.9 149.8h0M585 338.8h0M567.7 347.1h0M670.8 408.2h0M577.6 344.8h0M539.5 374h0M595.1 375.9h0"/>
<path stroke="#007d90" d="M553.7 344.4h0M442.5 152.8h0M524.8 363h0M560.3 214.4h0M573.9 209.8h0M550.6 375.9h0M517.2 360.1h0M433.2 143h0M646.8 383.2h0M649.2 384.7h0M564.7 345.1h0M437.3 150.9h0M564.2 432.8h0M602.1 297.1h0M601.8 225h0M570.2 352.7h0M642.9 297.3h0M551.4 335h0M658.7 293.8h0M431.8 140.9h0M541.6 374.2h0M578.6 328h0M637.9 383.2h0M429.2 144.4h0M612.9 381.9h0M686 267.9h0M579.3 375.9h0M645.4 383h0M433.1 151h0M678.7 387.3h0M576.2 223.3h0M445.7 152.8h0M587.1 353.8h0M694.8 309.2h0M574.2 219.1h0M573.9 345.8h0M583.1 375.4h0M577 364.2h0M626.3 382.3h0M609.4 325h0M694.4 265h0M552.8 375.4h0M432.4 141.9h0M426.7 142.5h0M434.9 154.7h0M590.9 374.1h0M436.3 156.1h0M684.7 420.2h0M426.7 151.3h0M428.6 144h0M583.5 364.7h0M438.7 154.8h0M570.9 346.5h0M595.2 375.7h0M453.5 153.4h0M588.9 339h0M659 386.2h0M604.7 293.6h0M622.9 323.3h0M695.8 264.8h0M436.9 155.8h0M552.7 376.7h0M440 150.9h0M562.1 376.7h0M556.8 347h0M570.8 375.2h0M540.1 363.2h0M508.2 368.5h0M437.2 153.3h0M572.2 221.4h0M430.9 148.5h0M700.4 261.4h0M665.1 319.6h0M637 385.2h0M556.2 208h0M596.7 226.6h0M548.3 223.7h0M613.7 228.3h0M584.5 368h0M593 432h0M580.7 338.1h0M593.2 230.6h0M651 288.2h0M681.4 287.5h0M657.7 289.5h0M431.6 146.8h0M693 262.6h0M566.5 212.5h0M445 160.7h0M682.5 387.5h0M686.6 286.8h0"/>
<path stroke="#008690" d="M531.1 362.6h0M642.5 383.9h0M610.6 380.1h0M552.4 363.9h0M612.2 379.8h0M687.5 419.9h0M664 316.7h0M546.6 214h0M544.2 215.2h0M426.4 148.6h0M423.7 147.4h0M604.9 433.8h0M563.2 360h0M540.6 340h0M425.2 147.5h0M586.6 345.8h0M701.2 262h0M431.1 152.2h0M542.5 361.5h0M584.8 366.4h0M564.7 328.7h0M688.8 386.9h0M440.5 154.4h0M568.4 225.3h0M422.6 151.6h0M577.2 375.7h0M427.9 144.8h0M669.8 385h0M535.1 377h0M538.2 359.3h0M686.9 290.2h0M431.2 151.7h0M680 290.3h0M583.7 366.4h0M573.3 218h0M566.2 217.7h0M557.3 339.9h0M535.9 374.4h0M422.3 148.6h0M605.8 295.2h0M663.4 386.5h0M440.5 153.3h0M442.3 156.1h0M425.6 151h0M517.9 365.2h0M539.2 214.7h0M568.5 365.4h0M671.9 293.1h0M673.9 386.3h0M427.9 154.2h0M671.8 313.8h0M685.3 388.4h0M617.8 379.2h0M663.1 291.2h0M427.7 150.4h0M426.9 146.9h0M434.1 140.8h0M444 158.8h0M589 345.4h0M689.4 266.5h0M687.5 290.9h0M681.2 290h0M551.3 354.9h0M429.4 151.9h0"/>
<path stroke="#00908e" d="M536.9 364.7h0M515.2 364.4h0M541.4 360.7h0M668.6 293.6h0M529.6 365.8h0M607.2 324.9h0M608.9 292.2h0M549.7 342.1h0M639.5 382.7h0M617.6 380.5h0M635.8 294.3h0M578.6 364.9h0M579.9 374.4h0M687.2 265h0M570.9 346.4h0M595.2 377.9h0M613 320.5h0M672.9 387.4h0M566.5 364.9h0M707.1 263.2h0M426.1 147.8h0M433.3 143.3h0M530 367.9h0M531.7 373.1h0M518.3 367.8h0M662.9 384.6h0M558.2 343.9h0M569.9 229h0M429.3 144.2h0M586.1 342.9h0M606.3 321.2h0M688 386.8h0M521.3 363.6h0M567.1 358.8h0"/>
<path stroke="#00988b" d="M623.5 324.4h0M528 362.6h0M521.5 369.6h0M654 292.3h0M574.3 367.1h0M523.6 373.4h0M530.8 214h0M692.4 266.1h0M539.1 430.3h0M566.7 374h0M662.1 294.8h0M557.8 374.3h0M604.8 379.5h0M532.1 365.7h0M685.4 388.1h0M604.5 378.5h0M654.7 383.8h0M636.8 322.3h0M613.3 379.6h0M605.7 296.5h0"/>
<path stroke="#00a188" d="M555.8 372.9h0M533.5 368.2h0M611 320.5h0M592 341.3h0M511.1 368.7h0M500 427.7h0M590.6 321h0M533 364.1h0M642 383.3h0M537 373.7h0M535.3 363.9h0M691.4 388.3h0M540.3 364.5h0M662.4 291.8h0M608.4 320.2h0M552.2 364.9h0M580.6 369.8h0M694.3 263.6h0M531.3 370.5h0M560.3 342.4h0M555.8 373.7h0"/>
<path stroke="#00a983" d="M528.9 365.7h0M578.8 367.8h0M567.5 374.1h0M694.1 388.7h0M649.7 320.7h0M537.6 368h0M562.8 341.4h0M518.7 364.6h0"/>
<path stroke="#00b17c" d="M578.7 343.9h0M542.8 370.9h0M567.6 341.8h0M656.4 316.9h0M581.5 344.1h0M549 370.3h0M560.9 369.1h0M631.7 381.9h0M526.4 370.2h0M659.3 291.7h0M574.4 366.5h0M568.1 340.8h0"/>
<path stroke="#00b973" d="M555.1 369.1h0M629.8 381.9h0M554.5 373h0M678.3 308.7h0M548.3 366.6h0M578.1 369.3h0M651.4 385.3h0M616.4 320.3h0M557.6 369.2h0M543.2 373.3h0"/>
<path stroke="#00c168" d="M540.9 369.1h0M547.8 370.7h0M564.1 372.7h0M573.6 365.2h0M449.2 156.5h0M624.2 321.2h0M618.8 321.7h0"/>
<path stroke="#00c85a" d="M594 322.1h0M626.1 320.1h0"/>
<path stroke="#36cf48" d="M611.6 322.4h0M570.7 341.4h0"/>
<path stroke="#5fd52f" d="M564.5 369.7h0M654.3 318.4h0M660.4 317.1h0"/>
<path stroke="#81d900" d="M550.3 369.9h0"/>
<path stroke="#a0de00" d="M647.9 319.4h0"/>
<path stroke="#dce300" d="M583.3 341.8h0M564.9 371.6h0M574.6 342.5h0"/>
<path stroke="#f5e500" d="M575.6 341.8h0M572.7 372h0M583.5 342.1h0M575 341.3h0"/>
</g>
<defs><linearGradient id="vg" x1="0" y1="1" x2="0" y2="0"><stop offset="0.0000" stop-color="#4b0057"/><stop offset="0.0625" stop-color="#4f146e"/><stop offset="0.1250" stop-color="#4b2c80"/><stop offset="0.1875" stop-color="#42408b"/><stop offset="0.2500" stop-color="#34538f"/><stop offset="0.3125" stop-color="#1d6491"/><stop offset="0.3750" stop-color="#007491"/><stop offset="0.4375" stop-color="#008490"/><stop offset="0.5000" stop-color="#00948d"/><stop offset="0.5625" stop-color="#00a387"/><stop offset="0.6250" stop-color="#00b17c"/><stop offset="0.6875" stop-color="#00bf6b"/><stop offset="0.7500" stop-color="#12cc53"/><stop offset="0.8125" stop-color="#67d728"/><stop offset="0.8750" stop-color="#a0de00"/><stop offset="0.9375" stop-color="#d6e200"/><stop offset="1.0000" stop-color="#ffe600"/></linearGradient></defs>
<rect x="900" y="100" width="30" height="410" fill="url(#vg)"/>
<rect x="899.5" y="99.5" width="31" height="411" fill="none" stroke="#777" stroke-width="1"/>
<g font-family="'DejaVu Sans','Liberation Sans',sans-serif" font-size="12px" letter-spacing="0.3" fill="#333344"><text x="899.5" y="91.5">Total Inches</text><text x="934" y="476.9" letter-spacing="0">0.2</text><text x="934" y="410.9" letter-spacing="0">0.4</text><text x="934" y="344.9" letter-spacing="0">0.6</text><text x="934" y="278.9" letter-spacing="0">0.8</text><text x="934" y="212.9" letter-spacing="0">1</text><text x="934" y="146.9" letter-spacing="0">1.2</text></g>
</svg>
<style>
.abs{position:absolute;box-sizing:border-box}
#toggle{left:9px;top:6px;width:223px;height:59px;border:1px solid #a3adc4;border-radius:4px;background:#fff}
#toggle .sw{position:absolute;top:10px;height:20px;width:20px}
#toggle .t{position:absolute;left:0;width:221px;top:33px;text-align:center;font-size:12px;line-height:14px;color:#000}
#panel{left:5px;top:70px;width:322px;height:410px;border:1px solid #c3cfe0;background:#f3f6fa}
#dd{left:16px;top:81px;width:300px;height:36px;border:1px solid #ccd5e3;border-radius:4px;background:#fff;text-align:center;font-size:16px;line-height:34px;color:#262626;padding-right:0}
#ddarrow{left:295px;top:97px;width:0;height:0;border-left:5px solid transparent;border-right:5px solid transparent;border-top:5px solid #999}
.lab{font-weight:bold;font-size:12px;line-height:14px;color:#243358;left:41px;white-space:nowrap}
.sw2{width:20px;height:20px}
#desc{left:16px;top:356px;width:300px;height:58px;border:1px solid #c5d1e2;background:#f3f6fa;font-size:13px;line-height:18px;color:#506784;padding:10px 0 0 10px;white-space:nowrap;letter-spacing:0}
#swl{left:5px;width:323px;top:437px;text-align:center;font-weight:bold;font-size:12px;line-height:14px;color:#506784;padding-right:6px}
#track{left:16px;top:460px;width:300px;height:4px;border-radius:2px;background:#e9e9e9}
#trackb{left:16px;top:460px;width:16px;height:4px;border-radius:2px;background:#abe2fb}
#handle{left:24px;top:455px;width:14px;height:14px;border-radius:7px;border:2px solid #96dbfa;background:#fff}
</style>
<div id="toggle" class="abs">
<div class="sw" style="left:21px;background:#fafa4f"></div>
<div class="sw" style="left:41px;background:#87e16e"></div>
<div class="sw" style="left:61px;background:#00c088"></div>
<div class="sw" style="left:81px;background:#00998f"></div>
<div class="sw" style="left:101px;background:#00707e"></div>
<div class="sw" style="left:121px;background:#1f495a"></div>
<div class="t">Toggle Colorscale Picker</div></div>
<div id="panel" class="abs"></div>
<div id="dd" class="abs">Divergent</div><div id="ddarrow" class="abs"></div>
<div class="abs lab" style="top:136px">RESET</div>
<div class="abs sw2" style="left:111px;top:127px;background:#fafa4f"></div>
<div class="abs sw2" style="left:131px;top:127px;background:#87e16e"></div>
<div class="abs sw2" style="left:151px;top:127px;background:#00c088"></div>
<div class="abs sw2" style="left:171px;top:127px;background:#00998f"></div>
<div class="abs sw2" style="left:191px;top:127px;background:#00707e"></div>
<div class="abs sw2" style="left:211px;top:127px;background:#1f495a"></div>
<div class="abs lab" style="top:160px">Spectral</div>
<div class="abs sw2" style="left:111px;top:151px;background:#ad0041"></div>
<div class="abs sw2" style="left:131px;top:151px;background:#e8294a"></div>
<div class="abs sw2" style="left:151px;top:151px;background:#ff6124"></div>
<div class="abs sw2" style="left:171px;top:151px;background:#ffaa4f"></div>
<div class="abs sw2" style="left:191px;top:151px;background:#ffdf7d"></div>
<div class="abs sw2" style="left:211px;top:151px;background:#ffffb7"></div>
<div class="abs sw2" style="left:231px;top:151px;background:#e2f68b"></div>
<div class="abs sw2" style="left:251px;top:151px;background:#9ddf9e"></div>
<div class="abs sw2" style="left:271px;top:151px;background:#39c5a3"></div>
<div class="abs lab" style="top:184px">RdYlGn</div>
<div class="abs sw2" style="left:111px;top:175px;background:#b20016"></div>
<div class="abs sw2" style="left:131px;top:175px;background:#e60000"></div>
<div class="abs sw2" style="left:151px;top:175px;background:#ff6124"></div>
<div class="abs sw2" style="left:171px;top:175px;background:#ffaa4f"></div>
<div class="abs sw2" style="left:191px;top:175px;background:#ffdf7d"></div>
<div class="abs sw2" style="left:211px;top:175px;background:#ffffb7"></div>
<div class="abs sw2" style="left:231px;top:175px;background:#d4f07c"></div>
<div class="abs sw2" style="left:251px;top:175px;background:#97db57"></div>
<div class="abs sw2" style="left:271px;top:175px;background:#3ec057"></div>
<div class="abs lab" style="top:208px">RdBu</div>
<div class="abs sw2" style="left:111px;top:199px;background:#71001d"></div>
<div class="abs sw2" style="left:131px;top:199px;background:#be001c"></div>
<div class="abs sw2" style="left:151px;top:199px;background:#e75645"></div>
<div class="abs sw2" style="left:171px;top:199px;background:#ffa17b"></div>
<div class="abs sw2" style="left:191px;top:199px;background:#ffd9c4"></div>
<div class="abs sw2" style="left:211px;top:199px;background:#f7f7f7"></div>
<div class="abs sw2" style="left:231px;top:199px;background:#cce6f1"></div>
<div class="abs sw2" style="left:251px;top:199px;background:#83c7e1"></div>
<div class="abs sw2" style="left:271px;top:199px;background:#0b95c8"></div>
<div class="abs lab" style="top:232px">PiYG</div>
<div class="abs sw2" style="left:111px;top:223px;background:#9c0053"></div>
<div class="abs sw2" style="left:131px;top:223px;background:#d3007d"></div>
<div class="abs sw2" style="left:151px;top:223px;background:#ee70b0"></div>
<div class="abs sw2" style="left:171px;top:223px;background:#fcb3dc"></div>
<div class="abs sw2" style="left:191px;top:223px;background:#ffdff0"></div>
<div class="abs sw2" style="left:211px;top:223px;background:#f7f7f7"></div>
<div class="abs sw2" style="left:231px;top:223px;background:#e2f6cc"></div>
<div class="abs sw2" style="left:251px;top:223px;background:#ade37a"></div>
<div class="abs sw2" style="left:271px;top:223px;background:#6bbe20"></div>
<div class="abs lab" style="top:256px">PRGn</div>
<div class="abs sw2" style="left:111px;top:247px;background:#47004e"></div>
<div class="abs sw2" style="left:131px;top:247px;background:#800085"></div>
<div class="abs sw2" style="left:151px;top:247px;background:#a06eaf"></div>
<div class="abs sw2" style="left:171px;top:247px;background:#c8a4d2"></div>
<div class="abs sw2" style="left:191px;top:247px;background:#ebd3e9"></div>
<div class="abs sw2" style="left:211px;top:247px;background:#f7f7f7"></div>
<div class="abs sw2" style="left:231px;top:247px;background:#d3f1d0"></div>
<div class="abs sw2" style="left:251px;top:247px;background:#97dd9a"></div>
<div class="abs sw2" style="left:271px;top:247px;background:#30b057"></div>
<div class="abs lab" style="top:280px">RdYlBu</div>
<div class="abs sw2" style="left:111px;top:271px;background:#b20016"></div>
<div class="abs sw2" style="left:131px;top:271px;background:#e60000"></div>
<div class="abs sw2" style="left:151px;top:271px;background:#ff6124"></div>
<div class="abs sw2" style="left:171px;top:271px;background:#ffaa4f"></div>
<div class="abs sw2" style="left:191px;top:271px;background:#ffdf83"></div>
<div class="abs sw2" style="left:211px;top:271px;background:#ffffb7"></div>
<div class="abs sw2" style="left:231px;top:271px;background:#dbf4f9"></div>
<div class="abs sw2" style="left:251px;top:271px;background:#9edbeb"></div>
<div class="abs sw2" style="left:271px;top:271px;background:#61afd5"></div>
<div class="abs lab" style="top:304px">BrBG</div>
<div class="abs sw2" style="left:111px;top:295px;background:#5a2e00"></div>
<div class="abs sw2" style="left:131px;top:295px;background:#954d00"></div>
<div class="abs sw2" style="left:151px;top:295px;background:#ca7d04"></div>
<div class="abs sw2" style="left:171px;top:295px;background:#e5c172"></div>
<div class="abs sw2" style="left:191px;top:295px;background:#f9e7be"></div>
<div class="abs sw2" style="left:211px;top:295px;background:#f5f5f5"></div>
<div class="abs sw2" style="left:231px;top:295px;background:#beebe5"></div>
<div class="abs sw2" style="left:251px;top:295px;background:#64cfc1"></div>
<div class="abs sw2" style="left:271px;top:295px;background:#009a8f"></div>
<div class="abs lab" style="top:328px">RdGy</div>
<div class="abs sw2" style="left:111px;top:319px;background:#71001d"></div>
<div class="abs sw2" style="left:131px;top:319px;background:#be001c"></div>
<div class="abs sw2" style="left:151px;top:319px;background:#e75645"></div>
<div class="abs sw2" style="left:171px;top:319px;background:#ffa17b"></div>
<div class="abs sw2" style="left:191px;top:319px;background:#ffd9c4"></div>
<div class="abs sw2" style="left:211px;top:319px;background:#ffffff"></div>
<div class="abs sw2" style="left:231px;top:319px;background:#e0e0e0"></div>
<div class="abs sw2" style="left:251px;top:319px;background:#bababa"></div>
<div class="abs sw2" style="left:271px;top:319px;background:#878787"></div>
<div id="desc" class="abs">Use divergent colorscales for data that smoothly<br>changes around a centerpoint (such as zero).</div>
<div id="swl" class="abs">SWATCHES: 6</div>
<div id="track" class="abs"></div><div id="trackb" class="abs"></div><div id="handle" class="abs"></div>
<svg class="abs" style="left:316px;top:468px" width="11" height="11" viewBox="0 0 11 11"><path d="M2.5,10.5L10.5,2.5M6.5,10.5L10.5,6.5" stroke="#555" stroke-width="1" fill="none"/></svg>
</body></html>
